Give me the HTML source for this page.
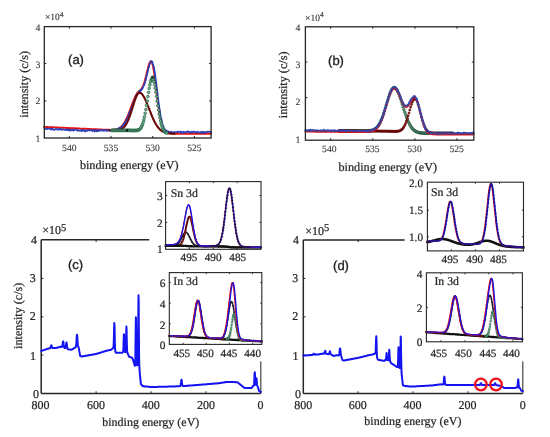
<!DOCTYPE html>
<html><head><meta charset="utf-8"><title>XPS spectra</title>
<style>
html,body{margin:0;padding:0;background:#fff;}
body{width:550px;height:437px;overflow:hidden;}
svg{display:block;filter:blur(0.3px);}
text{text-rendering:geometricPrecision;}
</style></head>
<body>
<svg width="550" height="437" viewBox="0 0 550 437">
<rect width="550" height="437" fill="#fff"/>
<polyline points="43.9,126.9 44.5,126.9 45.0,126.9 45.6,126.9 46.1,127.0 46.7,127.0 47.2,127.0 47.8,127.0 48.4,127.1 48.9,127.1 49.5,127.1 50.0,127.1 50.6,127.2 51.2,127.2 51.7,127.2 52.3,127.3 52.8,127.3 53.4,127.3 53.9,127.3 54.5,127.4 55.1,127.4 55.6,127.4 56.2,127.4 56.7,127.5 57.3,127.5 57.8,127.5 58.4,127.5 59.0,127.6 59.5,127.6 60.1,127.6 60.6,127.6 61.2,127.7 61.8,127.7 62.3,127.7 62.9,127.7 63.4,127.8 64.0,127.8 64.5,127.8 65.1,127.9 65.7,127.9 66.2,127.9 66.8,127.9 67.3,128.0 67.9,128.0 68.4,128.0 69.0,128.0 69.6,128.1 70.1,128.1 70.7,128.1 71.2,128.1 71.8,128.2 72.4,128.2 72.9,128.2 73.5,128.2 74.0,128.3 74.6,128.3 75.1,128.3 75.7,128.3 76.3,128.4 76.8,128.4 77.4,128.4 77.9,128.5 78.5,128.5 79.0,128.5 79.6,128.5 80.2,128.6 80.7,128.6 81.3,128.6 81.8,128.6 82.4,128.7 83.0,128.7 83.5,128.7 84.1,128.7 84.6,128.8 85.2,128.8 85.7,128.8 86.3,128.8 86.9,128.9 87.4,128.9 88.0,128.9 88.5,128.9 89.1,129.0 89.6,129.0 90.2,129.0 90.8,129.1 91.3,129.1 91.9,129.1 92.4,129.1 93.0,129.2 93.5,129.2 94.1,129.2 94.7,129.2 95.2,129.3 95.8,129.3 96.3,129.3 96.9,129.3 97.5,129.4 98.0,129.4 98.6,129.4 99.1,129.4 99.7,129.5 100.2,129.5 100.8,129.5 101.4,129.5 101.9,129.6 102.5,129.6 103.0,129.6 103.6,129.6 104.1,129.7 104.7,129.7 105.3,129.7 105.8,129.7 106.4,129.8 106.9,129.8 107.5,129.8 108.1,129.8 108.6,129.8 109.2,129.8 109.7,129.9 110.3,129.9 110.8,129.9 111.4,129.8 112.0,129.8 112.5,129.8 113.1,129.8 113.6,129.7 114.2,129.7 114.7,129.6 115.3,129.5 115.9,129.4 116.4,129.3 117.0,129.1 117.5,128.9 118.1,128.7 118.7,128.4 119.2,128.1 119.8,127.8 120.3,127.4 120.9,126.9 121.4,126.4 122.0,125.9 122.6,125.2 123.1,124.5 123.7,123.7 124.2,122.9 124.8,121.9 125.3,120.9 125.9,119.8 126.5,118.7 127.0,117.4 127.6,116.1 128.1,114.8 128.7,113.4 129.3,111.9 129.8,110.4 130.4,108.9 130.9,107.3 131.5,105.8 132.0,104.3 132.6,102.8 133.2,101.3 133.7,99.9 134.3,98.6 134.8,97.4 135.4,96.2 135.9,95.2 136.5,94.2 137.1,93.4 137.6,92.6 138.2,92.0 138.7,91.4 139.3,90.9 139.9,90.4 140.4,89.9 141.0,89.3 141.5,88.6 142.1,87.8 142.6,86.8 143.2,85.6 143.8,84.2 144.3,82.5 144.9,80.6 145.4,78.6 146.0,76.3 146.5,74.0 147.1,71.6 147.7,69.2 148.2,67.0 148.8,65.0 149.3,63.3 149.9,62.1 150.5,61.4 151.0,61.3 151.6,61.9 152.1,63.1 152.7,65.0 153.2,67.6 153.8,70.7 154.4,74.3 154.9,78.4 155.5,82.8 156.0,87.3 156.6,91.9 157.1,96.5 157.7,101.0 158.3,105.2 158.8,109.2 159.4,112.8 159.9,116.1 160.5,119.1 161.1,121.6 161.6,123.8 162.2,125.7 162.7,127.3 163.3,128.6 163.8,129.7 164.4,130.5 165.0,131.2 165.5,131.8 166.1,132.2 166.6,132.5 167.2,132.8 167.7,133.0 168.3,133.1 168.9,133.3 169.4,133.4 170.0,133.4 170.5,133.5 171.1,133.5 171.6,133.6 172.2,133.6 172.8,133.6 173.3,133.6 173.9,133.7 174.4,133.7 175.0,133.7 175.6,133.7 176.1,133.7 176.7,133.7 177.2,133.7 177.8,133.7 178.3,133.7 178.9,133.7 179.5,133.7 180.0,133.7 180.6,133.7 181.1,133.7 181.7,133.7 182.2,133.7 182.8,133.7 183.4,133.7 183.9,133.7 184.5,133.7 185.0,133.7 185.6,133.7 186.2,133.7 186.7,133.7 187.3,133.7 187.8,133.7 188.4,133.7 188.9,133.7 189.5,133.7 190.1,133.7 190.6,133.7 191.2,133.7 191.7,133.7 192.3,133.7 192.8,133.7 193.4,133.7 194.0,133.7 194.5,133.7 195.1,133.7 195.6,133.7 196.2,133.7 196.8,133.7 197.3,133.7 197.9,133.7 198.4,133.7 199.0,133.7 199.5,133.7 200.1,133.7 200.7,133.7 201.2,133.7 201.8,133.7 202.3,133.7 202.9,133.7 203.4,133.7 204.0,133.7 204.6,133.7 205.1,133.7 205.7,133.7 206.2,133.7 206.8,133.7 207.4,133.7 207.9,133.7 208.5,133.7 209.0,133.7 209.6,133.7 210.1,133.7 210.7,133.7" fill="none" stroke="#e81010" stroke-width="1.90" stroke-linejoin="round" stroke-linecap="round" />
<polyline points="44.6,128.8 45.2,128.5 45.7,128.9 46.3,128.9 46.8,129.2 47.4,128.9 47.9,128.4 48.5,128.7 49.1,128.5 49.6,128.9 50.2,128.8 50.7,128.9 51.3,129.7 51.9,128.7 52.4,128.9 53.0,128.9 53.5,129.8 54.1,129.9 54.6,129.6 55.2,129.4 55.8,129.1 56.3,129.3 56.9,129.1 57.4,129.6 58.0,129.2 58.5,129.2 59.1,129.7 59.7,128.7 60.2,129.2 60.8,129.0 61.3,129.8 61.9,129.8 62.5,129.7 63.0,129.6 63.6,129.3 64.1,129.5 64.7,129.8 65.2,130.1 65.8,129.9 66.4,129.2 66.9,130.1 67.5,129.7 68.0,129.6 68.6,130.4 69.1,129.8 69.7,129.3 70.3,130.7 70.8,130.1 71.4,130.0 71.9,130.3 72.5,129.8 73.1,130.1 73.6,130.7 74.2,129.7 74.7,129.8 75.3,129.7 75.8,129.6 76.4,130.0 77.0,130.1 77.5,130.8 78.1,130.0 78.6,130.5 79.2,130.5 79.7,130.8 80.3,130.7 80.9,130.6 81.4,129.8 82.0,131.2 82.5,131.0 83.1,130.3 83.7,129.9 84.2,130.2 84.8,131.3 85.3,131.5 85.9,130.4 86.4,130.8 87.0,131.0 87.6,130.2 88.1,130.1 88.7,130.5 89.2,130.5 89.8,130.4 90.3,130.0 90.9,130.4 91.5,130.4 92.0,130.4 92.6,131.3 93.1,130.1 93.7,130.3 94.2,130.4 94.8,131.5 95.4,130.9 95.9,130.3 96.5,131.4 97.0,130.7 97.6,130.2 98.2,131.2 98.7,130.0 99.3,130.4 99.8,130.7 100.4,130.4 100.9,130.3 101.5,130.5 102.1,130.1 102.6,130.8 103.2,130.7 103.7,130.1 104.3,130.5 104.8,130.8 105.4,130.1 106.0,129.8 106.5,130.6 107.1,131.0 107.6,130.5 108.2,130.4 108.8,130.5 109.3,129.8 109.9,130.8 110.4,129.8 111.0,130.8 111.5,130.6 112.1,130.0 112.7,129.7 113.2,129.8 113.8,130.0 114.3,130.0 114.9,129.9 115.4,129.6 116.0,129.8 116.6,129.5 117.1,129.2 117.7,129.3 118.2,128.8 118.8,128.6 119.4,127.8 119.9,128.1 120.5,128.1 121.0,127.7 121.6,127.1 122.1,126.2 122.7,126.1 123.3,125.1 123.8,123.8 124.4,124.8 124.9,123.4 125.5,121.9 126.0,120.8 126.6,119.8 127.2,118.9 127.7,117.2 128.3,116.1 128.8,115.0 129.4,112.4 130.0,111.8 130.5,110.6 131.1,108.9 131.6,107.4 132.2,105.8 132.7,105.4 133.3,103.0 133.9,100.9 134.4,100.4 135.0,98.6 135.5,97.0 136.1,95.9 136.6,94.6 137.2,94.9 137.8,93.5 138.3,92.8 138.9,91.7 139.4,91.0 140.0,92.0 140.6,90.0 141.1,90.5 141.7,89.0 142.2,89.2 142.8,87.7 143.3,86.3 143.9,85.6 144.5,84.1 145.0,82.2 145.6,80.6 146.1,78.6 146.7,75.7 147.2,73.5 147.8,71.7 148.4,68.1 148.9,67.4 149.5,64.6 150.0,63.4 150.6,62.0 151.2,61.1 151.7,61.2 152.3,61.6 152.8,63.7 153.4,65.6 153.9,67.2 154.5,71.0 155.1,74.7 155.6,78.9 156.2,82.1 156.7,86.9 157.3,91.2 157.8,96.7 158.4,100.8 159.0,105.5 159.5,108.7 160.1,111.9 160.6,116.2 161.2,118.1 161.8,120.9 162.3,123.5 162.9,126.1 163.4,126.2 164.0,128.1 164.5,129.3 165.1,129.7 165.7,130.4 166.2,130.4 166.8,131.8 167.3,131.2 167.9,131.3 168.4,131.4 169.0,132.2 169.6,132.5 170.1,131.8 170.7,132.2 171.2,132.2 171.8,131.7 172.3,132.4 172.9,133.2 173.5,132.4 174.0,133.0 174.6,131.9 175.1,132.1 175.7,132.5 176.3,132.2 176.8,131.8 177.4,132.1 177.9,131.6 178.5,132.2 179.0,131.7 179.6,131.5 180.2,131.5 180.7,132.4 181.3,131.7 181.8,132.9 182.4,132.5 182.9,132.9 183.5,131.6 184.1,132.6 184.6,132.1 185.2,132.1 185.7,132.1 186.3,132.3 186.9,132.0 187.4,131.3 188.0,132.0 188.5,131.8 189.1,131.6 189.6,132.1 190.2,132.6 190.8,132.3 191.3,131.6 191.9,132.7 192.4,132.3 193.0,131.6 193.5,131.7 194.1,132.0 194.7,131.7 195.2,132.0 195.8,132.5 196.3,132.7 196.9,132.3 197.5,131.7 198.0,132.3 198.6,132.4 199.1,132.4 199.7,132.7 200.2,132.1 200.8,132.5 201.4,131.9 201.9,133.0 202.5,131.9 203.0,132.3 203.6,132.8 204.1,131.8 204.7,132.2 205.3,133.0 205.8,132.4 206.4,131.9 206.9,132.2 207.5,131.7 208.1,131.7 208.6,131.8 209.2,131.9 209.7,131.5 210.3,131.8 210.8,131.9 211.4,132.9" fill="none" stroke="#2a3fb8" stroke-width="1.70" stroke-linejoin="round" stroke-linecap="round" />
<polyline points="109.4,130.4 109.9,130.4 110.4,130.4 111.0,130.4 111.5,130.4 112.1,130.4 112.6,130.3 113.2,130.3 113.7,130.3 114.3,130.3 114.8,130.3 115.4,130.3 115.9,130.2 116.5,130.2 117.0,130.1 117.6,130.1 118.1,130.0 118.6,129.9 119.2,129.8 119.7,129.7 120.3,129.5 120.8,129.3 121.4,129.0 121.9,128.7 122.5,128.4 123.0,128.0 123.6,127.5 124.1,127.0 124.7,126.4 125.2,125.7 125.8,124.9 126.3,124.0 126.8,123.0 127.4,121.9 127.9,120.8 128.5,119.5 129.0,118.1 129.6,116.6 130.1,115.1 130.7,113.5 131.2,111.8 131.8,110.0 132.3,108.3 132.9,106.5 133.4,104.7 134.0,103.0 134.5,101.4 135.0,99.8 135.6,98.3 136.1,97.0 136.7,95.8 137.2,94.7 137.8,93.9 138.3,93.3 138.9,92.9 139.4,92.7 140.0,92.8 140.5,93.0 141.1,93.3 141.6,93.7 142.2,94.3 142.7,95.0 143.2,95.8 143.8,96.7 144.3,97.6 144.9,98.7 145.4,99.9 146.0,101.1 146.5,102.4 147.1,103.7 147.6,105.0 148.2,106.4 148.7,107.8 149.3,109.2 149.8,110.7 150.4,112.1 150.9,113.4 151.4,114.8 152.0,116.1 152.5,117.4 153.1,118.6 153.6,119.8 154.2,121.0 154.7,122.0 155.3,123.1 155.8,124.0 156.4,124.9 156.9,125.8 157.5,126.6 158.0,127.3 158.6,128.0 159.1,128.6 159.6,129.2 160.2,129.7 160.7,130.2 161.3,130.6 161.8,131.0 162.4,131.3 162.9,131.6 163.5,131.9 164.0,132.1 164.6,132.4 165.1,132.6 165.7,132.7 166.2,132.9 166.8,133.0 167.3,133.1 167.8,133.2 168.4,133.3 168.9,133.3 169.5,133.4 170.0,133.5 170.6,133.5 171.1,133.5 171.7,133.6 172.2,133.6 172.8,133.6 173.3,133.6 173.9,133.7 174.4,133.7" fill="none" stroke="#6a0606" stroke-width="2.10" stroke-linejoin="round" stroke-linecap="round" />
<circle cx="111.9" cy="130.4" r="1.35" fill="#78bc98" stroke="#1d5a3a" stroke-width="0.70"/>
<circle cx="112.5" cy="130.4" r="1.35" fill="#78bc98" stroke="#1d5a3a" stroke-width="0.70"/>
<circle cx="113.2" cy="130.4" r="1.35" fill="#78bc98" stroke="#1d5a3a" stroke-width="0.70"/>
<circle cx="113.9" cy="130.4" r="1.35" fill="#78bc98" stroke="#1d5a3a" stroke-width="0.70"/>
<circle cx="114.5" cy="130.4" r="1.35" fill="#78bc98" stroke="#1d5a3a" stroke-width="0.70"/>
<circle cx="115.2" cy="130.4" r="1.35" fill="#78bc98" stroke="#1d5a3a" stroke-width="0.70"/>
<circle cx="115.9" cy="130.4" r="1.35" fill="#78bc98" stroke="#1d5a3a" stroke-width="0.70"/>
<circle cx="116.5" cy="130.4" r="1.35" fill="#78bc98" stroke="#1d5a3a" stroke-width="0.70"/>
<circle cx="117.2" cy="130.4" r="1.35" fill="#78bc98" stroke="#1d5a3a" stroke-width="0.70"/>
<circle cx="117.9" cy="130.4" r="1.35" fill="#78bc98" stroke="#1d5a3a" stroke-width="0.70"/>
<circle cx="118.5" cy="130.4" r="1.35" fill="#78bc98" stroke="#1d5a3a" stroke-width="0.70"/>
<circle cx="119.2" cy="130.4" r="1.35" fill="#78bc98" stroke="#1d5a3a" stroke-width="0.70"/>
<circle cx="119.9" cy="130.4" r="1.35" fill="#78bc98" stroke="#1d5a3a" stroke-width="0.70"/>
<circle cx="120.5" cy="130.4" r="1.35" fill="#78bc98" stroke="#1d5a3a" stroke-width="0.70"/>
<circle cx="121.2" cy="130.4" r="1.35" fill="#78bc98" stroke="#1d5a3a" stroke-width="0.70"/>
<circle cx="121.9" cy="130.4" r="1.35" fill="#78bc98" stroke="#1d5a3a" stroke-width="0.70"/>
<circle cx="122.5" cy="130.4" r="1.35" fill="#78bc98" stroke="#1d5a3a" stroke-width="0.70"/>
<circle cx="123.2" cy="130.4" r="1.35" fill="#78bc98" stroke="#1d5a3a" stroke-width="0.70"/>
<circle cx="123.9" cy="130.4" r="1.35" fill="#78bc98" stroke="#1d5a3a" stroke-width="0.70"/>
<circle cx="124.5" cy="130.4" r="1.35" fill="#78bc98" stroke="#1d5a3a" stroke-width="0.70"/>
<circle cx="125.2" cy="130.4" r="1.35" fill="#78bc98" stroke="#1d5a3a" stroke-width="0.70"/>
<circle cx="125.9" cy="130.4" r="1.35" fill="#78bc98" stroke="#1d5a3a" stroke-width="0.70"/>
<circle cx="126.5" cy="130.4" r="1.35" fill="#78bc98" stroke="#1d5a3a" stroke-width="0.70"/>
<circle cx="127.2" cy="130.4" r="1.35" fill="#78bc98" stroke="#1d5a3a" stroke-width="0.70"/>
<circle cx="127.9" cy="130.4" r="1.35" fill="#78bc98" stroke="#1d5a3a" stroke-width="0.70"/>
<circle cx="128.5" cy="130.4" r="1.35" fill="#78bc98" stroke="#1d5a3a" stroke-width="0.70"/>
<circle cx="129.2" cy="130.4" r="1.35" fill="#78bc98" stroke="#1d5a3a" stroke-width="0.70"/>
<circle cx="129.9" cy="130.4" r="1.35" fill="#78bc98" stroke="#1d5a3a" stroke-width="0.70"/>
<circle cx="130.5" cy="130.4" r="1.35" fill="#78bc98" stroke="#1d5a3a" stroke-width="0.70"/>
<circle cx="131.2" cy="130.5" r="1.35" fill="#78bc98" stroke="#1d5a3a" stroke-width="0.70"/>
<circle cx="131.9" cy="130.5" r="1.35" fill="#78bc98" stroke="#1d5a3a" stroke-width="0.70"/>
<circle cx="132.5" cy="130.5" r="1.35" fill="#78bc98" stroke="#1d5a3a" stroke-width="0.70"/>
<circle cx="133.2" cy="130.5" r="1.35" fill="#78bc98" stroke="#1d5a3a" stroke-width="0.70"/>
<circle cx="133.9" cy="130.5" r="1.35" fill="#78bc98" stroke="#1d5a3a" stroke-width="0.70"/>
<circle cx="134.5" cy="130.5" r="1.35" fill="#78bc98" stroke="#1d5a3a" stroke-width="0.70"/>
<circle cx="135.2" cy="130.5" r="1.35" fill="#78bc98" stroke="#1d5a3a" stroke-width="0.70"/>
<circle cx="135.9" cy="130.5" r="1.35" fill="#78bc98" stroke="#1d5a3a" stroke-width="0.70"/>
<circle cx="136.5" cy="130.5" r="1.35" fill="#78bc98" stroke="#1d5a3a" stroke-width="0.70"/>
<circle cx="137.2" cy="130.4" r="1.35" fill="#78bc98" stroke="#1d5a3a" stroke-width="0.70"/>
<circle cx="137.9" cy="130.2" r="1.35" fill="#78bc98" stroke="#1d5a3a" stroke-width="0.70"/>
<circle cx="138.5" cy="130.0" r="1.35" fill="#78bc98" stroke="#1d5a3a" stroke-width="0.70"/>
<circle cx="139.2" cy="129.6" r="1.35" fill="#78bc98" stroke="#1d5a3a" stroke-width="0.70"/>
<circle cx="139.9" cy="129.1" r="1.35" fill="#78bc98" stroke="#1d5a3a" stroke-width="0.70"/>
<circle cx="140.5" cy="128.3" r="1.35" fill="#78bc98" stroke="#1d5a3a" stroke-width="0.70"/>
<circle cx="141.2" cy="127.3" r="1.35" fill="#78bc98" stroke="#1d5a3a" stroke-width="0.70"/>
<circle cx="141.9" cy="126.0" r="1.35" fill="#78bc98" stroke="#1d5a3a" stroke-width="0.70"/>
<circle cx="142.5" cy="124.4" r="1.35" fill="#78bc98" stroke="#1d5a3a" stroke-width="0.70"/>
<circle cx="143.2" cy="122.3" r="1.35" fill="#78bc98" stroke="#1d5a3a" stroke-width="0.70"/>
<circle cx="143.9" cy="119.8" r="1.35" fill="#78bc98" stroke="#1d5a3a" stroke-width="0.70"/>
<circle cx="144.5" cy="116.8" r="1.35" fill="#78bc98" stroke="#1d5a3a" stroke-width="0.70"/>
<circle cx="145.2" cy="113.3" r="1.35" fill="#78bc98" stroke="#1d5a3a" stroke-width="0.70"/>
<circle cx="145.9" cy="109.5" r="1.35" fill="#78bc98" stroke="#1d5a3a" stroke-width="0.70"/>
<circle cx="146.5" cy="105.4" r="1.35" fill="#78bc98" stroke="#1d5a3a" stroke-width="0.70"/>
<circle cx="147.2" cy="101.0" r="1.35" fill="#78bc98" stroke="#1d5a3a" stroke-width="0.70"/>
<circle cx="147.9" cy="96.6" r="1.35" fill="#78bc98" stroke="#1d5a3a" stroke-width="0.70"/>
<circle cx="148.6" cy="92.3" r="1.35" fill="#78bc98" stroke="#1d5a3a" stroke-width="0.70"/>
<circle cx="149.2" cy="88.3" r="1.35" fill="#78bc98" stroke="#1d5a3a" stroke-width="0.70"/>
<circle cx="149.9" cy="84.8" r="1.35" fill="#78bc98" stroke="#1d5a3a" stroke-width="0.70"/>
<circle cx="150.6" cy="81.9" r="1.35" fill="#78bc98" stroke="#1d5a3a" stroke-width="0.70"/>
<circle cx="151.2" cy="79.9" r="1.35" fill="#78bc98" stroke="#1d5a3a" stroke-width="0.70"/>
<circle cx="151.9" cy="78.9" r="1.35" fill="#78bc98" stroke="#1d5a3a" stroke-width="0.70"/>
<circle cx="152.6" cy="78.8" r="1.35" fill="#78bc98" stroke="#1d5a3a" stroke-width="0.70"/>
<circle cx="153.2" cy="79.8" r="1.35" fill="#78bc98" stroke="#1d5a3a" stroke-width="0.70"/>
<circle cx="153.9" cy="81.7" r="1.35" fill="#78bc98" stroke="#1d5a3a" stroke-width="0.70"/>
<circle cx="154.6" cy="84.5" r="1.35" fill="#78bc98" stroke="#1d5a3a" stroke-width="0.70"/>
<circle cx="155.2" cy="88.1" r="1.35" fill="#78bc98" stroke="#1d5a3a" stroke-width="0.70"/>
<circle cx="155.9" cy="92.1" r="1.35" fill="#78bc98" stroke="#1d5a3a" stroke-width="0.70"/>
<circle cx="156.6" cy="96.5" r="1.35" fill="#78bc98" stroke="#1d5a3a" stroke-width="0.70"/>
<circle cx="157.2" cy="101.1" r="1.35" fill="#78bc98" stroke="#1d5a3a" stroke-width="0.70"/>
<circle cx="157.9" cy="105.6" r="1.35" fill="#78bc98" stroke="#1d5a3a" stroke-width="0.70"/>
<circle cx="158.6" cy="110.0" r="1.35" fill="#78bc98" stroke="#1d5a3a" stroke-width="0.70"/>
<circle cx="159.2" cy="114.1" r="1.35" fill="#78bc98" stroke="#1d5a3a" stroke-width="0.70"/>
<circle cx="159.9" cy="117.7" r="1.35" fill="#78bc98" stroke="#1d5a3a" stroke-width="0.70"/>
<circle cx="160.6" cy="121.0" r="1.35" fill="#78bc98" stroke="#1d5a3a" stroke-width="0.70"/>
<circle cx="161.2" cy="123.7" r="1.35" fill="#78bc98" stroke="#1d5a3a" stroke-width="0.70"/>
<circle cx="161.9" cy="126.1" r="1.35" fill="#78bc98" stroke="#1d5a3a" stroke-width="0.70"/>
<circle cx="162.6" cy="127.9" r="1.35" fill="#78bc98" stroke="#1d5a3a" stroke-width="0.70"/>
<circle cx="163.2" cy="129.4" r="1.35" fill="#78bc98" stroke="#1d5a3a" stroke-width="0.70"/>
<circle cx="163.9" cy="130.6" r="1.35" fill="#78bc98" stroke="#1d5a3a" stroke-width="0.70"/>
<circle cx="164.6" cy="131.5" r="1.35" fill="#78bc98" stroke="#1d5a3a" stroke-width="0.70"/>
<circle cx="165.2" cy="132.2" r="1.35" fill="#78bc98" stroke="#1d5a3a" stroke-width="0.70"/>
<circle cx="165.9" cy="132.7" r="1.35" fill="#78bc98" stroke="#1d5a3a" stroke-width="0.70"/>
<circle cx="166.6" cy="133.0" r="1.35" fill="#78bc98" stroke="#1d5a3a" stroke-width="0.70"/>
<circle cx="127.1" cy="130.4" r="1.1" fill="#000"/>
<circle cx="152.6" cy="77.2" r="1.8" fill="#1d4d33"/>
<rect x="44.3" y="26.6" width="166.8" height="111.4" fill="none" stroke="#262626" stroke-width="1.30"/>
<line x1="69.3" y1="138.0" x2="69.3" y2="136.0" stroke="#262626" stroke-width="1.00"/>
<line x1="69.3" y1="26.6" x2="69.3" y2="28.6" stroke="#262626" stroke-width="1.00"/>
<line x1="111.0" y1="138.0" x2="111.0" y2="136.0" stroke="#262626" stroke-width="1.00"/>
<line x1="111.0" y1="26.6" x2="111.0" y2="28.6" stroke="#262626" stroke-width="1.00"/>
<line x1="152.7" y1="138.0" x2="152.7" y2="136.0" stroke="#262626" stroke-width="1.00"/>
<line x1="152.7" y1="26.6" x2="152.7" y2="28.6" stroke="#262626" stroke-width="1.00"/>
<line x1="194.4" y1="138.0" x2="194.4" y2="136.0" stroke="#262626" stroke-width="1.00"/>
<line x1="194.4" y1="26.6" x2="194.4" y2="28.6" stroke="#262626" stroke-width="1.00"/>
<line x1="44.3" y1="100.9" x2="46.3" y2="100.9" stroke="#262626" stroke-width="1.00"/>
<line x1="211.1" y1="100.9" x2="209.1" y2="100.9" stroke="#262626" stroke-width="1.00"/>
<line x1="44.3" y1="63.5" x2="46.3" y2="63.5" stroke="#262626" stroke-width="1.00"/>
<line x1="211.1" y1="63.5" x2="209.1" y2="63.5" stroke="#262626" stroke-width="1.00"/>
<text x="69.3" y="151.0" font-family='"Liberation Serif", serif' font-size="9.60" text-anchor="middle" fill="#383838" stroke="#383838" stroke-width="0.10" >540</text>
<text x="111.0" y="151.0" font-family='"Liberation Serif", serif' font-size="9.60" text-anchor="middle" fill="#383838" stroke="#383838" stroke-width="0.10" >535</text>
<text x="152.7" y="151.0" font-family='"Liberation Serif", serif' font-size="9.60" text-anchor="middle" fill="#383838" stroke="#383838" stroke-width="0.10" >530</text>
<text x="194.4" y="151.0" font-family='"Liberation Serif", serif' font-size="9.60" text-anchor="middle" fill="#383838" stroke="#383838" stroke-width="0.10" >525</text>
<text x="38.0" y="30.6" font-family='"Liberation Serif", serif' font-size="9.80" text-anchor="middle" fill="#383838" stroke="#383838" stroke-width="0.10" >4</text>
<text x="38.0" y="67.5" font-family='"Liberation Serif", serif' font-size="9.80" text-anchor="middle" fill="#383838" stroke="#383838" stroke-width="0.10" >3</text>
<text x="38.0" y="104.3" font-family='"Liberation Serif", serif' font-size="9.80" text-anchor="middle" fill="#383838" stroke="#383838" stroke-width="0.10" >2</text>
<text x="38.0" y="142.0" font-family='"Liberation Serif", serif' font-size="9.80" text-anchor="middle" fill="#383838" stroke="#383838" stroke-width="0.10" >1</text>
<text x="45.0" y="20.3" font-family='"Liberation Serif", serif' font-size="9.50" text-anchor="start" fill="#3a3a3a" stroke="#3a3a3a" stroke-width="0.15" >&#215;10<tspan dy="-3.2" font-size="7.6">4</tspan></text>
<text x="76.0" y="64.2" font-family='"Liberation Sans", sans-serif' font-size="13.00" text-anchor="middle" fill="#1e1e1e" stroke="#1e1e1e" stroke-width="0.32" >(a)</text>
<text x="28.2" y="84.4" font-family='"Liberation Serif", serif' font-size="12.20" text-anchor="middle" fill="#262626" stroke="#262626" stroke-width="0.22" transform="rotate(-90 28.2 84.4)">intensity (c/s)</text>
<text x="129.2" y="168.9" font-family='"Liberation Serif", serif' font-size="12.20" text-anchor="middle" fill="#262626" stroke="#262626" stroke-width="0.22" >binding energy (eV)</text>
<circle cx="339.1" cy="130.8" r="1.30" fill="#5aa47e" stroke="#1c4030" stroke-width="0.60"/>
<circle cx="339.9" cy="130.8" r="1.30" fill="#5aa47e" stroke="#1c4030" stroke-width="0.60"/>
<circle cx="340.8" cy="130.8" r="1.30" fill="#5aa47e" stroke="#1c4030" stroke-width="0.60"/>
<circle cx="341.6" cy="130.8" r="1.30" fill="#5aa47e" stroke="#1c4030" stroke-width="0.60"/>
<circle cx="342.4" cy="130.8" r="1.30" fill="#5aa47e" stroke="#1c4030" stroke-width="0.60"/>
<circle cx="343.3" cy="130.8" r="1.30" fill="#5aa47e" stroke="#1c4030" stroke-width="0.60"/>
<circle cx="344.1" cy="130.8" r="1.30" fill="#5aa47e" stroke="#1c4030" stroke-width="0.60"/>
<circle cx="345.0" cy="130.9" r="1.30" fill="#5aa47e" stroke="#1c4030" stroke-width="0.60"/>
<circle cx="345.8" cy="130.9" r="1.30" fill="#5aa47e" stroke="#1c4030" stroke-width="0.60"/>
<circle cx="346.7" cy="130.9" r="1.30" fill="#5aa47e" stroke="#1c4030" stroke-width="0.60"/>
<circle cx="347.5" cy="130.9" r="1.30" fill="#5aa47e" stroke="#1c4030" stroke-width="0.60"/>
<circle cx="348.3" cy="130.9" r="1.30" fill="#5aa47e" stroke="#1c4030" stroke-width="0.60"/>
<circle cx="349.2" cy="130.9" r="1.30" fill="#5aa47e" stroke="#1c4030" stroke-width="0.60"/>
<circle cx="350.0" cy="130.9" r="1.30" fill="#5aa47e" stroke="#1c4030" stroke-width="0.60"/>
<circle cx="350.9" cy="130.9" r="1.30" fill="#5aa47e" stroke="#1c4030" stroke-width="0.60"/>
<circle cx="351.7" cy="130.9" r="1.30" fill="#5aa47e" stroke="#1c4030" stroke-width="0.60"/>
<circle cx="352.6" cy="130.9" r="1.30" fill="#5aa47e" stroke="#1c4030" stroke-width="0.60"/>
<circle cx="353.4" cy="130.9" r="1.30" fill="#5aa47e" stroke="#1c4030" stroke-width="0.60"/>
<circle cx="354.2" cy="130.9" r="1.30" fill="#5aa47e" stroke="#1c4030" stroke-width="0.60"/>
<circle cx="355.1" cy="130.9" r="1.30" fill="#5aa47e" stroke="#1c4030" stroke-width="0.60"/>
<circle cx="355.9" cy="130.9" r="1.30" fill="#5aa47e" stroke="#1c4030" stroke-width="0.60"/>
<circle cx="356.8" cy="130.9" r="1.30" fill="#5aa47e" stroke="#1c4030" stroke-width="0.60"/>
<circle cx="357.6" cy="131.0" r="1.30" fill="#5aa47e" stroke="#1c4030" stroke-width="0.60"/>
<circle cx="358.4" cy="131.0" r="1.30" fill="#5aa47e" stroke="#1c4030" stroke-width="0.60"/>
<circle cx="359.3" cy="131.0" r="1.30" fill="#5aa47e" stroke="#1c4030" stroke-width="0.60"/>
<circle cx="360.1" cy="131.0" r="1.30" fill="#5aa47e" stroke="#1c4030" stroke-width="0.60"/>
<circle cx="361.0" cy="131.0" r="1.30" fill="#5aa47e" stroke="#1c4030" stroke-width="0.60"/>
<circle cx="361.8" cy="131.0" r="1.30" fill="#5aa47e" stroke="#1c4030" stroke-width="0.60"/>
<circle cx="362.7" cy="131.0" r="1.30" fill="#5aa47e" stroke="#1c4030" stroke-width="0.60"/>
<circle cx="363.5" cy="131.0" r="1.30" fill="#5aa47e" stroke="#1c4030" stroke-width="0.60"/>
<circle cx="364.3" cy="131.0" r="1.30" fill="#5aa47e" stroke="#1c4030" stroke-width="0.60"/>
<circle cx="365.2" cy="131.0" r="1.30" fill="#5aa47e" stroke="#1c4030" stroke-width="0.60"/>
<circle cx="366.0" cy="131.0" r="1.30" fill="#5aa47e" stroke="#1c4030" stroke-width="0.60"/>
<circle cx="366.9" cy="130.9" r="1.30" fill="#5aa47e" stroke="#1c4030" stroke-width="0.60"/>
<circle cx="367.7" cy="130.9" r="1.30" fill="#5aa47e" stroke="#1c4030" stroke-width="0.60"/>
<circle cx="368.6" cy="130.8" r="1.30" fill="#5aa47e" stroke="#1c4030" stroke-width="0.60"/>
<circle cx="369.4" cy="130.8" r="1.30" fill="#5aa47e" stroke="#1c4030" stroke-width="0.60"/>
<circle cx="370.2" cy="130.7" r="1.30" fill="#5aa47e" stroke="#1c4030" stroke-width="0.60"/>
<circle cx="371.1" cy="130.5" r="1.30" fill="#5aa47e" stroke="#1c4030" stroke-width="0.60"/>
<circle cx="371.9" cy="130.3" r="1.30" fill="#5aa47e" stroke="#1c4030" stroke-width="0.60"/>
<circle cx="372.8" cy="130.1" r="1.30" fill="#5aa47e" stroke="#1c4030" stroke-width="0.60"/>
<circle cx="373.6" cy="129.7" r="1.30" fill="#5aa47e" stroke="#1c4030" stroke-width="0.60"/>
<circle cx="374.4" cy="129.3" r="1.30" fill="#5aa47e" stroke="#1c4030" stroke-width="0.60"/>
<circle cx="375.3" cy="128.8" r="1.30" fill="#5aa47e" stroke="#1c4030" stroke-width="0.60"/>
<circle cx="376.1" cy="128.1" r="1.30" fill="#5aa47e" stroke="#1c4030" stroke-width="0.60"/>
<circle cx="377.0" cy="127.3" r="1.30" fill="#5aa47e" stroke="#1c4030" stroke-width="0.60"/>
<circle cx="377.8" cy="126.3" r="1.30" fill="#5aa47e" stroke="#1c4030" stroke-width="0.60"/>
<circle cx="378.7" cy="125.1" r="1.30" fill="#5aa47e" stroke="#1c4030" stroke-width="0.60"/>
<circle cx="379.5" cy="123.7" r="1.30" fill="#5aa47e" stroke="#1c4030" stroke-width="0.60"/>
<circle cx="380.3" cy="122.1" r="1.30" fill="#5aa47e" stroke="#1c4030" stroke-width="0.60"/>
<circle cx="381.2" cy="120.2" r="1.30" fill="#5aa47e" stroke="#1c4030" stroke-width="0.60"/>
<circle cx="382.0" cy="118.2" r="1.30" fill="#5aa47e" stroke="#1c4030" stroke-width="0.60"/>
<circle cx="382.9" cy="115.9" r="1.30" fill="#5aa47e" stroke="#1c4030" stroke-width="0.60"/>
<circle cx="383.7" cy="113.4" r="1.30" fill="#5aa47e" stroke="#1c4030" stroke-width="0.60"/>
<circle cx="384.5" cy="110.8" r="1.30" fill="#5aa47e" stroke="#1c4030" stroke-width="0.60"/>
<circle cx="385.4" cy="108.0" r="1.30" fill="#5aa47e" stroke="#1c4030" stroke-width="0.60"/>
<circle cx="386.2" cy="105.2" r="1.30" fill="#5aa47e" stroke="#1c4030" stroke-width="0.60"/>
<circle cx="387.1" cy="102.3" r="1.30" fill="#5aa47e" stroke="#1c4030" stroke-width="0.60"/>
<circle cx="387.9" cy="99.5" r="1.30" fill="#5aa47e" stroke="#1c4030" stroke-width="0.60"/>
<circle cx="388.8" cy="96.9" r="1.30" fill="#5aa47e" stroke="#1c4030" stroke-width="0.60"/>
<circle cx="389.6" cy="94.4" r="1.30" fill="#5aa47e" stroke="#1c4030" stroke-width="0.60"/>
<circle cx="390.4" cy="92.3" r="1.30" fill="#5aa47e" stroke="#1c4030" stroke-width="0.60"/>
<circle cx="391.3" cy="90.4" r="1.30" fill="#5aa47e" stroke="#1c4030" stroke-width="0.60"/>
<circle cx="392.1" cy="89.0" r="1.30" fill="#5aa47e" stroke="#1c4030" stroke-width="0.60"/>
<circle cx="393.0" cy="88.1" r="1.30" fill="#5aa47e" stroke="#1c4030" stroke-width="0.60"/>
<circle cx="393.8" cy="87.6" r="1.30" fill="#5aa47e" stroke="#1c4030" stroke-width="0.60"/>
<circle cx="394.7" cy="87.6" r="1.30" fill="#5aa47e" stroke="#1c4030" stroke-width="0.60"/>
<circle cx="395.5" cy="88.1" r="1.30" fill="#5aa47e" stroke="#1c4030" stroke-width="0.60"/>
<circle cx="396.3" cy="89.0" r="1.30" fill="#5aa47e" stroke="#1c4030" stroke-width="0.60"/>
<circle cx="397.2" cy="90.3" r="1.30" fill="#5aa47e" stroke="#1c4030" stroke-width="0.60"/>
<circle cx="398.0" cy="92.0" r="1.30" fill="#5aa47e" stroke="#1c4030" stroke-width="0.60"/>
<circle cx="398.9" cy="94.0" r="1.30" fill="#5aa47e" stroke="#1c4030" stroke-width="0.60"/>
<circle cx="399.7" cy="96.2" r="1.30" fill="#5aa47e" stroke="#1c4030" stroke-width="0.60"/>
<circle cx="400.5" cy="98.7" r="1.30" fill="#5aa47e" stroke="#1c4030" stroke-width="0.60"/>
<circle cx="401.4" cy="101.3" r="1.30" fill="#5aa47e" stroke="#1c4030" stroke-width="0.60"/>
<circle cx="402.2" cy="104.0" r="1.30" fill="#5aa47e" stroke="#1c4030" stroke-width="0.60"/>
<circle cx="403.1" cy="106.7" r="1.30" fill="#5aa47e" stroke="#1c4030" stroke-width="0.60"/>
<circle cx="403.9" cy="109.5" r="1.30" fill="#5aa47e" stroke="#1c4030" stroke-width="0.60"/>
<circle cx="404.8" cy="112.1" r="1.30" fill="#5aa47e" stroke="#1c4030" stroke-width="0.60"/>
<circle cx="405.6" cy="114.6" r="1.30" fill="#5aa47e" stroke="#1c4030" stroke-width="0.60"/>
<circle cx="406.4" cy="117.0" r="1.30" fill="#5aa47e" stroke="#1c4030" stroke-width="0.60"/>
<circle cx="407.3" cy="119.2" r="1.30" fill="#5aa47e" stroke="#1c4030" stroke-width="0.60"/>
<circle cx="408.1" cy="121.2" r="1.30" fill="#5aa47e" stroke="#1c4030" stroke-width="0.60"/>
<circle cx="409.0" cy="123.1" r="1.30" fill="#5aa47e" stroke="#1c4030" stroke-width="0.60"/>
<circle cx="409.8" cy="124.7" r="1.30" fill="#5aa47e" stroke="#1c4030" stroke-width="0.60"/>
<circle cx="410.6" cy="126.1" r="1.30" fill="#5aa47e" stroke="#1c4030" stroke-width="0.60"/>
<circle cx="411.5" cy="127.4" r="1.30" fill="#5aa47e" stroke="#1c4030" stroke-width="0.60"/>
<circle cx="412.3" cy="128.5" r="1.30" fill="#5aa47e" stroke="#1c4030" stroke-width="0.60"/>
<circle cx="413.2" cy="129.4" r="1.30" fill="#5aa47e" stroke="#1c4030" stroke-width="0.60"/>
<circle cx="414.0" cy="130.2" r="1.30" fill="#5aa47e" stroke="#1c4030" stroke-width="0.60"/>
<circle cx="414.9" cy="130.8" r="1.30" fill="#5aa47e" stroke="#1c4030" stroke-width="0.60"/>
<circle cx="415.7" cy="131.3" r="1.30" fill="#5aa47e" stroke="#1c4030" stroke-width="0.60"/>
<circle cx="416.5" cy="131.8" r="1.30" fill="#5aa47e" stroke="#1c4030" stroke-width="0.60"/>
<circle cx="417.4" cy="132.1" r="1.30" fill="#5aa47e" stroke="#1c4030" stroke-width="0.60"/>
<circle cx="418.2" cy="132.4" r="1.30" fill="#5aa47e" stroke="#1c4030" stroke-width="0.60"/>
<circle cx="419.1" cy="132.6" r="1.30" fill="#5aa47e" stroke="#1c4030" stroke-width="0.60"/>
<circle cx="419.9" cy="132.8" r="1.30" fill="#5aa47e" stroke="#1c4030" stroke-width="0.60"/>
<circle cx="420.8" cy="132.9" r="1.30" fill="#5aa47e" stroke="#1c4030" stroke-width="0.60"/>
<circle cx="421.6" cy="133.0" r="1.30" fill="#5aa47e" stroke="#1c4030" stroke-width="0.60"/>
<circle cx="422.4" cy="133.1" r="1.30" fill="#5aa47e" stroke="#1c4030" stroke-width="0.60"/>
<circle cx="423.3" cy="133.1" r="1.30" fill="#5aa47e" stroke="#1c4030" stroke-width="0.60"/>
<circle cx="424.1" cy="133.2" r="1.30" fill="#5aa47e" stroke="#1c4030" stroke-width="0.60"/>
<circle cx="425.0" cy="133.2" r="1.30" fill="#5aa47e" stroke="#1c4030" stroke-width="0.60"/>
<circle cx="425.8" cy="133.2" r="1.30" fill="#5aa47e" stroke="#1c4030" stroke-width="0.60"/>
<circle cx="426.6" cy="133.3" r="1.30" fill="#5aa47e" stroke="#1c4030" stroke-width="0.60"/>
<circle cx="427.5" cy="133.3" r="1.30" fill="#5aa47e" stroke="#1c4030" stroke-width="0.60"/>
<circle cx="428.3" cy="133.3" r="1.30" fill="#5aa47e" stroke="#1c4030" stroke-width="0.60"/>
<circle cx="429.2" cy="133.3" r="1.30" fill="#5aa47e" stroke="#1c4030" stroke-width="0.60"/>
<circle cx="430.0" cy="133.3" r="1.30" fill="#5aa47e" stroke="#1c4030" stroke-width="0.60"/>
<circle cx="430.9" cy="133.3" r="1.30" fill="#5aa47e" stroke="#1c4030" stroke-width="0.60"/>
<circle cx="431.7" cy="133.3" r="1.30" fill="#5aa47e" stroke="#1c4030" stroke-width="0.60"/>
<circle cx="432.5" cy="133.3" r="1.30" fill="#5aa47e" stroke="#1c4030" stroke-width="0.60"/>
<circle cx="433.4" cy="133.3" r="1.30" fill="#5aa47e" stroke="#1c4030" stroke-width="0.60"/>
<circle cx="434.2" cy="133.3" r="1.30" fill="#5aa47e" stroke="#1c4030" stroke-width="0.60"/>
<circle cx="435.1" cy="133.3" r="1.30" fill="#5aa47e" stroke="#1c4030" stroke-width="0.60"/>
<circle cx="435.9" cy="133.3" r="1.30" fill="#5aa47e" stroke="#1c4030" stroke-width="0.60"/>
<circle cx="436.8" cy="133.3" r="1.30" fill="#5aa47e" stroke="#1c4030" stroke-width="0.60"/>
<circle cx="437.6" cy="133.3" r="1.30" fill="#5aa47e" stroke="#1c4030" stroke-width="0.60"/>
<circle cx="438.4" cy="133.3" r="1.30" fill="#5aa47e" stroke="#1c4030" stroke-width="0.60"/>
<circle cx="439.3" cy="133.3" r="1.30" fill="#5aa47e" stroke="#1c4030" stroke-width="0.60"/>
<circle cx="440.1" cy="133.3" r="1.30" fill="#5aa47e" stroke="#1c4030" stroke-width="0.60"/>
<circle cx="441.0" cy="133.3" r="1.30" fill="#5aa47e" stroke="#1c4030" stroke-width="0.60"/>
<circle cx="441.8" cy="133.3" r="1.30" fill="#5aa47e" stroke="#1c4030" stroke-width="0.60"/>
<circle cx="442.6" cy="133.3" r="1.30" fill="#5aa47e" stroke="#1c4030" stroke-width="0.60"/>
<circle cx="443.5" cy="133.3" r="1.30" fill="#5aa47e" stroke="#1c4030" stroke-width="0.60"/>
<circle cx="444.3" cy="133.3" r="1.30" fill="#5aa47e" stroke="#1c4030" stroke-width="0.60"/>
<circle cx="445.2" cy="133.3" r="1.30" fill="#5aa47e" stroke="#1c4030" stroke-width="0.60"/>
<circle cx="446.0" cy="133.3" r="1.30" fill="#5aa47e" stroke="#1c4030" stroke-width="0.60"/>
<circle cx="446.9" cy="133.3" r="1.30" fill="#5aa47e" stroke="#1c4030" stroke-width="0.60"/>
<circle cx="447.7" cy="133.3" r="1.30" fill="#5aa47e" stroke="#1c4030" stroke-width="0.60"/>
<circle cx="448.5" cy="133.3" r="1.30" fill="#5aa47e" stroke="#1c4030" stroke-width="0.60"/>
<circle cx="449.4" cy="133.3" r="1.30" fill="#5aa47e" stroke="#1c4030" stroke-width="0.60"/>
<circle cx="450.2" cy="133.3" r="1.30" fill="#5aa47e" stroke="#1c4030" stroke-width="0.60"/>
<circle cx="451.1" cy="133.3" r="1.30" fill="#5aa47e" stroke="#1c4030" stroke-width="0.60"/>
<circle cx="451.9" cy="133.3" r="1.30" fill="#5aa47e" stroke="#1c4030" stroke-width="0.60"/>
<circle cx="452.8" cy="133.3" r="1.30" fill="#5aa47e" stroke="#1c4030" stroke-width="0.60"/>
<circle cx="339.1" cy="130.8" r="1.10" fill="#b01414" stroke="#3a0000" stroke-width="0.55"/>
<circle cx="339.9" cy="130.8" r="1.10" fill="#b01414" stroke="#3a0000" stroke-width="0.55"/>
<circle cx="340.8" cy="130.8" r="1.10" fill="#b01414" stroke="#3a0000" stroke-width="0.55"/>
<circle cx="341.6" cy="130.8" r="1.10" fill="#b01414" stroke="#3a0000" stroke-width="0.55"/>
<circle cx="342.4" cy="130.8" r="1.10" fill="#b01414" stroke="#3a0000" stroke-width="0.55"/>
<circle cx="343.3" cy="130.8" r="1.10" fill="#b01414" stroke="#3a0000" stroke-width="0.55"/>
<circle cx="344.1" cy="130.8" r="1.10" fill="#b01414" stroke="#3a0000" stroke-width="0.55"/>
<circle cx="345.0" cy="130.9" r="1.10" fill="#b01414" stroke="#3a0000" stroke-width="0.55"/>
<circle cx="345.8" cy="130.9" r="1.10" fill="#b01414" stroke="#3a0000" stroke-width="0.55"/>
<circle cx="346.7" cy="130.9" r="1.10" fill="#b01414" stroke="#3a0000" stroke-width="0.55"/>
<circle cx="347.5" cy="130.9" r="1.10" fill="#b01414" stroke="#3a0000" stroke-width="0.55"/>
<circle cx="348.3" cy="130.9" r="1.10" fill="#b01414" stroke="#3a0000" stroke-width="0.55"/>
<circle cx="349.2" cy="130.9" r="1.10" fill="#b01414" stroke="#3a0000" stroke-width="0.55"/>
<circle cx="350.0" cy="130.9" r="1.10" fill="#b01414" stroke="#3a0000" stroke-width="0.55"/>
<circle cx="350.9" cy="130.9" r="1.10" fill="#b01414" stroke="#3a0000" stroke-width="0.55"/>
<circle cx="351.7" cy="130.9" r="1.10" fill="#b01414" stroke="#3a0000" stroke-width="0.55"/>
<circle cx="352.6" cy="130.9" r="1.10" fill="#b01414" stroke="#3a0000" stroke-width="0.55"/>
<circle cx="353.4" cy="130.9" r="1.10" fill="#b01414" stroke="#3a0000" stroke-width="0.55"/>
<circle cx="354.2" cy="130.9" r="1.10" fill="#b01414" stroke="#3a0000" stroke-width="0.55"/>
<circle cx="355.1" cy="130.9" r="1.10" fill="#b01414" stroke="#3a0000" stroke-width="0.55"/>
<circle cx="355.9" cy="130.9" r="1.10" fill="#b01414" stroke="#3a0000" stroke-width="0.55"/>
<circle cx="356.8" cy="131.0" r="1.10" fill="#b01414" stroke="#3a0000" stroke-width="0.55"/>
<circle cx="357.6" cy="131.0" r="1.10" fill="#b01414" stroke="#3a0000" stroke-width="0.55"/>
<circle cx="358.4" cy="131.0" r="1.10" fill="#b01414" stroke="#3a0000" stroke-width="0.55"/>
<circle cx="359.3" cy="131.0" r="1.10" fill="#b01414" stroke="#3a0000" stroke-width="0.55"/>
<circle cx="360.1" cy="131.0" r="1.10" fill="#b01414" stroke="#3a0000" stroke-width="0.55"/>
<circle cx="361.0" cy="131.0" r="1.10" fill="#b01414" stroke="#3a0000" stroke-width="0.55"/>
<circle cx="361.8" cy="131.0" r="1.10" fill="#b01414" stroke="#3a0000" stroke-width="0.55"/>
<circle cx="362.7" cy="131.0" r="1.10" fill="#b01414" stroke="#3a0000" stroke-width="0.55"/>
<circle cx="363.5" cy="131.0" r="1.10" fill="#b01414" stroke="#3a0000" stroke-width="0.55"/>
<circle cx="364.3" cy="131.0" r="1.10" fill="#b01414" stroke="#3a0000" stroke-width="0.55"/>
<circle cx="365.2" cy="131.0" r="1.10" fill="#b01414" stroke="#3a0000" stroke-width="0.55"/>
<circle cx="366.0" cy="131.0" r="1.10" fill="#b01414" stroke="#3a0000" stroke-width="0.55"/>
<circle cx="366.9" cy="131.0" r="1.10" fill="#b01414" stroke="#3a0000" stroke-width="0.55"/>
<circle cx="367.7" cy="131.0" r="1.10" fill="#b01414" stroke="#3a0000" stroke-width="0.55"/>
<circle cx="368.6" cy="131.0" r="1.10" fill="#b01414" stroke="#3a0000" stroke-width="0.55"/>
<circle cx="369.4" cy="131.1" r="1.10" fill="#b01414" stroke="#3a0000" stroke-width="0.55"/>
<circle cx="370.2" cy="131.1" r="1.10" fill="#b01414" stroke="#3a0000" stroke-width="0.55"/>
<circle cx="371.1" cy="131.1" r="1.10" fill="#b01414" stroke="#3a0000" stroke-width="0.55"/>
<circle cx="371.9" cy="131.1" r="1.10" fill="#b01414" stroke="#3a0000" stroke-width="0.55"/>
<circle cx="372.8" cy="131.1" r="1.10" fill="#b01414" stroke="#3a0000" stroke-width="0.55"/>
<circle cx="373.6" cy="131.1" r="1.10" fill="#b01414" stroke="#3a0000" stroke-width="0.55"/>
<circle cx="374.4" cy="131.1" r="1.10" fill="#b01414" stroke="#3a0000" stroke-width="0.55"/>
<circle cx="375.3" cy="131.1" r="1.10" fill="#b01414" stroke="#3a0000" stroke-width="0.55"/>
<circle cx="376.1" cy="131.1" r="1.10" fill="#b01414" stroke="#3a0000" stroke-width="0.55"/>
<circle cx="377.0" cy="131.1" r="1.10" fill="#b01414" stroke="#3a0000" stroke-width="0.55"/>
<circle cx="377.8" cy="131.1" r="1.10" fill="#b01414" stroke="#3a0000" stroke-width="0.55"/>
<circle cx="378.7" cy="131.1" r="1.10" fill="#b01414" stroke="#3a0000" stroke-width="0.55"/>
<circle cx="379.5" cy="131.1" r="1.10" fill="#b01414" stroke="#3a0000" stroke-width="0.55"/>
<circle cx="380.3" cy="131.2" r="1.10" fill="#b01414" stroke="#3a0000" stroke-width="0.55"/>
<circle cx="381.2" cy="131.2" r="1.10" fill="#b01414" stroke="#3a0000" stroke-width="0.55"/>
<circle cx="382.0" cy="131.2" r="1.10" fill="#b01414" stroke="#3a0000" stroke-width="0.55"/>
<circle cx="382.9" cy="131.2" r="1.10" fill="#b01414" stroke="#3a0000" stroke-width="0.55"/>
<circle cx="383.7" cy="131.2" r="1.10" fill="#b01414" stroke="#3a0000" stroke-width="0.55"/>
<circle cx="384.5" cy="131.2" r="1.10" fill="#b01414" stroke="#3a0000" stroke-width="0.55"/>
<circle cx="385.4" cy="131.2" r="1.10" fill="#b01414" stroke="#3a0000" stroke-width="0.55"/>
<circle cx="386.2" cy="131.2" r="1.10" fill="#b01414" stroke="#3a0000" stroke-width="0.55"/>
<circle cx="387.1" cy="131.2" r="1.10" fill="#b01414" stroke="#3a0000" stroke-width="0.55"/>
<circle cx="387.9" cy="131.3" r="1.10" fill="#b01414" stroke="#3a0000" stroke-width="0.55"/>
<circle cx="388.8" cy="131.3" r="1.10" fill="#b01414" stroke="#3a0000" stroke-width="0.55"/>
<circle cx="389.6" cy="131.3" r="1.10" fill="#b01414" stroke="#3a0000" stroke-width="0.55"/>
<circle cx="390.4" cy="131.3" r="1.10" fill="#b01414" stroke="#3a0000" stroke-width="0.55"/>
<circle cx="391.3" cy="131.3" r="1.10" fill="#b01414" stroke="#3a0000" stroke-width="0.55"/>
<circle cx="392.1" cy="131.3" r="1.10" fill="#b01414" stroke="#3a0000" stroke-width="0.55"/>
<circle cx="393.0" cy="131.4" r="1.10" fill="#b01414" stroke="#3a0000" stroke-width="0.55"/>
<circle cx="393.8" cy="131.4" r="1.10" fill="#b01414" stroke="#3a0000" stroke-width="0.55"/>
<circle cx="394.7" cy="131.4" r="1.10" fill="#b01414" stroke="#3a0000" stroke-width="0.55"/>
<circle cx="395.5" cy="131.4" r="1.10" fill="#b01414" stroke="#3a0000" stroke-width="0.55"/>
<circle cx="396.3" cy="131.4" r="1.10" fill="#b01414" stroke="#3a0000" stroke-width="0.55"/>
<circle cx="397.2" cy="131.3" r="1.10" fill="#b01414" stroke="#3a0000" stroke-width="0.55"/>
<circle cx="398.0" cy="131.2" r="1.10" fill="#b01414" stroke="#3a0000" stroke-width="0.55"/>
<circle cx="398.9" cy="131.1" r="1.10" fill="#b01414" stroke="#3a0000" stroke-width="0.55"/>
<circle cx="399.7" cy="130.8" r="1.10" fill="#b01414" stroke="#3a0000" stroke-width="0.55"/>
<circle cx="400.5" cy="130.4" r="1.10" fill="#b01414" stroke="#3a0000" stroke-width="0.55"/>
<circle cx="401.4" cy="129.9" r="1.10" fill="#b01414" stroke="#3a0000" stroke-width="0.55"/>
<circle cx="402.2" cy="129.1" r="1.10" fill="#b01414" stroke="#3a0000" stroke-width="0.55"/>
<circle cx="403.1" cy="128.2" r="1.10" fill="#b01414" stroke="#3a0000" stroke-width="0.55"/>
<circle cx="403.9" cy="126.9" r="1.10" fill="#b01414" stroke="#3a0000" stroke-width="0.55"/>
<circle cx="404.8" cy="125.3" r="1.10" fill="#b01414" stroke="#3a0000" stroke-width="0.55"/>
<circle cx="405.6" cy="123.4" r="1.10" fill="#b01414" stroke="#3a0000" stroke-width="0.55"/>
<circle cx="406.4" cy="121.2" r="1.10" fill="#b01414" stroke="#3a0000" stroke-width="0.55"/>
<circle cx="407.3" cy="118.7" r="1.10" fill="#b01414" stroke="#3a0000" stroke-width="0.55"/>
<circle cx="408.1" cy="115.9" r="1.10" fill="#b01414" stroke="#3a0000" stroke-width="0.55"/>
<circle cx="409.0" cy="113.0" r="1.10" fill="#b01414" stroke="#3a0000" stroke-width="0.55"/>
<circle cx="409.8" cy="110.0" r="1.10" fill="#b01414" stroke="#3a0000" stroke-width="0.55"/>
<circle cx="410.6" cy="107.1" r="1.10" fill="#b01414" stroke="#3a0000" stroke-width="0.55"/>
<circle cx="411.5" cy="104.4" r="1.10" fill="#b01414" stroke="#3a0000" stroke-width="0.55"/>
<circle cx="412.3" cy="102.1" r="1.10" fill="#b01414" stroke="#3a0000" stroke-width="0.55"/>
<circle cx="413.2" cy="100.3" r="1.10" fill="#b01414" stroke="#3a0000" stroke-width="0.55"/>
<circle cx="414.0" cy="99.1" r="1.10" fill="#b01414" stroke="#3a0000" stroke-width="0.55"/>
<circle cx="414.9" cy="98.7" r="1.10" fill="#b01414" stroke="#3a0000" stroke-width="0.55"/>
<circle cx="415.7" cy="99.0" r="1.10" fill="#b01414" stroke="#3a0000" stroke-width="0.55"/>
<circle cx="416.5" cy="100.1" r="1.10" fill="#b01414" stroke="#3a0000" stroke-width="0.55"/>
<circle cx="417.4" cy="102.0" r="1.10" fill="#b01414" stroke="#3a0000" stroke-width="0.55"/>
<circle cx="418.2" cy="104.5" r="1.10" fill="#b01414" stroke="#3a0000" stroke-width="0.55"/>
<circle cx="419.1" cy="107.5" r="1.10" fill="#b01414" stroke="#3a0000" stroke-width="0.55"/>
<circle cx="419.9" cy="110.7" r="1.10" fill="#b01414" stroke="#3a0000" stroke-width="0.55"/>
<circle cx="420.8" cy="114.0" r="1.10" fill="#b01414" stroke="#3a0000" stroke-width="0.55"/>
<circle cx="421.6" cy="117.3" r="1.10" fill="#b01414" stroke="#3a0000" stroke-width="0.55"/>
<circle cx="422.4" cy="120.3" r="1.10" fill="#b01414" stroke="#3a0000" stroke-width="0.55"/>
<circle cx="423.3" cy="123.0" r="1.10" fill="#b01414" stroke="#3a0000" stroke-width="0.55"/>
<circle cx="424.1" cy="125.4" r="1.10" fill="#b01414" stroke="#3a0000" stroke-width="0.55"/>
<circle cx="425.0" cy="127.3" r="1.10" fill="#b01414" stroke="#3a0000" stroke-width="0.55"/>
<circle cx="425.8" cy="128.9" r="1.10" fill="#b01414" stroke="#3a0000" stroke-width="0.55"/>
<circle cx="426.6" cy="130.2" r="1.10" fill="#b01414" stroke="#3a0000" stroke-width="0.55"/>
<circle cx="427.5" cy="131.1" r="1.10" fill="#b01414" stroke="#3a0000" stroke-width="0.55"/>
<circle cx="428.3" cy="131.8" r="1.10" fill="#b01414" stroke="#3a0000" stroke-width="0.55"/>
<circle cx="429.2" cy="132.3" r="1.10" fill="#b01414" stroke="#3a0000" stroke-width="0.55"/>
<circle cx="430.0" cy="132.7" r="1.10" fill="#b01414" stroke="#3a0000" stroke-width="0.55"/>
<circle cx="430.9" cy="132.9" r="1.10" fill="#b01414" stroke="#3a0000" stroke-width="0.55"/>
<circle cx="431.7" cy="133.1" r="1.10" fill="#b01414" stroke="#3a0000" stroke-width="0.55"/>
<circle cx="432.5" cy="133.2" r="1.10" fill="#b01414" stroke="#3a0000" stroke-width="0.55"/>
<circle cx="433.4" cy="133.2" r="1.10" fill="#b01414" stroke="#3a0000" stroke-width="0.55"/>
<circle cx="434.2" cy="133.3" r="1.10" fill="#b01414" stroke="#3a0000" stroke-width="0.55"/>
<circle cx="435.1" cy="133.3" r="1.10" fill="#b01414" stroke="#3a0000" stroke-width="0.55"/>
<circle cx="435.9" cy="133.3" r="1.10" fill="#b01414" stroke="#3a0000" stroke-width="0.55"/>
<circle cx="436.8" cy="133.3" r="1.10" fill="#b01414" stroke="#3a0000" stroke-width="0.55"/>
<circle cx="437.6" cy="133.3" r="1.10" fill="#b01414" stroke="#3a0000" stroke-width="0.55"/>
<circle cx="438.4" cy="133.3" r="1.10" fill="#b01414" stroke="#3a0000" stroke-width="0.55"/>
<circle cx="439.3" cy="133.3" r="1.10" fill="#b01414" stroke="#3a0000" stroke-width="0.55"/>
<circle cx="440.1" cy="133.3" r="1.10" fill="#b01414" stroke="#3a0000" stroke-width="0.55"/>
<circle cx="441.0" cy="133.3" r="1.10" fill="#b01414" stroke="#3a0000" stroke-width="0.55"/>
<circle cx="441.8" cy="133.3" r="1.10" fill="#b01414" stroke="#3a0000" stroke-width="0.55"/>
<circle cx="442.6" cy="133.3" r="1.10" fill="#b01414" stroke="#3a0000" stroke-width="0.55"/>
<circle cx="443.5" cy="133.3" r="1.10" fill="#b01414" stroke="#3a0000" stroke-width="0.55"/>
<circle cx="444.3" cy="133.3" r="1.10" fill="#b01414" stroke="#3a0000" stroke-width="0.55"/>
<circle cx="445.2" cy="133.3" r="1.10" fill="#b01414" stroke="#3a0000" stroke-width="0.55"/>
<circle cx="446.0" cy="133.3" r="1.10" fill="#b01414" stroke="#3a0000" stroke-width="0.55"/>
<circle cx="446.9" cy="133.3" r="1.10" fill="#b01414" stroke="#3a0000" stroke-width="0.55"/>
<circle cx="447.7" cy="133.3" r="1.10" fill="#b01414" stroke="#3a0000" stroke-width="0.55"/>
<circle cx="448.5" cy="133.3" r="1.10" fill="#b01414" stroke="#3a0000" stroke-width="0.55"/>
<circle cx="449.4" cy="133.3" r="1.10" fill="#b01414" stroke="#3a0000" stroke-width="0.55"/>
<circle cx="450.2" cy="133.3" r="1.10" fill="#b01414" stroke="#3a0000" stroke-width="0.55"/>
<circle cx="451.1" cy="133.3" r="1.10" fill="#b01414" stroke="#3a0000" stroke-width="0.55"/>
<circle cx="451.9" cy="133.3" r="1.10" fill="#b01414" stroke="#3a0000" stroke-width="0.55"/>
<circle cx="452.8" cy="133.3" r="1.10" fill="#b01414" stroke="#3a0000" stroke-width="0.55"/>
<polyline points="305.4,131.8 306.1,131.8 306.8,131.8 307.5,131.8 308.2,131.8 308.9,131.8 309.6,131.8 310.3,131.8 311.0,131.8 311.7,131.8 312.4,131.8 313.2,131.8 313.9,131.8 314.6,131.8 315.3,131.9 316.0,131.9 316.7,131.9 317.4,131.9 318.1,131.9 318.8,131.9 319.5,131.9 320.2,131.9 320.9,131.9 321.6,131.9 322.3,131.9 323.0,131.9 323.7,131.9 324.4,131.9 325.1,131.9 325.8,131.9 326.5,132.0 327.2,132.0 327.9,132.0 328.7,132.0 329.4,132.0 330.1,132.0 330.8,132.0 331.5,132.0 332.2,132.0 332.9,132.0 333.6,132.0 334.3,132.0 335.0,132.0 335.7,132.0 336.4,132.0 337.1,132.0 337.8,132.0 338.5,132.1 339.2,132.1 339.9,132.1 340.6,132.1 341.3,132.1 342.0,132.1 342.7,132.1 343.4,132.1 344.2,132.1 344.9,132.1 345.6,132.1 346.3,132.1 347.0,132.1 347.7,132.1 348.4,132.1 349.1,132.1 349.8,132.1 350.5,132.2 351.2,132.2 351.9,132.2 352.6,132.2 353.3,132.2 354.0,132.2 354.7,132.2 355.4,132.2 356.1,132.2 356.8,132.2 357.5,132.2 358.2,132.2 358.9,132.2 359.7,132.2 360.4,132.2 361.1,132.2 361.8,132.2 362.5,132.2 363.2,132.2 363.9,132.2 364.6,132.2 365.3,132.2 366.0,132.2 366.7,132.2 367.4,132.2 368.1,132.1 368.8,132.1 369.5,132.0 370.2,131.9 370.9,131.8 371.6,131.6 372.3,131.5 373.0,131.2 373.7,130.9 374.5,130.5 375.2,130.1 375.9,129.6 376.6,128.9 377.3,128.2 378.0,127.3 378.7,126.3 379.4,125.1 380.1,123.8 380.8,122.3 381.5,120.7 382.2,118.9 382.9,117.0 383.6,114.9 384.3,112.8 385.0,110.5 385.7,108.1 386.4,105.8 387.1,103.4 387.8,101.0 388.5,98.8 389.2,96.7 390.0,94.7 390.7,93.0 391.4,91.5 392.1,90.4 392.8,89.5 393.5,88.9 394.2,88.8 394.9,88.9 395.6,89.3 396.3,90.0 397.0,91.0 397.7,92.2 398.4,93.6 399.1,95.1 399.8,96.8 400.5,98.5 401.2,100.2 401.9,101.8 402.6,103.3 403.3,104.6 404.0,105.7 404.7,106.5 405.5,107.0 406.2,107.1 406.9,107.0 407.6,106.5 408.3,105.7 409.0,104.7 409.7,103.5 410.4,102.2 411.1,101.0 411.8,99.8 412.5,98.8 413.2,98.0 413.9,97.6 414.6,97.6 415.3,98.1 416.0,99.0 416.7,100.5 417.4,102.4 418.1,104.7 418.8,107.3 419.5,110.1 420.3,112.9 421.0,115.8 421.7,118.5 422.4,121.1 423.1,123.5 423.8,125.6 424.5,127.4 425.2,129.0 425.9,130.3 426.6,131.3 427.3,132.2 428.0,132.8 428.7,133.3 429.4,133.7 430.1,134.0 430.8,134.2 431.5,134.3 432.2,134.4 432.9,134.4 433.6,134.5 434.3,134.5 435.0,134.5 435.8,134.6 436.5,134.6 437.2,134.6 437.9,134.6 438.6,134.6 439.3,134.6 440.0,134.6 440.7,134.6 441.4,134.6 442.1,134.6 442.8,134.6 443.5,134.6 444.2,134.6 444.9,134.6 445.6,134.6 446.3,134.6 447.0,134.6 447.7,134.6 448.4,134.6 449.1,134.6 449.8,134.6 450.5,134.6 451.3,134.6 452.0,134.6 452.7,134.6 453.4,134.6 454.1,134.6 454.8,134.6 455.5,134.6 456.2,134.6 456.9,134.6 457.6,134.6 458.3,134.6 459.0,134.6 459.7,134.6 460.4,134.6 461.1,134.6 461.8,134.6 462.5,134.6 463.2,134.6 463.9,134.6 464.6,134.6 465.3,134.6 466.0,134.6 466.8,134.6 467.5,134.6 468.2,134.6 468.9,134.6 469.6,134.6 470.3,134.6 471.0,134.6 471.7,134.6 472.4,134.6 473.1,134.6 473.8,134.6" fill="none" stroke="#e81010" stroke-width="1.60" stroke-linejoin="round" stroke-linecap="round" />
<polyline points="305.4,130.3 306.1,130.2 306.8,130.6 307.5,130.7 308.2,130.0 308.9,131.0 309.6,130.4 310.3,129.9 311.0,130.8 311.7,130.4 312.4,130.0 313.2,130.6 313.9,130.4 314.6,130.3 315.3,130.9 316.0,130.6 316.7,130.5 317.4,130.4 318.1,130.6 318.8,130.7 319.5,130.9 320.2,130.7 320.9,130.4 321.6,130.6 322.3,130.9 323.0,130.9 323.7,129.9 324.4,130.4 325.1,130.5 325.8,131.4 326.5,130.5 327.2,130.6 327.9,130.2 328.7,130.6 329.4,130.7 330.1,130.6 330.8,131.3 331.5,130.4 332.2,130.7 332.9,130.9 333.6,130.4 334.3,130.2 335.0,131.2 335.7,131.0 336.4,130.7 337.1,130.7 337.8,130.9 338.5,131.1 339.2,130.2 339.9,130.5 340.6,131.2 341.3,131.2 342.0,130.3 342.7,130.6 343.4,130.3 344.2,130.6 344.9,131.1 345.6,130.8 346.3,131.5 347.0,131.1 347.7,130.9 348.4,130.7 349.1,131.1 349.8,130.9 350.5,130.8 351.2,130.8 351.9,130.7 352.6,130.9 353.3,131.0 354.0,130.7 354.7,130.9 355.4,131.2 356.1,131.1 356.8,131.0 357.5,131.0 358.2,130.9 358.9,131.0 359.7,130.9 360.4,131.0 361.1,131.3 361.8,130.9 362.5,130.7 363.2,130.9 363.9,131.0 364.6,130.9 365.3,131.2 366.0,131.5 366.7,130.9 367.4,131.2 368.1,130.7 368.8,131.1 369.5,131.5 370.2,131.0 370.9,130.1 371.6,130.5 372.3,130.6 373.0,130.2 373.7,129.5 374.5,129.2 375.2,128.8 375.9,127.9 376.6,127.5 377.3,126.9 378.0,125.9 378.7,124.6 379.4,123.6 380.1,122.3 380.8,121.4 381.5,119.5 382.2,117.5 382.9,115.8 383.6,113.4 384.3,111.3 385.0,109.0 385.7,106.9 386.4,103.8 387.1,101.8 387.8,99.9 388.5,97.5 389.2,94.7 390.0,93.6 390.7,91.5 391.4,90.0 392.1,89.1 392.8,88.6 393.5,87.6 394.2,87.4 394.9,87.3 395.6,87.8 396.3,88.8 397.0,89.5 397.7,90.8 398.4,92.3 399.1,93.9 399.8,95.6 400.5,97.0 401.2,99.2 401.9,100.7 402.6,102.0 403.3,103.8 404.0,104.5 404.7,105.8 405.5,105.9 406.2,105.7 406.9,105.6 407.6,105.2 408.3,104.5 409.0,103.8 409.7,101.7 410.4,100.8 411.1,99.4 411.8,98.8 412.5,97.6 413.2,97.3 413.9,96.2 414.6,96.1 415.3,97.3 416.0,97.8 416.7,99.0 417.4,101.6 418.1,103.9 418.8,106.3 419.5,109.0 420.3,112.1 421.0,114.5 421.7,117.2 422.4,119.7 423.1,122.0 423.8,123.9 424.5,125.8 425.2,128.1 425.9,129.2 426.6,130.4 427.3,131.2 428.0,131.6 428.7,132.1 429.4,132.3 430.1,133.1 430.8,133.2 431.5,133.0 432.2,133.2 432.9,133.3 433.6,133.3 434.3,133.5 435.0,133.1 435.8,133.2 436.5,133.3 437.2,133.5 437.9,133.4 438.6,134.1 439.3,133.6 440.0,133.3 440.7,133.7 441.4,133.3 442.1,133.3 442.8,133.7 443.5,133.4 444.2,133.4 444.9,133.2 445.6,133.1 446.3,133.3 447.0,133.6 447.7,133.4 448.4,133.3 449.1,133.1 449.8,133.2 450.5,133.5 451.3,133.7 452.0,133.4 452.7,133.5 453.4,133.6 454.1,133.3 454.8,133.5 455.5,133.3 456.2,133.2 456.9,133.4 457.6,132.7 458.3,133.4 459.0,133.0 459.7,133.3 460.4,133.0 461.1,134.0 461.8,133.5 462.5,133.2 463.2,133.1 463.9,132.7 464.6,133.2 465.3,133.0 466.0,133.1 466.8,133.0 467.5,133.2 468.2,133.4 468.9,133.2 469.6,133.6 470.3,133.0 471.0,133.6 471.7,133.2 472.4,132.7 473.1,133.4 473.8,133.3" fill="none" stroke="#2c48b0" stroke-width="2.10" stroke-linejoin="round" stroke-linecap="round" />
<circle cx="305.4" cy="130.9" r="0.55" fill="#d01818" stroke="#d01818" stroke-width="0.10"/>
<circle cx="308.9" cy="130.9" r="0.55" fill="#d01818" stroke="#d01818" stroke-width="0.10"/>
<circle cx="312.4" cy="130.9" r="0.55" fill="#d01818" stroke="#d01818" stroke-width="0.10"/>
<circle cx="316.0" cy="131.0" r="0.55" fill="#d01818" stroke="#d01818" stroke-width="0.10"/>
<circle cx="319.5" cy="131.0" r="0.55" fill="#d01818" stroke="#d01818" stroke-width="0.10"/>
<circle cx="323.0" cy="131.0" r="0.55" fill="#d01818" stroke="#d01818" stroke-width="0.10"/>
<circle cx="326.5" cy="131.1" r="0.55" fill="#d01818" stroke="#d01818" stroke-width="0.10"/>
<circle cx="330.1" cy="131.1" r="0.55" fill="#d01818" stroke="#d01818" stroke-width="0.10"/>
<circle cx="333.6" cy="131.1" r="0.55" fill="#d01818" stroke="#d01818" stroke-width="0.10"/>
<circle cx="337.1" cy="131.1" r="0.55" fill="#d01818" stroke="#d01818" stroke-width="0.10"/>
<circle cx="340.6" cy="131.2" r="0.55" fill="#d01818" stroke="#d01818" stroke-width="0.10"/>
<circle cx="344.2" cy="131.2" r="0.55" fill="#d01818" stroke="#d01818" stroke-width="0.10"/>
<circle cx="347.7" cy="131.2" r="0.55" fill="#d01818" stroke="#d01818" stroke-width="0.10"/>
<circle cx="351.2" cy="131.3" r="0.55" fill="#d01818" stroke="#d01818" stroke-width="0.10"/>
<circle cx="354.7" cy="131.3" r="0.55" fill="#d01818" stroke="#d01818" stroke-width="0.10"/>
<circle cx="358.2" cy="131.3" r="0.55" fill="#d01818" stroke="#d01818" stroke-width="0.10"/>
<circle cx="361.8" cy="131.3" r="0.55" fill="#d01818" stroke="#d01818" stroke-width="0.10"/>
<circle cx="365.3" cy="131.3" r="0.55" fill="#d01818" stroke="#d01818" stroke-width="0.10"/>
<circle cx="368.8" cy="131.2" r="0.55" fill="#d01818" stroke="#d01818" stroke-width="0.10"/>
<circle cx="372.3" cy="130.6" r="0.55" fill="#d01818" stroke="#d01818" stroke-width="0.10"/>
<circle cx="375.9" cy="128.7" r="0.55" fill="#d01818" stroke="#d01818" stroke-width="0.10"/>
<circle cx="378.7" cy="125.4" r="0.55" fill="#d01818" stroke="#d01818" stroke-width="0.10"/>
<circle cx="380.8" cy="121.4" r="0.55" fill="#d01818" stroke="#d01818" stroke-width="0.10"/>
<circle cx="382.2" cy="118.0" r="0.55" fill="#d01818" stroke="#d01818" stroke-width="0.10"/>
<circle cx="383.6" cy="114.0" r="0.55" fill="#d01818" stroke="#d01818" stroke-width="0.10"/>
<circle cx="385.0" cy="109.6" r="0.55" fill="#d01818" stroke="#d01818" stroke-width="0.10"/>
<circle cx="386.4" cy="104.9" r="0.55" fill="#d01818" stroke="#d01818" stroke-width="0.10"/>
<circle cx="387.8" cy="100.1" r="0.55" fill="#d01818" stroke="#d01818" stroke-width="0.10"/>
<circle cx="389.2" cy="95.8" r="0.55" fill="#d01818" stroke="#d01818" stroke-width="0.10"/>
<circle cx="390.7" cy="92.1" r="0.55" fill="#d01818" stroke="#d01818" stroke-width="0.10"/>
<circle cx="392.8" cy="88.6" r="0.55" fill="#d01818" stroke="#d01818" stroke-width="0.10"/>
<circle cx="396.3" cy="89.1" r="0.55" fill="#d01818" stroke="#d01818" stroke-width="0.10"/>
<circle cx="398.4" cy="92.7" r="0.55" fill="#d01818" stroke="#d01818" stroke-width="0.10"/>
<circle cx="399.8" cy="95.9" r="0.55" fill="#d01818" stroke="#d01818" stroke-width="0.10"/>
<circle cx="401.2" cy="99.3" r="0.55" fill="#d01818" stroke="#d01818" stroke-width="0.10"/>
<circle cx="402.6" cy="102.4" r="0.55" fill="#d01818" stroke="#d01818" stroke-width="0.10"/>
<circle cx="404.7" cy="105.6" r="0.55" fill="#d01818" stroke="#d01818" stroke-width="0.10"/>
<circle cx="408.3" cy="104.8" r="0.55" fill="#d01818" stroke="#d01818" stroke-width="0.10"/>
<circle cx="410.4" cy="101.3" r="0.55" fill="#d01818" stroke="#d01818" stroke-width="0.10"/>
<circle cx="412.5" cy="97.9" r="0.55" fill="#d01818" stroke="#d01818" stroke-width="0.10"/>
<circle cx="415.3" cy="97.2" r="0.55" fill="#d01818" stroke="#d01818" stroke-width="0.10"/>
<circle cx="417.4" cy="101.5" r="0.55" fill="#d01818" stroke="#d01818" stroke-width="0.10"/>
<circle cx="418.8" cy="106.4" r="0.55" fill="#d01818" stroke="#d01818" stroke-width="0.10"/>
<circle cx="420.3" cy="112.0" r="0.55" fill="#d01818" stroke="#d01818" stroke-width="0.10"/>
<circle cx="421.7" cy="117.6" r="0.55" fill="#d01818" stroke="#d01818" stroke-width="0.10"/>
<circle cx="423.1" cy="122.6" r="0.55" fill="#d01818" stroke="#d01818" stroke-width="0.10"/>
<circle cx="424.5" cy="126.5" r="0.55" fill="#d01818" stroke="#d01818" stroke-width="0.10"/>
<circle cx="426.6" cy="130.4" r="0.55" fill="#d01818" stroke="#d01818" stroke-width="0.10"/>
<circle cx="429.4" cy="132.8" r="0.55" fill="#d01818" stroke="#d01818" stroke-width="0.10"/>
<circle cx="432.9" cy="133.5" r="0.55" fill="#d01818" stroke="#d01818" stroke-width="0.10"/>
<circle cx="436.5" cy="133.7" r="0.55" fill="#d01818" stroke="#d01818" stroke-width="0.10"/>
<circle cx="440.0" cy="133.7" r="0.55" fill="#d01818" stroke="#d01818" stroke-width="0.10"/>
<circle cx="443.5" cy="133.7" r="0.55" fill="#d01818" stroke="#d01818" stroke-width="0.10"/>
<circle cx="447.0" cy="133.7" r="0.55" fill="#d01818" stroke="#d01818" stroke-width="0.10"/>
<circle cx="450.5" cy="133.7" r="0.55" fill="#d01818" stroke="#d01818" stroke-width="0.10"/>
<circle cx="454.1" cy="133.7" r="0.55" fill="#d01818" stroke="#d01818" stroke-width="0.10"/>
<circle cx="457.6" cy="133.7" r="0.55" fill="#d01818" stroke="#d01818" stroke-width="0.10"/>
<circle cx="461.1" cy="133.7" r="0.55" fill="#d01818" stroke="#d01818" stroke-width="0.10"/>
<circle cx="464.6" cy="133.7" r="0.55" fill="#d01818" stroke="#d01818" stroke-width="0.10"/>
<circle cx="468.2" cy="133.7" r="0.55" fill="#d01818" stroke="#d01818" stroke-width="0.10"/>
<circle cx="471.7" cy="133.7" r="0.55" fill="#d01818" stroke="#d01818" stroke-width="0.10"/>
<rect x="305.4" y="26.8" width="168.4" height="113.4" fill="none" stroke="#262626" stroke-width="1.30"/>
<line x1="330.7" y1="140.2" x2="330.7" y2="138.2" stroke="#262626" stroke-width="1.00"/>
<line x1="330.7" y1="26.8" x2="330.7" y2="28.8" stroke="#262626" stroke-width="1.00"/>
<line x1="372.8" y1="140.2" x2="372.8" y2="138.2" stroke="#262626" stroke-width="1.00"/>
<line x1="372.8" y1="26.8" x2="372.8" y2="28.8" stroke="#262626" stroke-width="1.00"/>
<line x1="414.9" y1="140.2" x2="414.9" y2="138.2" stroke="#262626" stroke-width="1.00"/>
<line x1="414.9" y1="26.8" x2="414.9" y2="28.8" stroke="#262626" stroke-width="1.00"/>
<line x1="457.0" y1="140.2" x2="457.0" y2="138.2" stroke="#262626" stroke-width="1.00"/>
<line x1="457.0" y1="26.8" x2="457.0" y2="28.8" stroke="#262626" stroke-width="1.00"/>
<line x1="305.4" y1="97.6" x2="307.4" y2="97.6" stroke="#262626" stroke-width="1.00"/>
<line x1="473.8" y1="97.6" x2="471.8" y2="97.6" stroke="#262626" stroke-width="1.00"/>
<line x1="305.4" y1="62.0" x2="307.4" y2="62.0" stroke="#262626" stroke-width="1.00"/>
<line x1="473.8" y1="62.0" x2="471.8" y2="62.0" stroke="#262626" stroke-width="1.00"/>
<text x="329.3" y="152.0" font-family='"Liberation Serif", serif' font-size="9.60" text-anchor="middle" fill="#383838" stroke="#383838" stroke-width="0.10" >540</text>
<text x="372.4" y="152.0" font-family='"Liberation Serif", serif' font-size="9.60" text-anchor="middle" fill="#383838" stroke="#383838" stroke-width="0.10" >535</text>
<text x="414.5" y="152.0" font-family='"Liberation Serif", serif' font-size="9.60" text-anchor="middle" fill="#383838" stroke="#383838" stroke-width="0.10" >530</text>
<text x="456.7" y="152.0" font-family='"Liberation Serif", serif' font-size="9.60" text-anchor="middle" fill="#383838" stroke="#383838" stroke-width="0.10" >525</text>
<text x="298.0" y="31.0" font-family='"Liberation Serif", serif' font-size="9.80" text-anchor="middle" fill="#383838" stroke="#383838" stroke-width="0.10" >4</text>
<text x="298.0" y="67.6" font-family='"Liberation Serif", serif' font-size="9.80" text-anchor="middle" fill="#383838" stroke="#383838" stroke-width="0.10" >3</text>
<text x="298.0" y="105.3" font-family='"Liberation Serif", serif' font-size="9.80" text-anchor="middle" fill="#383838" stroke="#383838" stroke-width="0.10" >2</text>
<text x="298.0" y="143.4" font-family='"Liberation Serif", serif' font-size="9.80" text-anchor="middle" fill="#383838" stroke="#383838" stroke-width="0.10" >1</text>
<text x="305.1" y="20.6" font-family='"Liberation Serif", serif' font-size="9.50" text-anchor="start" fill="#3a3a3a" stroke="#3a3a3a" stroke-width="0.15" >&#215;10<tspan dy="-3.2" font-size="7.6">4</tspan></text>
<text x="336.0" y="64.5" font-family='"Liberation Sans", sans-serif' font-size="13.00" text-anchor="middle" fill="#1e1e1e" stroke="#1e1e1e" stroke-width="0.32" >(b)</text>
<text x="286.6" y="84.8" font-family='"Liberation Serif", serif' font-size="12.20" text-anchor="middle" fill="#262626" stroke="#262626" stroke-width="0.22" transform="rotate(-90 286.6 84.8)">intensity (c/s)</text>
<text x="387.8" y="170.5" font-family='"Liberation Serif", serif' font-size="12.20" text-anchor="middle" fill="#262626" stroke="#262626" stroke-width="0.22" >binding energy (eV)</text>
<line x1="41.2" y1="239.8" x2="41.2" y2="393.5" stroke="#262626" stroke-width="1.5"/>
<line x1="41.2" y1="393.5" x2="260.8" y2="393.5" stroke="#262626" stroke-width="1.5"/>
<line x1="41.2" y1="239.8" x2="149.4" y2="239.8" stroke="#262626" stroke-width="1.5"/>
<line x1="260.8" y1="361.2" x2="260.8" y2="393.5" stroke="#444" stroke-width="1.2"/>
<line x1="96.1" y1="393.5" x2="96.1" y2="391.3" stroke="#262626" stroke-width="1.0"/>
<line x1="151.0" y1="393.5" x2="151.0" y2="391.3" stroke="#262626" stroke-width="1.0"/>
<line x1="205.9" y1="393.5" x2="205.9" y2="391.3" stroke="#262626" stroke-width="1.0"/>
<line x1="96.1" y1="239.8" x2="96.1" y2="242.0" stroke="#262626" stroke-width="1.0"/>
<line x1="41.2" y1="355.1" x2="43.4" y2="355.1" stroke="#262626" stroke-width="1.0"/>
<line x1="41.2" y1="316.8" x2="43.4" y2="316.8" stroke="#262626" stroke-width="1.0"/>
<line x1="41.2" y1="278.4" x2="43.4" y2="278.4" stroke="#262626" stroke-width="1.0"/>
<polyline points="41.2,350.9 41.4,350.9 41.5,350.8 41.7,350.8 41.8,350.7 42.0,350.7 42.1,350.6 42.3,350.6 42.5,350.5 42.6,350.5 42.8,350.4 42.9,350.4 43.1,350.3 43.2,350.2 43.4,350.2 43.6,350.1 43.7,350.1 43.9,350.0 44.0,350.0 44.2,349.9 44.3,349.9 44.5,349.8 44.7,349.8 44.8,349.7 45.0,349.7 45.1,349.6 45.3,349.6 45.4,349.5 45.6,349.5 45.8,349.4 45.9,349.4 46.1,349.3 46.2,349.2 46.4,349.2 46.5,349.1 46.7,349.1 46.9,349.0 47.0,349.0 47.2,348.9 47.3,348.9 47.5,348.8 47.6,348.8 47.8,348.7 47.9,348.7 48.1,348.6 48.3,348.6 48.4,348.6 48.6,348.6 48.7,348.6 48.9,348.6 49.0,348.5 49.2,348.5 49.4,348.5 49.5,348.5 49.7,348.5 49.8,348.4 50.0,348.3 50.1,348.2 50.3,347.9 50.5,347.6 50.6,347.2 50.8,346.6 50.9,346.1 51.1,345.6 51.2,345.3 51.4,345.3 51.6,345.4 51.7,345.8 51.9,346.3 52.0,346.8 52.2,347.3 52.3,347.6 52.5,347.9 52.7,348.0 52.8,348.1 53.0,348.1 53.1,348.1 53.3,348.1 53.4,348.1 53.6,348.1 53.8,348.1 53.9,348.1 54.1,348.1 54.2,348.1 54.4,348.0 54.5,348.0 54.7,348.0 54.9,348.0 55.0,348.0 55.2,348.0 55.3,348.0 55.5,347.9 55.6,347.9 55.8,347.9 56.0,347.9 56.1,347.9 56.3,347.9 56.4,347.8 56.6,347.8 56.7,347.8 56.9,347.7 57.1,347.7 57.2,347.6 57.4,347.6 57.5,347.6 57.7,347.5 57.8,347.5 58.0,347.4 58.2,347.4 58.3,347.4 58.5,347.3 58.6,347.3 58.8,347.3 58.9,347.2 59.1,347.2 59.3,347.1 59.4,347.1 59.6,347.1 59.7,347.0 59.9,347.0 60.0,346.9 60.2,346.9 60.4,346.9 60.5,346.8 60.7,346.8 60.8,346.7 61.0,346.7 61.1,346.8 61.3,346.8 61.4,346.9 61.6,346.9 61.8,347.0 61.9,346.9 62.1,346.8 62.2,346.5 62.4,345.9 62.5,344.9 62.7,343.7 62.9,342.5 63.0,341.6 63.2,341.4 63.3,341.9 63.5,343.0 63.6,344.3 63.8,345.6 64.0,346.6 64.1,347.2 64.3,347.6 64.4,347.8 64.6,347.9 64.7,348.0 64.9,348.1 65.1,348.1 65.2,348.1 65.4,348.0 65.5,347.6 65.7,347.0 65.8,346.1 66.0,344.9 66.2,343.6 66.3,342.7 66.5,342.5 66.6,343.0 66.8,344.1 66.9,345.5 67.1,346.8 67.3,347.8 67.4,348.4 67.6,348.8 67.7,349.0 67.9,349.1 68.0,349.2 68.2,349.2 68.4,349.3 68.5,349.3 68.7,349.4 68.8,349.4 69.0,349.4 69.1,349.5 69.3,349.5 69.5,349.5 69.6,349.5 69.8,349.6 69.9,349.6 70.1,349.6 70.2,349.6 70.4,349.6 70.6,349.7 70.7,349.7 70.9,349.7 71.0,349.7 71.2,349.8 71.3,349.8 71.5,349.7 71.7,349.6 71.8,349.5 72.0,349.4 72.1,349.3 72.3,349.3 72.4,349.2 72.6,349.1 72.8,349.0 72.9,348.9 73.1,348.8 73.2,348.7 73.4,348.6 73.5,348.5 73.7,348.4 73.8,348.3 74.0,348.2 74.2,348.1 74.3,348.0 74.5,347.9 74.6,347.8 74.8,347.7 74.9,347.7 75.1,347.6 75.3,347.5 75.4,347.4 75.6,347.3 75.7,347.2 75.9,346.9 76.0,346.2 76.2,345.1 76.4,343.3 76.5,340.8 76.7,338.2 76.8,335.9 77.0,334.8 77.1,335.2 77.3,337.0 77.5,339.5 77.6,342.0 77.8,344.1 77.9,345.4 78.1,346.2 78.2,346.5 78.4,346.7 78.6,346.8 78.7,347.7 78.9,348.6 79.0,349.5 79.2,350.4 79.3,351.2 79.5,352.1 79.7,353.0 79.8,353.9 80.0,354.8 80.1,355.6 80.3,356.0 80.4,356.0 80.6,356.1 80.8,356.1 80.9,356.2 81.1,356.2 81.2,356.3 81.4,356.3 81.5,356.4 81.7,356.4 81.9,356.5 82.0,356.5 82.2,356.4 82.3,356.4 82.5,356.4 82.6,356.4 82.8,356.3 83.0,356.3 83.1,356.3 83.3,356.2 83.4,356.2 83.6,356.2 83.7,356.2 83.9,356.1 84.1,356.1 84.2,356.1 84.4,356.0 84.5,356.0 84.7,356.0 84.8,356.0 85.0,355.9 85.2,355.9 85.3,355.9 85.5,355.9 85.6,355.8 85.8,355.8 85.9,355.8 86.1,355.7 86.3,355.7 86.4,355.7 86.6,355.7 86.7,355.6 86.9,355.6 87.0,355.6 87.2,355.6 87.3,355.5 87.5,355.5 87.7,355.5 87.8,355.4 88.0,355.4 88.1,355.4 88.3,355.4 88.4,355.3 88.6,355.3 88.8,355.3 88.9,355.3 89.1,355.2 89.2,355.2 89.4,355.2 89.5,355.1 89.7,355.1 89.9,355.1 90.0,355.1 90.2,355.0 90.3,355.0 90.5,355.0 90.6,355.0 90.8,354.9 91.0,354.9 91.1,354.9 91.3,354.8 91.4,354.8 91.6,354.8 91.7,354.8 91.9,354.7 92.1,354.7 92.2,354.7 92.4,354.7 92.5,354.6 92.7,354.6 92.8,354.6 93.0,354.5 93.2,354.5 93.3,354.5 93.5,354.5 93.6,354.4 93.8,354.4 93.9,354.4 94.1,354.3 94.3,354.3 94.4,354.3 94.6,354.3 94.7,354.2 94.9,354.2 95.0,354.2 95.2,354.2 95.4,354.1 95.5,354.1 95.7,354.1 95.8,354.0 96.0,354.0 96.1,354.0 96.3,353.9 96.5,353.9 96.6,353.8 96.8,353.8 96.9,353.7 97.1,353.7 97.2,353.6 97.4,353.6 97.6,353.5 97.7,353.5 97.9,353.4 98.0,353.4 98.2,353.3 98.3,353.3 98.5,353.2 98.7,353.2 98.8,353.1 99.0,353.1 99.1,353.0 99.3,353.0 99.4,353.0 99.6,352.9 99.7,352.9 99.9,352.8 100.1,352.8 100.2,352.7 100.4,352.7 100.5,352.6 100.7,352.6 100.8,352.5 101.0,352.5 101.2,352.4 101.3,352.4 101.5,352.3 101.6,352.3 101.8,352.2 101.9,352.2 102.1,352.1 102.3,352.1 102.4,352.0 102.6,352.0 102.7,351.9 102.9,351.9 103.0,351.8 103.2,351.8 103.4,351.7 103.5,351.7 103.7,351.6 103.8,351.6 104.0,351.5 104.1,351.5 104.3,351.4 104.5,351.4 104.6,351.3 104.8,351.3 104.9,351.2 105.1,351.2 105.2,351.1 105.4,351.1 105.6,351.0 105.7,351.0 105.9,350.9 106.0,350.9 106.2,350.8 106.3,350.8 106.5,350.7 106.7,350.7 106.8,350.6 107.0,350.6 107.1,350.5 107.3,350.5 107.4,350.5 107.6,350.5 107.8,350.4 107.9,350.4 108.1,350.4 108.2,350.3 108.4,350.3 108.5,350.3 108.7,350.2 108.9,350.2 109.0,350.2 109.2,350.2 109.3,350.1 109.5,350.1 109.6,350.1 109.8,350.0 110.0,350.0 110.1,350.0 110.3,350.0 110.4,349.9 110.6,349.9 110.7,349.9 110.9,349.8 111.1,349.8 111.2,349.8 111.4,349.6 111.5,349.5 111.7,349.3 111.8,349.2 112.0,349.0 112.2,348.9 112.3,348.7 112.5,348.6 112.6,348.5 112.8,348.3 112.9,348.2 113.1,348.0 113.2,347.8 113.4,347.3 113.6,346.1 113.7,343.5 113.9,338.9 114.0,332.1 114.2,325.7 114.3,323.1 114.5,326.0 114.7,333.0 114.8,340.6 115.0,346.3 115.1,349.5 115.3,351.0 115.4,351.7 115.6,352.2 115.8,352.6 115.9,352.8 116.1,352.8 116.2,352.8 116.4,352.8 116.5,352.8 116.7,352.8 116.9,352.8 117.0,352.8 117.2,352.8 117.3,352.8 117.5,352.8 117.6,352.8 117.8,352.8 118.0,352.8 118.1,352.8 118.3,352.8 118.4,352.8 118.6,352.8 118.7,352.8 118.9,352.8 119.1,352.8 119.2,352.8 119.4,352.8 119.5,352.8 119.7,352.8 119.8,352.8 120.0,352.8 120.2,352.8 120.3,352.8 120.5,352.8 120.6,352.8 120.8,352.8 120.9,352.8 121.1,352.8 121.3,352.8 121.4,352.8 121.6,352.8 121.7,352.8 121.9,352.8 122.0,352.8 122.2,352.8 122.4,352.7 122.5,352.5 122.7,352.3 122.8,352.1 123.0,351.8 123.1,351.2 123.3,349.8 123.5,346.6 123.6,341.7 123.8,336.6 123.9,334.2 124.1,336.2 124.2,341.2 124.4,346.3 124.6,349.6 124.7,351.2 124.9,351.8 125.0,352.0 125.2,352.1 125.3,352.1 125.5,352.0 125.6,351.4 125.8,349.3 126.0,344.6 126.1,337.2 126.3,329.7 126.4,326.6 126.6,330.0 126.7,337.7 126.9,345.2 127.1,350.0 127.2,352.1 127.4,352.9 127.5,353.1 127.7,353.3 127.8,353.7 128.0,354.1 128.2,354.5 128.3,354.9 128.5,355.3 128.6,355.7 128.8,356.1 128.9,356.4 129.1,356.7 129.3,356.8 129.4,356.8 129.6,356.9 129.7,356.9 129.9,357.0 130.0,357.0 130.2,357.1 130.4,357.1 130.5,357.2 130.7,357.3 130.8,357.3 131.0,357.4 131.1,357.4 131.3,357.5 131.5,357.5 131.6,357.6 131.8,357.6 131.9,357.7 132.1,357.7 132.2,357.8 132.4,358.0 132.6,358.5 132.7,359.0 132.9,359.5 133.0,359.9 133.2,360.4 133.3,360.9 133.5,361.4 133.7,361.8 133.8,362.3 134.0,362.8 134.1,363.4 134.3,363.9 134.4,364.5 134.6,365.1 134.8,365.7 134.9,365.8 135.1,365.3 135.2,363.4 135.4,357.6 135.5,345.3 135.7,328.7 135.9,317.3 136.0,320.0 136.2,334.5 136.3,350.3 136.5,360.0 136.6,364.0 136.8,365.0 137.0,365.2 137.1,365.2 137.3,365.1 137.4,365.2 137.6,364.9 137.7,363.4 137.9,358.3 138.1,346.5 138.2,326.9 138.4,305.9 138.5,295.3 138.7,302.5 138.8,322.7 139.0,343.6 139.1,357.5 139.3,365.0 139.5,368.8 139.6,371.0 139.8,372.7 139.9,374.4 140.1,376.0 140.2,377.7 140.4,379.3 140.6,381.0 140.7,382.6 140.9,384.0 141.0,384.1 141.2,384.3 141.3,384.5 141.5,384.7 141.7,384.9 141.8,385.1 142.0,385.3 142.1,385.5 142.3,385.6 142.4,385.8 142.6,386.0 142.8,386.2 142.9,386.2 143.1,386.2 143.2,386.3 143.4,386.3 143.5,386.3 143.7,386.3 143.9,386.3 144.0,386.3 144.2,386.3 144.3,386.4 144.5,386.4 144.6,386.4 144.8,386.4 145.0,386.4 145.1,386.4 145.3,386.4 145.4,386.5 145.6,386.5 145.7,386.5 145.9,386.5 146.1,386.5 146.2,386.5 146.4,386.5 146.5,386.6 146.7,386.6 146.8,386.6 147.0,386.6 147.2,386.6 147.3,386.6 147.5,386.7 147.6,386.7 147.8,386.7 147.9,386.7 148.1,386.7 148.3,386.7 148.4,386.7 148.6,386.8 148.7,386.8 148.9,386.8 149.0,386.8 149.2,386.8 149.4,386.8 149.5,386.8 149.7,386.9 149.8,386.9 150.0,386.9 150.1,386.9 150.3,386.9 150.5,386.9 150.6,386.9 150.8,387.0 150.9,387.0 151.1,387.0 151.2,387.0 151.4,387.0 151.5,387.0 151.7,387.0 151.9,387.0 152.0,387.0 152.2,387.0 152.3,387.0 152.5,387.0 152.6,386.9 152.8,386.9 153.0,386.9 153.1,386.9 153.3,386.9 153.4,386.9 153.6,386.9 153.7,386.9 153.9,386.9 154.1,386.9 154.2,386.9 154.4,386.9 154.5,386.9 154.7,386.9 154.8,386.9 155.0,386.9 155.2,386.9 155.3,386.9 155.5,386.9 155.6,386.9 155.8,386.9 155.9,386.9 156.1,386.9 156.3,386.9 156.4,386.9 156.6,386.9 156.7,386.9 156.9,386.9 157.0,386.9 157.2,386.9 157.4,386.9 157.5,386.9 157.7,386.8 157.8,386.8 158.0,386.8 158.1,386.8 158.3,386.8 158.5,386.8 158.6,386.8 158.8,386.8 158.9,386.8 159.1,386.8 159.2,386.8 159.4,386.8 159.6,386.8 159.7,386.8 159.9,386.8 160.0,386.8 160.2,386.8 160.3,386.8 160.5,386.8 160.7,386.8 160.8,386.8 161.0,386.8 161.1,386.8 161.3,386.8 161.4,386.8 161.6,386.8 161.8,386.8 161.9,386.8 162.1,386.8 162.2,386.8 162.4,386.8 162.5,386.8 162.7,386.7 162.9,386.7 163.0,386.7 163.2,386.7 163.3,386.7 163.5,386.7 163.6,386.7 163.8,386.7 163.9,386.7 164.1,386.7 164.3,386.7 164.4,386.7 164.6,386.7 164.7,386.7 164.9,386.7 165.0,386.7 165.2,386.7 165.4,386.7 165.5,386.7 165.7,386.7 165.8,386.7 166.0,386.7 166.1,386.7 166.3,386.7 166.5,386.7 166.6,386.7 166.8,386.7 166.9,386.7 167.1,386.7 167.2,386.7 167.4,386.7 167.6,386.6 167.7,386.6 167.9,386.6 168.0,386.6 168.2,386.6 168.3,386.6 168.5,386.6 168.7,386.6 168.8,386.6 169.0,386.6 169.1,386.6 169.3,386.6 169.4,386.6 169.6,386.6 169.8,386.6 169.9,386.6 170.1,386.6 170.2,386.6 170.4,386.6 170.5,386.6 170.7,386.6 170.9,386.6 171.0,386.6 171.2,386.6 171.3,386.5 171.5,386.5 171.6,386.5 171.8,386.5 172.0,386.5 172.1,386.5 172.3,386.5 172.4,386.5 172.6,386.5 172.7,386.5 172.9,386.5 173.1,386.5 173.2,386.5 173.4,386.5 173.5,386.4 173.7,386.4 173.8,386.4 174.0,386.4 174.2,386.4 174.3,386.4 174.5,386.4 174.6,386.4 174.8,386.4 174.9,386.4 175.1,386.4 175.3,386.4 175.4,386.4 175.6,386.3 175.7,386.3 175.9,386.3 176.0,386.3 176.2,386.3 176.4,386.3 176.5,386.3 176.7,386.3 176.8,386.3 177.0,386.3 177.1,386.3 177.3,386.3 177.4,386.3 177.6,386.3 177.8,386.2 177.9,386.2 178.1,386.2 178.2,386.2 178.4,386.2 178.5,386.2 178.7,386.2 178.9,386.2 179.0,386.2 179.2,386.2 179.3,386.2 179.5,386.2 179.6,386.2 179.8,386.1 180.0,386.1 180.1,386.1 180.3,386.0 180.4,385.7 180.6,385.2 180.7,384.4 180.9,383.3 181.1,381.9 181.2,380.6 181.4,379.7 181.5,379.6 181.7,380.3 181.8,381.5 182.0,382.9 182.2,384.1 182.3,385.0 182.5,385.5 182.6,385.8 182.8,385.9 182.9,386.0 183.1,386.0 183.3,386.0 183.4,386.0 183.6,386.0 183.7,386.0 183.9,386.0 184.0,386.0 184.2,385.9 184.4,385.9 184.5,385.9 184.7,385.9 184.8,385.9 185.0,385.9 185.1,385.9 185.3,385.9 185.5,385.9 185.6,385.9 185.8,385.9 185.9,385.9 186.1,385.9 186.2,385.9 186.4,385.8 186.6,385.8 186.7,385.8 186.9,385.8 187.0,385.8 187.2,385.8 187.3,385.8 187.5,385.8 187.7,385.8 187.8,385.7 188.0,385.7 188.1,385.7 188.3,385.7 188.4,385.7 188.6,385.7 188.8,385.7 188.9,385.7 189.1,385.6 189.2,385.6 189.4,385.6 189.5,385.6 189.7,385.6 189.8,385.6 190.0,385.6 190.2,385.6 190.3,385.5 190.5,385.5 190.6,385.5 190.8,385.5 190.9,385.5 191.1,385.5 191.3,385.5 191.4,385.5 191.6,385.4 191.7,385.4 191.9,385.4 192.0,385.4 192.2,385.4 192.4,385.4 192.5,385.4 192.7,385.4 192.8,385.3 193.0,385.3 193.1,385.3 193.3,385.3 193.5,385.3 193.6,385.3 193.8,385.3 193.9,385.3 194.1,385.2 194.2,385.2 194.4,385.2 194.6,385.2 194.7,385.2 194.9,385.2 195.0,385.2 195.2,385.2 195.3,385.1 195.5,385.1 195.7,385.1 195.8,385.1 196.0,385.1 196.1,385.1 196.3,385.1 196.4,385.1 196.6,385.0 196.8,385.0 196.9,385.0 197.1,385.0 197.2,385.0 197.4,385.0 197.5,385.0 197.7,385.0 197.9,384.9 198.0,384.9 198.2,384.9 198.3,384.9 198.5,384.9 198.6,384.9 198.8,384.9 199.0,384.9 199.1,384.8 199.3,384.8 199.4,384.8 199.6,384.8 199.7,384.8 199.9,384.8 200.1,384.8 200.2,384.8 200.4,384.7 200.5,384.7 200.7,384.7 200.8,384.7 201.0,384.7 201.2,384.7 201.3,384.7 201.5,384.7 201.6,384.6 201.8,384.6 201.9,384.6 202.1,384.6 202.3,384.6 202.4,384.6 202.6,384.6 202.7,384.5 202.9,384.5 203.0,384.5 203.2,384.5 203.3,384.5 203.5,384.5 203.7,384.5 203.8,384.5 204.0,384.4 204.1,384.4 204.3,384.4 204.4,384.4 204.6,384.4 204.8,384.4 204.9,384.4 205.1,384.4 205.2,384.3 205.4,384.3 205.5,384.3 205.7,384.3 205.9,384.3 206.0,384.3 206.2,384.3 206.3,384.3 206.5,384.2 206.6,384.2 206.8,384.2 207.0,384.2 207.1,384.2 207.3,384.2 207.4,384.2 207.6,384.2 207.7,384.1 207.9,384.1 208.1,384.1 208.2,384.1 208.4,384.1 208.5,384.1 208.7,384.1 208.8,384.0 209.0,384.0 209.2,384.0 209.3,384.0 209.5,384.0 209.6,384.0 209.8,384.0 209.9,384.0 210.1,383.9 210.3,383.9 210.4,383.9 210.6,383.9 210.7,383.9 210.9,383.9 211.0,383.9 211.2,383.9 211.4,383.8 211.5,383.8 211.7,383.8 211.8,383.8 212.0,383.8 212.1,383.8 212.3,383.8 212.5,383.7 212.6,383.7 212.8,383.7 212.9,383.7 213.1,383.7 213.2,383.7 213.4,383.7 213.6,383.7 213.7,383.6 213.9,383.6 214.0,383.6 214.2,383.6 214.3,383.6 214.5,383.6 214.7,383.6 214.8,383.5 215.0,383.5 215.1,383.5 215.3,383.5 215.4,383.5 215.6,383.5 215.7,383.5 215.9,383.5 216.1,383.4 216.2,383.4 216.4,383.4 216.5,383.4 216.7,383.4 216.8,383.4 217.0,383.4 217.2,383.4 217.3,383.3 217.5,383.3 217.6,383.3 217.8,383.3 217.9,383.3 218.1,383.3 218.3,383.3 218.4,383.2 218.6,383.2 218.7,383.2 218.9,383.2 219.0,383.2 219.2,383.2 219.4,383.2 219.5,383.2 219.7,383.1 219.8,383.1 220.0,383.1 220.1,383.1 220.3,383.0 220.5,383.0 220.6,383.0 220.8,383.0 220.9,382.9 221.1,382.9 221.2,382.9 221.4,382.8 221.6,382.8 221.7,382.8 221.9,382.8 222.0,382.7 222.2,382.7 222.3,382.7 222.5,382.7 222.7,382.6 222.8,382.6 223.0,382.6 223.1,382.6 223.3,382.5 223.4,382.5 223.6,382.5 223.8,382.5 223.9,382.4 224.1,382.4 224.2,382.4 224.4,382.3 224.5,382.3 224.7,382.3 224.9,382.3 225.0,382.2 225.2,382.2 225.3,382.2 225.5,382.2 225.6,382.1 225.8,382.1 226.0,382.1 226.1,382.1 226.3,382.0 226.4,382.0 226.6,382.0 226.7,382.0 226.9,382.0 227.1,382.0 227.2,382.0 227.4,382.0 227.5,382.0 227.7,382.0 227.8,382.0 228.0,382.0 228.2,382.0 228.3,382.0 228.5,382.0 228.6,382.0 228.8,382.0 228.9,382.0 229.1,382.0 229.2,382.0 229.4,382.0 229.6,382.0 229.7,382.0 229.9,382.0 230.0,382.0 230.2,382.0 230.3,382.0 230.5,382.0 230.7,382.0 230.8,382.0 231.0,382.0 231.1,382.0 231.3,382.0 231.4,382.0 231.6,382.0 231.8,382.0 231.9,382.0 232.1,382.0 232.2,382.0 232.4,382.0 232.5,382.0 232.7,382.0 232.9,382.0 233.0,382.0 233.2,382.0 233.3,382.0 233.5,382.0 233.6,382.0 233.8,382.0 234.0,382.0 234.1,382.1 234.3,382.1 234.4,382.1 234.6,382.1 234.7,382.1 234.9,382.1 235.1,382.1 235.2,382.2 235.4,382.2 235.5,382.2 235.7,382.2 235.8,382.2 236.0,382.2 236.2,382.2 236.3,382.3 236.5,382.3 236.6,382.3 236.8,382.3 236.9,382.3 237.1,382.3 237.3,382.3 237.4,382.3 237.6,382.4 237.7,382.4 237.9,382.5 238.0,382.6 238.2,382.8 238.4,382.9 238.5,383.0 238.7,383.2 238.8,383.3 239.0,383.4 239.1,383.6 239.3,383.7 239.5,383.8 239.6,384.0 239.8,384.1 239.9,384.2 240.1,384.4 240.2,384.5 240.4,384.6 240.6,384.8 240.7,384.9 240.9,385.0 241.0,385.2 241.2,385.3 241.3,385.4 241.5,385.6 241.6,385.7 241.8,385.8 242.0,386.0 242.1,386.1 242.3,386.3 242.4,386.4 242.6,386.5 242.7,386.6 242.9,386.8 243.1,386.9 243.2,387.0 243.4,387.1 243.5,387.2 243.7,387.3 243.8,387.4 244.0,387.5 244.2,387.6 244.3,387.7 244.5,387.8 244.6,388.0 244.8,388.1 244.9,388.1 245.1,388.1 245.3,388.1 245.4,388.1 245.6,388.1 245.7,388.1 245.9,388.1 246.0,388.1 246.2,388.1 246.4,388.1 246.5,388.1 246.7,388.1 246.8,388.1 247.0,388.1 247.1,388.1 247.3,388.1 247.5,388.1 247.6,388.1 247.8,388.1 247.9,388.1 248.1,388.1 248.2,388.1 248.4,388.1 248.6,388.1 248.7,388.1 248.9,388.1 249.0,388.1 249.2,388.1 249.3,388.1 249.5,388.1 249.7,388.1 249.8,388.1 250.0,388.1 250.1,388.1 250.3,388.1 250.4,388.1 250.6,388.1 250.8,388.1 250.9,388.1 251.1,388.1 251.2,388.1 251.4,388.1 251.5,388.0 251.7,387.8 251.9,387.6 252.0,387.4 252.2,387.2 252.3,386.9 252.5,386.7 252.6,386.5 252.8,386.3 253.0,386.1 253.1,385.8 253.3,385.8 253.4,385.8 253.6,385.8 253.7,385.6 253.9,385.1 254.1,383.9 254.2,381.7 254.4,378.4 254.5,374.8 254.7,372.4 254.8,372.3 255.0,374.6 255.1,378.2 255.3,381.5 255.5,383.8 255.6,384.8 255.8,384.7 255.9,383.5 256.1,381.4 256.2,379.2 256.4,378.2 256.6,379.1 256.7,381.3 256.9,383.5 257.0,384.9 257.2,385.6 257.3,385.8 257.5,385.8 257.7,386.3 257.8,386.8 258.0,387.4 258.1,387.9 258.3,388.4 258.4,388.9 258.6,389.4 258.8,389.9 258.9,390.4 259.1,390.9 259.2,391.2 259.4,391.3 259.5,391.4 259.7,391.5 259.9,391.5 260.0,391.6 260.2,391.7 260.3,391.7 260.5,391.8 260.6,391.9 260.8,392.0" fill="none" stroke="#1414f0" stroke-width="2.00" stroke-linejoin="round" stroke-linecap="round" />
<text x="40.6" y="409.0" font-family='"Liberation Serif", serif' font-size="12.00" text-anchor="middle" fill="#262626" stroke="#262626" stroke-width="0.22" >800</text>
<text x="96.0" y="409.0" font-family='"Liberation Serif", serif' font-size="12.00" text-anchor="middle" fill="#262626" stroke="#262626" stroke-width="0.22" >600</text>
<text x="150.7" y="409.0" font-family='"Liberation Serif", serif' font-size="12.00" text-anchor="middle" fill="#262626" stroke="#262626" stroke-width="0.22" >400</text>
<text x="206.0" y="409.0" font-family='"Liberation Serif", serif' font-size="12.00" text-anchor="middle" fill="#262626" stroke="#262626" stroke-width="0.22" >200</text>
<text x="260.5" y="409.0" font-family='"Liberation Serif", serif' font-size="12.00" text-anchor="middle" fill="#262626" stroke="#262626" stroke-width="0.22" >0</text>
<text x="34.0" y="244.2" font-family='"Liberation Serif", serif' font-size="12.00" text-anchor="middle" fill="#262626" stroke="#262626" stroke-width="0.22" >4</text>
<text x="32.7" y="282.0" font-family='"Liberation Serif", serif' font-size="12.00" text-anchor="middle" fill="#262626" stroke="#262626" stroke-width="0.22" >3</text>
<text x="32.7" y="320.0" font-family='"Liberation Serif", serif' font-size="12.00" text-anchor="middle" fill="#262626" stroke="#262626" stroke-width="0.22" >2</text>
<text x="32.9" y="360.2" font-family='"Liberation Serif", serif' font-size="12.00" text-anchor="middle" fill="#262626" stroke="#262626" stroke-width="0.22" >1</text>
<text x="36.0" y="397.6" font-family='"Liberation Serif", serif' font-size="12.00" text-anchor="middle" fill="#262626" stroke="#262626" stroke-width="0.22" >0</text>
<text x="42.3" y="234.3" font-family='"Liberation Serif", serif' font-size="12.00" text-anchor="start" fill="#262626" stroke="#262626" stroke-width="0.22" >&#215;10<tspan dy="-3.6" font-size="10.4">5</tspan></text>
<text x="75.5" y="269.3" font-family='"Liberation Sans", sans-serif' font-size="13.00" text-anchor="middle" fill="#1e1e1e" stroke="#1e1e1e" stroke-width="0.32" >(c)</text>
<text x="21.6" y="315.8" font-family='"Liberation Serif", serif' font-size="12.10" text-anchor="middle" fill="#262626" stroke="#262626" stroke-width="0.22" transform="rotate(-90 21.6 315.8)">intensity (c/s)</text>
<text x="150.8" y="425.5" font-family='"Liberation Serif", serif' font-size="12.00" text-anchor="middle" fill="#262626" stroke="#262626" stroke-width="0.22" >binding energy (eV)</text>
<line x1="303.3" y1="239.9" x2="303.3" y2="393.5" stroke="#262626" stroke-width="1.5"/>
<line x1="303.3" y1="393.5" x2="522.8" y2="393.5" stroke="#262626" stroke-width="1.5"/>
<line x1="303.3" y1="239.9" x2="404.8" y2="239.9" stroke="#262626" stroke-width="1.5"/>
<line x1="522.8" y1="361.2" x2="522.8" y2="393.5" stroke="#444" stroke-width="1.2"/>
<line x1="358.2" y1="393.5" x2="358.2" y2="391.3" stroke="#262626" stroke-width="1.0"/>
<line x1="413.0" y1="393.5" x2="413.0" y2="391.3" stroke="#262626" stroke-width="1.0"/>
<line x1="467.9" y1="393.5" x2="467.9" y2="391.3" stroke="#262626" stroke-width="1.0"/>
<line x1="358.2" y1="239.9" x2="358.2" y2="242.1" stroke="#262626" stroke-width="1.0"/>
<line x1="303.3" y1="355.1" x2="305.5" y2="355.1" stroke="#262626" stroke-width="1.0"/>
<line x1="303.3" y1="316.8" x2="305.5" y2="316.8" stroke="#262626" stroke-width="1.0"/>
<line x1="303.3" y1="278.4" x2="305.5" y2="278.4" stroke="#262626" stroke-width="1.0"/>
<polyline points="303.3,355.5 303.5,355.5 303.6,355.5 303.8,355.5 303.9,355.5 304.1,355.5 304.2,355.5 304.4,355.5 304.6,355.5 304.7,355.5 304.9,355.4 305.0,355.4 305.2,355.4 305.3,355.4 305.5,355.4 305.7,355.4 305.8,355.4 306.0,355.4 306.1,355.4 306.3,355.4 306.4,355.4 306.6,355.3 306.8,355.3 306.9,355.3 307.1,355.3 307.2,355.3 307.4,355.3 307.5,355.3 307.7,355.3 307.9,355.3 308.0,355.3 308.2,355.3 308.3,355.3 308.5,355.2 308.6,355.2 308.8,355.2 308.9,355.2 309.1,355.2 309.3,355.2 309.4,355.2 309.6,355.2 309.7,355.2 309.9,355.2 310.0,355.2 310.2,355.1 310.4,355.1 310.5,355.1 310.7,355.1 310.8,355.1 311.0,355.1 311.1,355.1 311.3,355.0 311.5,355.0 311.6,355.0 311.8,355.0 311.9,355.0 312.1,355.0 312.2,354.9 312.4,354.9 312.6,354.8 312.7,354.7 312.9,354.6 313.0,354.4 313.2,354.2 313.3,354.0 313.5,353.8 313.7,353.7 313.8,353.7 314.0,353.8 314.1,353.9 314.3,354.1 314.4,354.3 314.6,354.4 314.8,354.5 314.9,354.6 315.1,354.6 315.2,354.7 315.4,354.7 315.5,354.6 315.7,354.6 315.9,354.6 316.0,354.6 316.2,354.6 316.3,354.6 316.5,354.6 316.6,354.5 316.8,354.5 317.0,354.5 317.1,354.5 317.3,354.5 317.4,354.5 317.6,354.5 317.7,354.4 317.9,354.4 318.0,354.4 318.2,354.4 318.4,354.4 318.5,354.4 318.7,354.3 318.8,354.3 319.0,354.3 319.1,354.3 319.3,354.2 319.5,354.2 319.6,354.2 319.8,354.2 319.9,354.1 320.1,354.1 320.2,354.1 320.4,354.1 320.6,354.0 320.7,354.0 320.9,354.0 321.0,353.9 321.2,353.9 321.3,353.9 321.5,353.9 321.7,353.8 321.8,353.8 322.0,353.8 322.1,353.8 322.3,353.7 322.4,353.7 322.6,353.7 322.8,353.7 322.9,353.6 323.1,353.6 323.2,353.6 323.4,353.6 323.5,353.7 323.7,353.7 323.9,353.7 324.0,353.7 324.2,353.6 324.3,353.5 324.5,353.2 324.6,352.8 324.8,352.1 325.0,351.4 325.1,350.9 325.3,350.8 325.4,351.0 325.6,351.6 325.7,352.4 325.9,353.0 326.1,353.5 326.2,353.7 326.4,353.9 326.5,353.9 326.7,354.0 326.8,354.0 327.0,354.0 327.1,354.0 327.3,354.0 327.5,354.1 327.6,354.1 327.8,354.1 327.9,354.1 328.1,354.1 328.2,354.1 328.4,354.1 328.6,354.2 328.7,354.1 328.9,354.1 329.0,353.9 329.2,353.6 329.3,353.1 329.5,352.4 329.7,351.7 329.8,351.3 330.0,351.3 330.1,351.6 330.3,352.3 330.4,353.0 330.6,353.6 330.8,354.0 330.9,354.3 331.1,354.5 331.2,354.6 331.4,354.7 331.5,354.8 331.7,354.9 331.9,355.0 332.0,355.1 332.2,355.2 332.3,355.3 332.5,355.4 332.6,355.4 332.8,355.5 333.0,355.6 333.1,355.7 333.3,355.8 333.4,355.9 333.6,355.9 333.7,355.9 333.9,355.8 334.1,355.8 334.2,355.8 334.4,355.7 334.5,355.7 334.7,355.7 334.8,355.6 335.0,355.6 335.2,355.6 335.3,355.6 335.5,355.5 335.6,355.5 335.8,355.5 335.9,355.4 336.1,355.4 336.2,355.4 336.4,355.3 336.6,355.3 336.7,355.3 336.9,355.2 337.0,355.2 337.2,355.2 337.3,355.2 337.5,355.2 337.7,355.2 337.8,355.2 338.0,355.3 338.1,355.3 338.3,355.3 338.4,355.4 338.6,355.4 338.8,355.4 338.9,355.2 339.1,354.9 339.2,354.3 339.4,353.4 339.5,352.0 339.7,350.5 339.9,349.2 340.0,348.5 340.2,348.6 340.3,349.6 340.5,351.2 340.6,352.7 340.8,354.0 341.0,354.9 341.1,355.5 341.3,356.1 341.4,356.7 341.6,357.2 341.7,357.7 341.9,358.2 342.1,358.7 342.2,359.1 342.4,359.6 342.5,360.1 342.7,360.2 342.8,360.2 343.0,360.3 343.2,360.3 343.3,360.4 343.5,360.4 343.6,360.4 343.8,360.5 343.9,360.5 344.1,360.5 344.3,360.5 344.4,360.4 344.6,360.4 344.7,360.4 344.9,360.3 345.0,360.3 345.2,360.3 345.3,360.2 345.5,360.2 345.7,360.2 345.8,360.2 346.0,360.1 346.1,360.1 346.3,360.1 346.4,360.0 346.6,360.0 346.8,360.0 346.9,360.0 347.1,359.9 347.2,359.9 347.4,359.9 347.5,359.8 347.7,359.8 347.9,359.8 348.0,359.7 348.2,359.7 348.3,359.7 348.5,359.7 348.6,359.6 348.8,359.6 349.0,359.6 349.1,359.5 349.3,359.5 349.4,359.5 349.6,359.5 349.7,359.4 349.9,359.4 350.1,359.4 350.2,359.3 350.4,359.3 350.5,359.3 350.7,359.2 350.8,359.2 351.0,359.2 351.2,359.2 351.3,359.1 351.5,359.1 351.6,359.1 351.8,359.0 351.9,359.0 352.1,359.0 352.3,358.9 352.4,358.9 352.6,358.9 352.7,358.9 352.9,358.8 353.0,358.8 353.2,358.8 353.4,358.7 353.5,358.7 353.7,358.7 353.8,358.7 354.0,358.6 354.1,358.6 354.3,358.6 354.4,358.5 354.6,358.5 354.8,358.5 354.9,358.4 355.1,358.4 355.2,358.4 355.4,358.4 355.5,358.3 355.7,358.3 355.9,358.3 356.0,358.2 356.2,358.2 356.3,358.2 356.5,358.2 356.6,358.1 356.8,358.1 357.0,358.1 357.1,358.0 357.3,358.0 357.4,358.0 357.6,357.9 357.7,357.9 357.9,357.9 358.1,357.9 358.2,357.8 358.4,357.8 358.5,357.7 358.7,357.7 358.8,357.7 359.0,357.6 359.2,357.6 359.3,357.6 359.5,357.5 359.6,357.5 359.8,357.4 359.9,357.4 360.1,357.4 360.3,357.3 360.4,357.3 360.6,357.2 360.7,357.2 360.9,357.2 361.0,357.1 361.2,357.1 361.4,357.1 361.5,357.0 361.7,357.0 361.8,356.9 362.0,356.9 362.1,356.9 362.3,356.8 362.5,356.8 362.6,356.8 362.8,356.7 362.9,356.7 363.1,356.6 363.2,356.6 363.4,356.6 363.5,356.5 363.7,356.5 363.9,356.4 364.0,356.4 364.2,356.4 364.3,356.3 364.5,356.3 364.6,356.3 364.8,356.2 365.0,356.2 365.1,356.1 365.3,356.1 365.4,356.1 365.6,356.0 365.7,356.0 365.9,355.9 366.1,355.9 366.2,355.9 366.4,355.8 366.5,355.8 366.7,355.8 366.8,355.7 367.0,355.7 367.2,355.6 367.3,355.6 367.5,355.6 367.6,355.5 367.8,355.5 367.9,355.4 368.1,355.4 368.3,355.4 368.4,355.3 368.6,355.3 368.7,355.3 368.9,355.2 369.0,355.2 369.2,355.1 369.4,355.1 369.5,355.1 369.7,355.1 369.8,355.0 370.0,355.0 370.1,355.0 370.3,354.9 370.5,354.9 370.6,354.9 370.8,354.8 370.9,354.8 371.1,354.8 371.2,354.8 371.4,354.7 371.6,354.7 371.7,354.7 371.9,354.6 372.0,354.6 372.2,354.6 372.3,354.6 372.5,354.5 372.6,354.5 372.8,354.5 373.0,354.4 373.1,354.4 373.3,354.4 373.4,354.3 373.6,354.2 373.7,354.1 373.9,354.0 374.1,353.9 374.2,353.8 374.4,353.7 374.5,353.6 374.7,353.5 374.8,353.4 375.0,353.3 375.2,353.2 375.3,353.4 375.5,353.4 375.6,352.4 375.8,349.6 375.9,344.7 376.1,339.1 376.3,336.3 376.4,338.3 376.6,344.1 376.7,350.3 376.9,354.6 377.0,356.8 377.2,357.8 377.4,358.4 377.5,358.8 377.7,359.1 377.8,359.5 378.0,359.8 378.1,359.8 378.3,359.8 378.5,359.8 378.6,359.9 378.8,359.9 378.9,359.9 379.1,360.0 379.2,360.0 379.4,360.0 379.6,360.0 379.7,360.1 379.9,360.1 380.0,360.1 380.2,360.2 380.3,360.2 380.5,360.2 380.7,360.2 380.8,360.3 381.0,360.3 381.1,360.3 381.3,360.4 381.4,360.4 381.6,360.4 381.7,360.4 381.9,360.5 382.1,360.5 382.2,360.5 382.4,360.6 382.5,360.6 382.7,360.6 382.8,360.6 383.0,360.7 383.2,360.7 383.3,360.7 383.5,360.8 383.6,360.8 383.8,360.8 383.9,360.8 384.1,360.9 384.3,360.9 384.4,360.8 384.6,360.6 384.7,360.5 384.9,360.4 385.0,360.2 385.2,360.1 385.4,360.0 385.5,359.8 385.7,359.7 385.8,359.7 386.0,359.3 386.1,358.1 386.3,356.1 386.5,353.9 386.6,353.0 386.8,354.3 386.9,356.6 387.1,358.6 387.2,359.6 387.4,360.0 387.6,360.1 387.7,360.1 387.9,360.2 388.0,360.2 388.2,360.2 388.3,360.2 388.5,360.1 388.7,359.6 388.8,358.0 389.0,355.0 389.1,351.5 389.3,349.7 389.4,351.2 389.6,354.7 389.8,358.0 389.9,360.0 390.1,361.0 390.2,361.5 390.4,361.8 390.5,362.1 390.7,362.4 390.8,362.7 391.0,363.0 391.2,363.2 391.3,363.3 391.5,363.4 391.6,363.5 391.8,363.6 391.9,363.7 392.1,363.8 392.3,363.9 392.4,364.0 392.6,364.1 392.7,364.2 392.9,364.2 393.0,364.3 393.2,364.4 393.4,364.5 393.5,364.6 393.7,364.7 393.8,364.8 394.0,364.9 394.1,365.0 394.3,365.1 394.5,365.2 394.6,365.3 394.8,365.4 394.9,365.5 395.1,365.7 395.2,365.8 395.4,365.9 395.6,366.1 395.7,366.2 395.9,366.3 396.0,366.4 396.2,366.6 396.3,366.7 396.5,366.7 396.7,366.8 396.8,366.9 397.0,366.9 397.1,367.0 397.3,367.0 397.4,367.1 397.6,367.1 397.8,366.8 397.9,365.4 398.1,361.8 398.2,355.6 398.4,349.3 398.5,347.3 398.7,351.4 398.9,358.3 399.0,363.9 399.2,366.6 399.3,367.6 399.5,367.9 399.6,368.0 399.8,368.0 399.9,367.8 400.1,366.6 400.3,363.0 400.4,355.0 400.6,344.1 400.7,336.6 400.9,338.7 401.0,348.9 401.2,360.0 401.4,367.8 401.5,371.9 401.7,374.1 401.8,375.6 402.0,377.0 402.1,378.4 402.3,379.8 402.5,381.2 402.6,382.6 402.8,384.0 402.9,385.1 403.1,385.2 403.2,385.3 403.4,385.3 403.6,385.4 403.7,385.5 403.9,385.6 404.0,385.7 404.2,385.8 404.3,385.8 404.5,385.9 404.7,385.9 404.8,385.9 405.0,385.9 405.1,385.9 405.3,385.9 405.4,386.0 405.6,386.0 405.8,386.0 405.9,386.0 406.1,386.0 406.2,386.0 406.4,386.1 406.5,386.1 406.7,386.1 406.9,386.1 407.0,386.1 407.2,386.1 407.3,386.2 407.5,386.2 407.6,386.2 407.8,386.2 408.0,386.2 408.1,386.2 408.3,386.3 408.4,386.3 408.6,386.3 408.7,386.3 408.9,386.3 409.0,386.3 409.2,386.4 409.4,386.4 409.5,386.4 409.7,386.4 409.8,386.4 410.0,386.4 410.1,386.5 410.3,386.5 410.5,386.5 410.6,386.5 410.8,386.5 410.9,386.5 411.1,386.6 411.2,386.6 411.4,386.6 411.6,386.6 411.7,386.6 411.9,386.6 412.0,386.6 412.2,386.6 412.3,386.5 412.5,386.5 412.7,386.5 412.8,386.5 413.0,386.5 413.1,386.5 413.3,386.5 413.4,386.5 413.6,386.5 413.8,386.5 413.9,386.5 414.1,386.4 414.2,386.4 414.4,386.4 414.5,386.4 414.7,386.4 414.9,386.4 415.0,386.4 415.2,386.4 415.3,386.4 415.5,386.4 415.6,386.4 415.8,386.4 416.0,386.3 416.1,386.3 416.3,386.3 416.4,386.3 416.6,386.3 416.7,386.3 416.9,386.3 417.1,386.3 417.2,386.3 417.4,386.3 417.5,386.3 417.7,386.3 417.8,386.2 418.0,386.2 418.1,386.2 418.3,386.2 418.5,386.2 418.6,386.2 418.8,386.2 418.9,386.2 419.1,386.2 419.2,386.2 419.4,386.2 419.6,386.1 419.7,386.1 419.9,386.1 420.0,386.1 420.2,386.1 420.3,386.1 420.5,386.1 420.7,386.1 420.8,386.1 421.0,386.1 421.1,386.1 421.3,386.1 421.4,386.0 421.6,386.0 421.8,386.0 421.9,386.0 422.1,386.0 422.2,386.0 422.4,386.0 422.5,386.0 422.7,386.0 422.9,386.0 423.0,386.0 423.2,385.9 423.3,385.9 423.5,385.9 423.6,385.9 423.8,385.9 424.0,385.9 424.1,385.9 424.3,385.9 424.4,385.9 424.6,385.9 424.7,385.9 424.9,385.9 425.1,385.8 425.2,385.8 425.4,385.8 425.5,385.8 425.7,385.8 425.8,385.8 426.0,385.8 426.2,385.8 426.3,385.8 426.5,385.8 426.6,385.8 426.8,385.7 426.9,385.7 427.1,385.7 427.2,385.7 427.4,385.7 427.6,385.7 427.7,385.7 427.9,385.7 428.0,385.7 428.2,385.7 428.3,385.7 428.5,385.7 428.7,385.6 428.8,385.6 429.0,385.6 429.1,385.6 429.3,385.6 429.4,385.6 429.6,385.6 429.8,385.6 429.9,385.6 430.1,385.6 430.2,385.6 430.4,385.5 430.5,385.5 430.7,385.5 430.9,385.5 431.0,385.5 431.2,385.5 431.3,385.5 431.5,385.5 431.6,385.5 431.8,385.5 432.0,385.5 432.1,385.5 432.3,385.4 432.4,385.4 432.6,385.4 432.7,385.4 432.9,385.4 433.1,385.3 433.2,385.3 433.4,385.3 433.5,385.3 433.7,385.3 433.8,385.2 434.0,385.2 434.2,385.2 434.3,385.2 434.5,385.2 434.6,385.1 434.8,385.1 434.9,385.1 435.1,385.1 435.3,385.1 435.4,385.0 435.6,385.0 435.7,385.0 435.9,385.0 436.0,385.0 436.2,384.9 436.3,384.9 436.5,384.9 436.7,384.9 436.8,384.8 437.0,384.8 437.1,384.8 437.3,384.8 437.4,384.8 437.6,384.7 437.8,384.7 437.9,384.7 438.1,384.7 438.2,384.7 438.4,384.6 438.5,384.6 438.7,384.6 438.9,384.6 439.0,384.6 439.2,384.5 439.3,384.5 439.5,384.5 439.6,384.5 439.8,384.5 440.0,384.4 440.1,384.4 440.3,384.4 440.4,384.4 440.6,384.4 440.7,384.3 440.9,384.3 441.1,384.3 441.2,384.3 441.4,384.3 441.5,384.3 441.7,384.4 441.8,384.4 442.0,384.4 442.2,384.4 442.3,384.4 442.5,384.4 442.6,384.5 442.8,384.5 442.9,384.5 443.1,384.5 443.3,384.4 443.4,384.1 443.6,383.4 443.7,382.2 443.9,380.5 444.0,378.6 444.2,377.0 444.4,376.6 444.5,377.4 444.7,379.2 444.8,381.1 445.0,382.8 445.1,383.8 445.3,384.4 445.4,384.6 445.6,384.7 445.8,384.8 445.9,384.8 446.1,384.8 446.2,384.8 446.4,384.8 446.5,384.8 446.7,384.9 446.9,384.9 447.0,384.9 447.2,384.9 447.3,384.9 447.5,384.9 447.6,385.0 447.8,385.0 448.0,385.0 448.1,385.0 448.3,385.0 448.4,385.0 448.6,385.0 448.7,385.1 448.9,385.1 449.1,385.1 449.2,385.1 449.4,385.1 449.5,385.1 449.7,385.1 449.8,385.1 450.0,385.1 450.2,385.1 450.3,385.1 450.5,385.1 450.6,385.1 450.8,385.1 450.9,385.1 451.1,385.1 451.3,385.1 451.4,385.1 451.6,385.1 451.7,385.1 451.9,385.1 452.0,385.1 452.2,385.1 452.4,385.1 452.5,385.1 452.7,385.1 452.8,385.1 453.0,385.1 453.1,385.1 453.3,385.1 453.5,385.1 453.6,385.1 453.8,385.1 453.9,385.1 454.1,385.1 454.2,385.1 454.4,385.1 454.5,385.1 454.7,385.1 454.9,385.1 455.0,385.1 455.2,385.1 455.3,385.1 455.5,385.1 455.6,385.1 455.8,385.1 456.0,385.1 456.1,385.1 456.3,385.1 456.4,385.1 456.6,385.1 456.7,385.1 456.9,385.1 457.1,385.1 457.2,385.1 457.4,385.1 457.5,385.1 457.7,385.1 457.8,385.1 458.0,385.1 458.2,385.1 458.3,385.1 458.5,385.1 458.6,385.1 458.8,385.1 458.9,385.1 459.1,385.1 459.3,385.1 459.4,385.1 459.6,385.1 459.7,385.1 459.9,385.1 460.0,385.1 460.2,385.1 460.4,385.1 460.5,385.1 460.7,385.1 460.8,385.1 461.0,385.1 461.1,385.1 461.3,385.1 461.5,385.1 461.6,385.1 461.8,385.1 461.9,385.1 462.1,385.1 462.2,385.1 462.4,385.1 462.6,385.1 462.7,385.1 462.9,385.1 463.0,385.1 463.2,385.1 463.3,385.1 463.5,385.1 463.6,385.1 463.8,385.1 464.0,385.1 464.1,385.1 464.3,385.1 464.4,385.1 464.6,385.1 464.7,385.1 464.9,385.1 465.1,385.1 465.2,385.1 465.4,385.1 465.5,385.1 465.7,385.1 465.8,385.1 466.0,385.1 466.2,385.1 466.3,385.1 466.5,385.1 466.6,385.1 466.8,385.1 466.9,385.1 467.1,385.1 467.3,385.1 467.4,385.1 467.6,385.1 467.7,385.1 467.9,385.1 468.0,385.1 468.2,385.1 468.4,385.1 468.5,385.1 468.7,385.1 468.8,385.1 469.0,385.1 469.1,385.1 469.3,385.1 469.5,385.1 469.6,385.1 469.8,385.1 469.9,385.1 470.1,385.1 470.2,385.1 470.4,385.1 470.6,385.1 470.7,385.1 470.9,385.1 471.0,385.1 471.2,385.1 471.3,385.1 471.5,385.1 471.7,385.1 471.8,385.1 472.0,385.1 472.1,385.1 472.3,385.1 472.4,385.1 472.6,385.1 472.7,385.1 472.9,385.1 473.1,385.1 473.2,385.1 473.4,385.1 473.5,385.1 473.7,385.1 473.8,385.1 474.0,385.1 474.2,385.1 474.3,385.1 474.5,385.1 474.6,385.1 474.8,385.1 474.9,385.1 475.1,385.1 475.3,385.1 475.4,385.1 475.6,385.1 475.7,385.1 475.9,385.1 476.0,385.1 476.2,385.1 476.4,385.1 476.5,385.1 476.7,385.1 476.8,385.1 477.0,385.1 477.1,385.1 477.3,385.1 477.5,385.1 477.6,385.1 477.8,385.1 477.9,385.1 478.1,385.1 478.2,385.1 478.4,385.1 478.6,385.1 478.7,385.1 478.9,385.1 479.0,385.1 479.2,385.1 479.3,385.1 479.5,385.1 479.7,385.0 479.8,385.0 480.0,384.9 480.1,384.7 480.3,384.4 480.4,384.0 480.6,383.5 480.8,383.2 480.9,383.2 481.1,383.3 481.2,383.7 481.4,384.2 481.5,384.5 481.7,384.8 481.8,384.9 482.0,385.0 482.2,385.0 482.3,385.1 482.5,385.1 482.6,385.1 482.8,385.1 482.9,385.1 483.1,385.1 483.3,385.1 483.4,385.1 483.6,385.1 483.7,385.1 483.9,385.1 484.0,385.1 484.2,385.1 484.4,385.1 484.5,385.1 484.7,385.1 484.8,385.1 485.0,385.1 485.1,385.1 485.3,385.1 485.5,385.1 485.6,385.1 485.8,385.1 485.9,385.1 486.1,385.1 486.2,385.1 486.4,385.1 486.6,385.1 486.7,385.1 486.9,385.1 487.0,385.1 487.2,385.1 487.3,385.1 487.5,385.1 487.7,385.1 487.8,385.1 488.0,385.1 488.1,385.1 488.3,385.1 488.4,385.1 488.6,385.1 488.8,385.1 488.9,385.1 489.1,385.1 489.2,385.1 489.4,385.1 489.5,385.1 489.7,385.1 489.9,385.1 490.0,385.1 490.2,385.1 490.3,385.1 490.5,385.1 490.6,385.1 490.8,385.1 490.9,385.1 491.1,385.1 491.3,385.1 491.4,385.1 491.6,385.1 491.7,385.1 491.9,385.1 492.0,385.1 492.2,385.1 492.4,385.1 492.5,385.1 492.7,385.1 492.8,385.1 493.0,385.1 493.1,385.1 493.3,385.1 493.5,385.1 493.6,385.1 493.8,385.1 493.9,385.0 494.1,385.0 494.2,384.8 494.4,384.6 494.6,384.2 494.7,383.8 494.9,383.4 495.0,383.2 495.2,383.2 495.3,383.5 495.5,383.9 495.7,384.4 495.8,384.7 496.0,385.0 496.1,385.1 496.3,385.2 496.4,385.2 496.6,385.2 496.8,385.3 496.9,385.3 497.1,385.3 497.2,385.3 497.4,385.3 497.5,385.4 497.7,385.4 497.9,385.4 498.0,385.4 498.2,385.5 498.3,385.5 498.5,385.5 498.6,385.5 498.8,385.5 499.0,385.6 499.1,385.6 499.3,385.6 499.4,385.6 499.6,385.7 499.7,385.7 499.9,385.7 500.0,385.7 500.2,385.7 500.4,385.8 500.5,385.8 500.7,385.8 500.8,385.8 501.0,385.9 501.1,386.0 501.3,386.1 501.5,386.2 501.6,386.3 501.8,386.4 501.9,386.5 502.1,386.6 502.2,386.7 502.4,386.8 502.6,386.9 502.7,387.0 502.9,387.1 503.0,387.2 503.2,387.3 503.3,387.4 503.5,387.5 503.7,387.6 503.8,387.7 504.0,387.8 504.1,387.9 504.3,388.0 504.4,388.1 504.6,388.1 504.8,388.1 504.9,388.1 505.1,388.1 505.2,388.1 505.4,388.1 505.5,388.1 505.7,388.1 505.9,388.1 506.0,388.1 506.2,388.1 506.3,388.1 506.5,388.1 506.6,388.1 506.8,388.1 507.0,388.1 507.1,388.1 507.3,388.1 507.4,388.1 507.6,388.1 507.7,388.1 507.9,388.1 508.1,388.1 508.2,388.1 508.4,388.1 508.5,388.1 508.7,388.1 508.8,388.1 509.0,388.1 509.1,388.1 509.3,388.1 509.5,388.1 509.6,388.1 509.8,388.1 509.9,388.1 510.1,388.1 510.2,388.1 510.4,388.1 510.6,388.1 510.7,388.1 510.9,388.1 511.0,388.1 511.2,388.1 511.3,388.1 511.5,388.1 511.7,388.1 511.8,388.1 512.0,388.1 512.1,388.1 512.3,388.1 512.4,388.1 512.6,388.1 512.8,388.1 512.9,388.1 513.1,388.1 513.2,388.1 513.4,388.1 513.5,388.1 513.7,388.1 513.9,388.1 514.0,388.1 514.2,388.1 514.3,388.1 514.5,388.1 514.6,388.1 514.8,388.1 515.0,388.0 515.1,387.9 515.3,387.9 515.4,387.8 515.6,387.8 515.7,387.7 515.9,387.7 516.1,387.6 516.2,387.6 516.4,387.5 516.5,387.4 516.7,387.4 516.8,387.4 517.0,387.4 517.2,387.4 517.3,387.3 517.5,386.8 517.6,385.7 517.8,383.7 517.9,381.4 518.1,379.6 518.2,379.4 518.4,380.9 518.6,383.3 518.7,385.5 518.9,386.9 519.0,387.6 519.2,387.8 519.3,387.9 519.5,388.0 519.7,388.0 519.8,388.1 520.0,388.1 520.1,388.3 520.3,388.6 520.4,388.9 520.6,389.3 520.8,389.6 520.9,389.9 521.1,390.3 521.2,390.5 521.4,390.5 521.5,390.6 521.7,390.7 521.9,390.8 522.0,390.8 522.2,390.9 522.3,391.0 522.5,391.1 522.6,391.1 522.8,391.2" fill="none" stroke="#1414f0" stroke-width="2.00" stroke-linejoin="round" stroke-linecap="round" />
<circle cx="480.9" cy="384.5" r="5.8" fill="none" stroke="#f01018" stroke-width="2.2"/>
<circle cx="496.0" cy="384.5" r="5.8" fill="none" stroke="#f01018" stroke-width="2.2"/>
<text x="303.3" y="409.0" font-family='"Liberation Serif", serif' font-size="12.00" text-anchor="middle" fill="#262626" stroke="#262626" stroke-width="0.22" >800</text>
<text x="357.8" y="409.0" font-family='"Liberation Serif", serif' font-size="12.00" text-anchor="middle" fill="#262626" stroke="#262626" stroke-width="0.22" >600</text>
<text x="412.5" y="409.0" font-family='"Liberation Serif", serif' font-size="12.00" text-anchor="middle" fill="#262626" stroke="#262626" stroke-width="0.22" >400</text>
<text x="467.6" y="409.0" font-family='"Liberation Serif", serif' font-size="12.00" text-anchor="middle" fill="#262626" stroke="#262626" stroke-width="0.22" >200</text>
<text x="522.8" y="409.0" font-family='"Liberation Serif", serif' font-size="12.00" text-anchor="middle" fill="#262626" stroke="#262626" stroke-width="0.22" >0</text>
<text x="296.0" y="244.2" font-family='"Liberation Serif", serif' font-size="12.00" text-anchor="middle" fill="#262626" stroke="#262626" stroke-width="0.22" >4</text>
<text x="295.2" y="282.0" font-family='"Liberation Serif", serif' font-size="12.00" text-anchor="middle" fill="#262626" stroke="#262626" stroke-width="0.22" >3</text>
<text x="295.2" y="320.0" font-family='"Liberation Serif", serif' font-size="12.00" text-anchor="middle" fill="#262626" stroke="#262626" stroke-width="0.22" >2</text>
<text x="295.4" y="360.2" font-family='"Liberation Serif", serif' font-size="12.00" text-anchor="middle" fill="#262626" stroke="#262626" stroke-width="0.22" >1</text>
<text x="298.0" y="397.6" font-family='"Liberation Serif", serif' font-size="12.00" text-anchor="middle" fill="#262626" stroke="#262626" stroke-width="0.22" >0</text>
<text x="305.3" y="235.0" font-family='"Liberation Serif", serif' font-size="12.00" text-anchor="start" fill="#262626" stroke="#262626" stroke-width="0.22" >&#215;10<tspan dy="-3.6" font-size="10.4">5</tspan></text>
<text x="341.0" y="269.8" font-family='"Liberation Sans", sans-serif' font-size="13.00" text-anchor="middle" fill="#1e1e1e" stroke="#1e1e1e" stroke-width="0.32" >(d)</text>
<text x="412.9" y="425.3" font-family='"Liberation Serif", serif' font-size="12.00" text-anchor="middle" fill="#262626" stroke="#262626" stroke-width="0.22" >binding energy (eV)</text>
<rect x="149.6" y="174.0" width="118.4" height="90.0" fill="#fff"/>
<polyline points="168.0,245.7 168.2,245.7 168.4,245.7 168.6,245.7 168.8,245.7 169.0,245.7 169.2,245.7 169.4,245.7 169.6,245.7 169.8,245.7 170.0,245.7 170.2,245.7 170.4,245.7 170.6,245.7 170.8,245.7 171.0,245.7 171.2,245.7 171.4,245.6 171.7,245.6 171.9,245.6 172.1,245.6 172.3,245.6 172.5,245.6 172.7,245.6 172.9,245.6 173.1,245.6 173.3,245.5 173.5,245.5 173.7,245.5 173.9,245.5 174.1,245.4 174.3,245.4 174.5,245.4 174.7,245.3 174.9,245.3 175.1,245.2 175.3,245.2 175.5,245.1 175.7,245.0 175.9,244.9 176.1,244.8 176.3,244.8 176.5,244.6 176.7,244.5 176.9,244.4 177.2,244.3 177.4,244.1 177.6,244.0 177.8,243.8 178.0,243.6 178.2,243.4 178.4,243.2 178.6,242.9 178.8,242.7 179.0,242.4 179.2,242.2 179.4,241.9 179.6,241.6 179.8,241.3 180.0,240.9 180.2,240.6 180.4,240.2 180.6,239.9 180.8,239.5 181.0,239.1 181.2,238.7 181.4,238.3 181.6,237.9 181.8,237.5 182.0,237.1 182.2,236.7 182.5,236.3 182.7,235.9 182.9,235.5 183.1,235.1 183.3,234.7 183.5,234.4 183.7,234.1 183.9,233.8 184.1,233.5 184.3,233.2 184.5,233.0 184.7,232.8 184.9,232.6 185.1,232.4 185.3,232.3 185.5,232.3 185.7,232.2 185.9,232.2 186.1,232.3 186.3,232.3 186.5,232.4 186.7,232.6 186.9,232.8 187.1,233.0 187.3,233.2 187.5,233.5 187.7,233.8 188.0,234.1 188.2,234.4 188.4,234.8 188.6,235.2 188.8,235.6 189.0,236.0 189.2,236.4 189.4,236.8 189.6,237.2 189.8,237.7 190.0,238.1 190.2,238.5 190.4,238.9 190.6,239.3 190.8,239.7 191.0,240.1 191.2,240.5 191.4,240.9 191.6,241.3 191.8,241.6 192.0,241.9 192.2,242.3 192.4,242.6 192.6,242.9 192.8,243.1 193.0,243.4 193.2,243.6 193.5,243.9 193.7,244.1 193.9,244.3 194.1,244.5 194.3,244.6 194.5,244.8 194.7,244.9 194.9,245.1 195.1,245.2 195.3,245.3 195.5,245.4 195.7,245.5 195.9,245.6 196.1,245.7 196.3,245.8 196.5,245.8 196.7,245.9 196.9,245.9 197.1,246.0 197.3,246.0 197.5,246.1 197.7,246.1 197.9,246.1 198.1,246.1 198.3,246.2 198.5,246.2 198.8,246.2 199.0,246.2 199.2,246.2 199.4,246.2 199.6,246.3 199.8,246.3 200.0,246.3 200.2,246.3 200.4,246.3 200.6,246.3 200.8,246.3 201.0,246.3 201.2,246.3 201.4,246.3 201.6,246.3 201.8,246.3 202.0,246.3 202.2,246.3 202.4,246.3 202.6,246.3 202.8,246.3 203.0,246.3 203.2,246.4 203.4,246.4 203.6,246.4 203.8,246.4 204.0,246.4 204.3,246.4 204.5,246.4 204.7,246.4 204.9,246.4 205.1,246.4 205.3,246.4 205.5,246.4 205.7,246.4 205.9,246.4 206.1,246.4 206.3,246.4 206.5,246.4 206.7,246.4 206.9,246.4 207.1,246.4 207.3,246.4 207.5,246.4 207.7,246.4 207.9,246.4 208.1,246.4 208.3,246.4 208.5,246.4" fill="none" stroke="#2a2a36" stroke-width="1.60" stroke-linejoin="round" stroke-linecap="round" />
<circle cx="168.0" cy="245.7" r="0.75" fill="#1a1a22" stroke="#1a1a22" stroke-width="0.20"/>
<circle cx="170.6" cy="245.7" r="0.75" fill="#1a1a22" stroke="#1a1a22" stroke-width="0.20"/>
<circle cx="173.3" cy="245.5" r="0.75" fill="#1a1a22" stroke="#1a1a22" stroke-width="0.20"/>
<circle cx="175.9" cy="244.9" r="0.75" fill="#1a1a22" stroke="#1a1a22" stroke-width="0.20"/>
<circle cx="178.2" cy="243.4" r="0.75" fill="#1a1a22" stroke="#1a1a22" stroke-width="0.20"/>
<circle cx="179.8" cy="241.3" r="0.75" fill="#1a1a22" stroke="#1a1a22" stroke-width="0.20"/>
<circle cx="181.2" cy="238.7" r="0.75" fill="#1a1a22" stroke="#1a1a22" stroke-width="0.20"/>
<circle cx="182.5" cy="236.3" r="0.75" fill="#1a1a22" stroke="#1a1a22" stroke-width="0.20"/>
<circle cx="183.9" cy="233.8" r="0.75" fill="#1a1a22" stroke="#1a1a22" stroke-width="0.20"/>
<circle cx="185.9" cy="232.2" r="0.75" fill="#1a1a22" stroke="#1a1a22" stroke-width="0.20"/>
<circle cx="188.0" cy="234.1" r="0.75" fill="#1a1a22" stroke="#1a1a22" stroke-width="0.20"/>
<circle cx="189.4" cy="236.8" r="0.75" fill="#1a1a22" stroke="#1a1a22" stroke-width="0.20"/>
<circle cx="190.6" cy="239.3" r="0.75" fill="#1a1a22" stroke="#1a1a22" stroke-width="0.20"/>
<circle cx="192.0" cy="241.9" r="0.75" fill="#1a1a22" stroke="#1a1a22" stroke-width="0.20"/>
<circle cx="193.7" cy="244.1" r="0.75" fill="#1a1a22" stroke="#1a1a22" stroke-width="0.20"/>
<circle cx="195.9" cy="245.6" r="0.75" fill="#1a1a22" stroke="#1a1a22" stroke-width="0.20"/>
<circle cx="198.5" cy="246.2" r="0.75" fill="#1a1a22" stroke="#1a1a22" stroke-width="0.20"/>
<circle cx="201.2" cy="246.3" r="0.75" fill="#1a1a22" stroke="#1a1a22" stroke-width="0.20"/>
<circle cx="203.8" cy="246.4" r="0.75" fill="#1a1a22" stroke="#1a1a22" stroke-width="0.20"/>
<circle cx="206.5" cy="246.4" r="0.75" fill="#1a1a22" stroke="#1a1a22" stroke-width="0.20"/>
<polyline points="176.1,245.5 176.4,245.5 176.7,245.5 176.9,245.5 177.2,245.4 177.5,245.4 177.8,245.4 178.1,245.3 178.4,245.2 178.6,245.2 178.9,245.1 179.2,245.0 179.5,244.9 179.8,244.7 180.1,244.5 180.4,244.3 180.6,244.1 180.9,243.8 181.2,243.5 181.5,243.1 181.8,242.6 182.1,242.1 182.3,241.6 182.6,240.9 182.9,240.2 183.2,239.4 183.5,238.5 183.8,237.6 184.0,236.5 184.3,235.4 184.6,234.2 184.9,233.0 185.2,231.7 185.5,230.3 185.7,228.9 186.0,227.5 186.3,226.1 186.6,224.7 186.9,223.4 187.2,222.1 187.5,221.0 187.7,219.9 188.0,218.9 188.3,218.1 188.6,217.4 188.9,217.0 189.2,216.7 189.4,216.6 189.7,216.7 190.0,217.0 190.3,217.5 190.6,218.2 190.9,219.1 191.1,220.0 191.4,221.2 191.7,222.4 192.0,223.7 192.3,225.0 192.6,226.4 192.8,227.9 193.1,229.3 193.4,230.7 193.7,232.1 194.0,233.4 194.3,234.7 194.6,235.9 194.8,237.0 195.1,238.1 195.4,239.0 195.7,239.9 196.0,240.8 196.3,241.5 196.5,242.1 196.8,242.7 197.1,243.2 197.4,243.7 197.7,244.1 198.0,244.4 198.2,244.7 198.5,245.0 198.8,245.2 199.1,245.3 199.4,245.5 199.7,245.6 199.9,245.7 200.2,245.8 200.5,245.9 200.8,245.9 201.1,246.0 201.4,246.0 201.7,246.1 201.9,246.1 202.2,246.1 202.5,246.1 202.8,246.2 203.1,246.2 203.4,246.2 203.6,246.2 203.9,246.2 204.2,246.2 204.5,246.2 204.8,246.2 205.1,246.3 205.3,246.3 205.6,246.3 205.9,246.3 206.2,246.3 206.5,246.3 206.8,246.3 207.0,246.3 207.3,246.3 207.6,246.3 207.9,246.3 208.2,246.3 208.5,246.3 208.8,246.3 209.0,246.3 209.3,246.3 209.6,246.3 209.9,246.3 210.2,246.3 210.5,246.3 210.7,246.3 211.0,246.3 211.3,246.3 211.6,246.3 211.9,246.4 212.2,246.4 212.4,246.4 212.7,246.4 213.0,246.4 213.3,246.4 213.6,246.4 213.9,246.4 214.1,246.4 214.4,246.4 214.7,246.4 215.0,246.4 215.3,246.4 215.6,246.4 215.8,246.4 216.1,246.4 216.4,246.4 216.7,246.4 217.0,246.4 217.3,246.4 217.6,246.4 217.8,246.4 218.1,246.4 218.4,246.4 218.7,246.4 219.0,246.4 219.3,246.4 219.5,246.4 219.8,246.4 220.1,246.4 220.4,246.4 220.7,246.4 221.0,246.4 221.2,246.4 221.5,246.4 221.8,246.4 222.1,246.4 222.4,246.4 222.7,246.4 222.9,246.5 223.2,246.5 223.5,246.5 223.8,246.5 224.1,246.5 224.4,246.5 224.7,246.5 224.9,246.5 225.2,246.6 225.5,246.6 225.8,246.6 226.1,246.6 226.4,246.7 226.6,246.7 226.9,246.7 227.2,246.7 227.5,246.8 227.8,246.8 228.1,246.8 228.3,246.9 228.6,246.9 228.9,246.9 229.2,247.0 229.5,247.0 229.8,247.0 230.0,247.1 230.3,247.1 230.6,247.1 230.9,247.2 231.2,247.2 231.5,247.2 231.8,247.2 232.0,247.2 232.3,247.3 232.6,247.3 232.9,247.3 233.2,247.3 233.5,247.3 233.7,247.3 234.0,247.3 234.3,247.3 234.6,247.4 234.9,247.4 235.2,247.4 235.4,247.4 235.7,247.4 236.0,247.4 236.3,247.4 236.6,247.4 236.9,247.4 237.1,247.4 237.4,247.4 237.7,247.4 238.0,247.4 238.3,247.4 238.6,247.4 238.9,247.4 239.1,247.4 239.4,247.4 239.7,247.4 240.0,247.4 240.3,247.4 240.6,247.4 240.8,247.4 241.1,247.4 241.4,247.4 241.7,247.4 242.0,247.4 242.3,247.4 242.5,247.4 242.8,247.4 243.1,247.4 243.4,247.4 243.7,247.4 244.0,247.4 244.2,247.4 244.5,247.4 244.8,247.4 245.1,247.4 245.4,247.4 245.7,247.4 245.9,247.4 246.2,247.4 246.5,247.4 246.8,247.4 247.1,247.4 247.4,247.4 247.7,247.4 247.9,247.4 248.2,247.4 248.5,247.4 248.8,247.4 249.1,247.4 249.4,247.4 249.6,247.4 249.9,247.4 250.2,247.4 250.5,247.4 250.8,247.4 251.1,247.4 251.3,247.4 251.6,247.4 251.9,247.4 252.2,247.4 252.5,247.4 252.8,247.4 253.0,247.4 253.3,247.4 253.6,247.4 253.9,247.4 254.2,247.4 254.5,247.4 254.8,247.4 255.0,247.4 255.3,247.4 255.6,247.4 255.9,247.4 256.2,247.4 256.5,247.4 256.7,247.4 257.0,247.4 257.3,247.4 257.6,247.4 257.9,247.4 258.2,247.4 258.4,247.4 258.7,247.4 259.0,247.4 259.3,247.4 259.6,247.4 259.9,247.4 260.1,247.4 260.4,247.4 260.7,247.4 261.0,247.4" fill="none" stroke="#3a0404" stroke-width="1.90" stroke-linejoin="round" stroke-linecap="round" />
<circle cx="176.1" cy="245.5" r="0.70" fill="#d02020" stroke="#a01010" stroke-width="0.20"/>
<circle cx="178.9" cy="245.1" r="0.70" fill="#d02020" stroke="#a01010" stroke-width="0.20"/>
<circle cx="181.2" cy="243.5" r="0.70" fill="#d02020" stroke="#a01010" stroke-width="0.20"/>
<circle cx="182.6" cy="240.9" r="0.70" fill="#d02020" stroke="#a01010" stroke-width="0.20"/>
<circle cx="183.8" cy="237.6" r="0.70" fill="#d02020" stroke="#a01010" stroke-width="0.20"/>
<circle cx="184.6" cy="234.2" r="0.70" fill="#d02020" stroke="#a01010" stroke-width="0.20"/>
<circle cx="185.2" cy="231.7" r="0.70" fill="#d02020" stroke="#a01010" stroke-width="0.20"/>
<circle cx="185.7" cy="228.9" r="0.70" fill="#d02020" stroke="#a01010" stroke-width="0.20"/>
<circle cx="186.3" cy="226.1" r="0.70" fill="#d02020" stroke="#a01010" stroke-width="0.20"/>
<circle cx="186.9" cy="223.4" r="0.70" fill="#d02020" stroke="#a01010" stroke-width="0.20"/>
<circle cx="187.7" cy="219.9" r="0.70" fill="#d02020" stroke="#a01010" stroke-width="0.20"/>
<circle cx="188.9" cy="217.0" r="0.70" fill="#d02020" stroke="#a01010" stroke-width="0.20"/>
<circle cx="190.6" cy="218.2" r="0.70" fill="#d02020" stroke="#a01010" stroke-width="0.20"/>
<circle cx="191.4" cy="221.2" r="0.70" fill="#d02020" stroke="#a01010" stroke-width="0.20"/>
<circle cx="192.3" cy="225.0" r="0.70" fill="#d02020" stroke="#a01010" stroke-width="0.20"/>
<circle cx="192.8" cy="227.9" r="0.70" fill="#d02020" stroke="#a01010" stroke-width="0.20"/>
<circle cx="193.4" cy="230.7" r="0.70" fill="#d02020" stroke="#a01010" stroke-width="0.20"/>
<circle cx="194.0" cy="233.4" r="0.70" fill="#d02020" stroke="#a01010" stroke-width="0.20"/>
<circle cx="194.8" cy="237.0" r="0.70" fill="#d02020" stroke="#a01010" stroke-width="0.20"/>
<circle cx="195.7" cy="239.9" r="0.70" fill="#d02020" stroke="#a01010" stroke-width="0.20"/>
<circle cx="196.8" cy="242.7" r="0.70" fill="#d02020" stroke="#a01010" stroke-width="0.20"/>
<circle cx="198.5" cy="245.0" r="0.70" fill="#d02020" stroke="#a01010" stroke-width="0.20"/>
<circle cx="201.1" cy="246.0" r="0.70" fill="#d02020" stroke="#a01010" stroke-width="0.20"/>
<circle cx="203.9" cy="246.2" r="0.70" fill="#d02020" stroke="#a01010" stroke-width="0.20"/>
<circle cx="206.8" cy="246.3" r="0.70" fill="#d02020" stroke="#a01010" stroke-width="0.20"/>
<circle cx="209.6" cy="246.3" r="0.70" fill="#d02020" stroke="#a01010" stroke-width="0.20"/>
<circle cx="212.4" cy="246.4" r="0.70" fill="#d02020" stroke="#a01010" stroke-width="0.20"/>
<circle cx="215.3" cy="246.4" r="0.70" fill="#d02020" stroke="#a01010" stroke-width="0.20"/>
<circle cx="218.1" cy="246.4" r="0.70" fill="#d02020" stroke="#a01010" stroke-width="0.20"/>
<circle cx="221.0" cy="246.4" r="0.70" fill="#d02020" stroke="#a01010" stroke-width="0.20"/>
<circle cx="223.8" cy="246.5" r="0.70" fill="#d02020" stroke="#a01010" stroke-width="0.20"/>
<circle cx="226.6" cy="246.7" r="0.70" fill="#d02020" stroke="#a01010" stroke-width="0.20"/>
<circle cx="229.5" cy="247.0" r="0.70" fill="#d02020" stroke="#a01010" stroke-width="0.20"/>
<circle cx="232.3" cy="247.3" r="0.70" fill="#d02020" stroke="#a01010" stroke-width="0.20"/>
<circle cx="235.2" cy="247.4" r="0.70" fill="#d02020" stroke="#a01010" stroke-width="0.20"/>
<circle cx="238.0" cy="247.4" r="0.70" fill="#d02020" stroke="#a01010" stroke-width="0.20"/>
<circle cx="240.8" cy="247.4" r="0.70" fill="#d02020" stroke="#a01010" stroke-width="0.20"/>
<circle cx="243.7" cy="247.4" r="0.70" fill="#d02020" stroke="#a01010" stroke-width="0.20"/>
<circle cx="246.5" cy="247.4" r="0.70" fill="#d02020" stroke="#a01010" stroke-width="0.20"/>
<circle cx="249.4" cy="247.4" r="0.70" fill="#d02020" stroke="#a01010" stroke-width="0.20"/>
<circle cx="252.2" cy="247.4" r="0.70" fill="#d02020" stroke="#a01010" stroke-width="0.20"/>
<circle cx="255.0" cy="247.4" r="0.70" fill="#d02020" stroke="#a01010" stroke-width="0.20"/>
<circle cx="257.9" cy="247.4" r="0.70" fill="#d02020" stroke="#a01010" stroke-width="0.20"/>
<circle cx="260.7" cy="247.4" r="0.70" fill="#d02020" stroke="#a01010" stroke-width="0.20"/>
<polyline points="165.6,245.8 166.6,245.8 167.5,245.8 168.5,245.8 169.5,245.8 170.4,245.8 171.4,245.8 172.3,245.8 173.3,245.8 174.3,245.8 175.2,245.8 176.2,245.8 177.2,245.8 178.1,245.8 179.1,245.8 180.1,245.8 181.0,245.8 182.0,245.8 182.9,245.8 183.9,245.9 184.9,245.9 185.8,245.9 186.8,246.0 187.8,246.1 188.7,246.1 189.7,246.2 190.7,246.3 191.6,246.3 192.6,246.4 193.5,246.4 194.5,246.4 195.5,246.4 196.4,246.4 197.4,246.4 198.4,246.4 199.3,246.4 200.3,246.4 201.3,246.4 202.2,246.4 203.2,246.4 204.1,246.4 205.1,246.4 206.1,246.4 207.0,246.4 208.0,246.4 209.0,246.4 209.9,246.4 210.9,246.4 211.9,246.4 212.8,246.4 213.8,246.4 214.7,246.4 215.7,246.4 216.7,246.4 217.6,246.4 218.6,246.5 219.6,246.5 220.5,246.5 221.5,246.5 222.5,246.5 223.4,246.5 224.4,246.6 225.3,246.6 226.3,246.7 227.3,246.8 228.2,246.9 229.2,247.0 230.2,247.1 231.1,247.2 232.1,247.3 233.1,247.3 234.0,247.4 235.0,247.4 235.9,247.4 236.9,247.4 237.9,247.4 238.8,247.4 239.8,247.4 240.8,247.4 241.7,247.4 242.7,247.4 243.7,247.4 244.6,247.4 245.6,247.4 246.5,247.4 247.5,247.4 248.5,247.4 249.4,247.4 250.4,247.4 251.4,247.4 252.3,247.4 253.3,247.4 254.3,247.4 255.2,247.4 256.2,247.4 257.1,247.4 258.1,247.4 259.1,247.4 260.0,247.4 261.0,247.4" fill="none" stroke="#111111" stroke-width="2.40" stroke-linejoin="round" stroke-linecap="round" />
<polyline points="165.3,244.8 165.5,244.8 165.7,244.8 165.9,244.8 166.1,244.8 166.3,244.8 166.4,244.8 166.6,244.8 166.8,244.8 167.0,244.8 167.2,244.8 167.4,244.8 167.6,244.8 167.8,244.8 168.0,244.8 168.2,244.8 168.4,244.7 168.6,244.7 168.7,244.7 168.9,244.7 169.1,244.7 169.3,244.7 169.5,244.7 169.7,244.7 169.9,244.7 170.1,244.7 170.3,244.7 170.5,244.7 170.7,244.7 170.8,244.7 171.0,244.7 171.2,244.7 171.4,244.6 171.6,244.6 171.8,244.6 172.0,244.6 172.2,244.6 172.4,244.6 172.6,244.6 172.8,244.5 172.9,244.5 173.1,244.5 173.3,244.5 173.5,244.5 173.7,244.4 173.9,244.4 174.1,244.4 174.3,244.3 174.5,244.3 174.7,244.2 174.9,244.2 175.1,244.1 175.2,244.0 175.4,244.0 175.6,243.9 175.8,243.8 176.0,243.7 176.2,243.6 176.4,243.5 176.6,243.4 176.8,243.3 177.0,243.1 177.2,243.0 177.3,242.8 177.5,242.6 177.7,242.4 177.9,242.2 178.1,242.0 178.3,241.7 178.5,241.4 178.7,241.1 178.9,240.8 179.1,240.5 179.3,240.1 179.4,239.8 179.6,239.4 179.8,238.9 180.0,238.5 180.2,238.0 180.4,237.5 180.6,236.9 180.8,236.3 181.0,235.7 181.2,235.1 181.4,234.4 181.6,233.7 181.7,233.0 181.9,232.2 182.1,231.4 182.3,230.6 182.5,229.7 182.7,228.8 182.9,227.9 183.1,227.0 183.3,226.0 183.5,225.0 183.7,224.0 183.8,222.9 184.0,221.9 184.2,220.8 184.4,219.8 184.6,218.7 184.8,217.6 185.0,216.6 185.2,215.5 185.4,214.5 185.6,213.5 185.8,212.5 185.9,211.6 186.1,210.6 186.3,209.8 186.5,209.0 186.7,208.2 186.9,207.5 187.1,206.9 187.3,206.4 187.5,205.9 187.7,205.5 187.9,205.2 188.1,205.0 188.2,204.9 188.4,204.9 188.6,204.9 188.8,205.1 189.0,205.4 189.2,205.8 189.4,206.3 189.6,206.8 189.8,207.5 190.0,208.3 190.2,209.1 190.3,210.0 190.5,211.0 190.7,212.1 190.9,213.2 191.1,214.3 191.3,215.5 191.5,216.7 191.7,218.0 191.9,219.2 192.1,220.5 192.3,221.8 192.4,223.0 192.6,224.3 192.8,225.5 193.0,226.7 193.2,227.9 193.4,229.1 193.6,230.2 193.8,231.3 194.0,232.4 194.2,233.4 194.4,234.3 194.6,235.3 194.7,236.1 194.9,236.9 195.1,237.7 195.3,238.4 195.5,239.1 195.7,239.7 195.9,240.3 196.1,240.9 196.3,241.4 196.5,241.8 196.7,242.2 196.8,242.6 197.0,243.0 197.2,243.3 197.4,243.6 197.6,243.9 197.8,244.1 198.0,244.3 198.2,244.5 198.4,244.7 198.6,244.8 198.8,244.9 198.9,245.1 199.1,245.2 199.3,245.3 199.5,245.4 199.7,245.4 199.9,245.5 200.1,245.5 200.3,245.6 200.5,245.6 200.7,245.7 200.9,245.7 201.1,245.7 201.2,245.8 201.4,245.8 201.6,245.8 201.8,245.8 202.0,245.9 202.2,245.9 202.4,245.9 202.6,245.9 202.8,245.9 203.0,245.9 203.2,245.9 203.3,245.9 203.5,245.9 203.7,245.9 203.9,245.9 204.1,245.9 204.3,246.0 204.5,246.0 204.7,246.0 204.9,246.0 205.1,246.0 205.3,246.0 205.4,246.0 205.6,246.0 205.8,246.0 206.0,246.0 206.2,246.0 206.4,246.0 206.6,246.0 206.8,246.0 207.0,246.0 207.2,246.0 207.4,246.0 207.6,246.0 207.7,246.0 207.9,246.0 208.1,246.0 208.3,246.0 208.5,246.0 208.7,246.0 208.9,246.0 209.1,246.0 209.3,246.0 209.5,246.0 209.7,246.0 209.8,246.0 210.0,245.9 210.2,245.9 210.4,245.9 210.6,245.9 210.8,245.9 211.0,245.9 211.2,245.9 211.4,245.9 211.6,245.9 211.8,245.9 211.9,245.9 212.1,245.9 212.3,245.9 212.5,245.9 212.7,245.9 212.9,245.9 213.1,245.8 213.3,245.8 213.5,245.8 213.7,245.8 213.9,245.8 214.1,245.8 214.2,245.8 214.4,245.7 214.6,245.7 214.8,245.7 215.0,245.7 215.2,245.6 215.4,245.6 215.6,245.6 215.8,245.5 216.0,245.5 216.2,245.4 216.3,245.3 216.5,245.3 216.7,245.2 216.9,245.1 217.1,245.0 217.3,244.9 217.5,244.8 217.7,244.7 217.9,244.5 218.1,244.4 218.3,244.2 218.4,244.0 218.6,243.8 218.8,243.5 219.0,243.2 219.2,243.0 219.4,242.6 219.6,242.3 219.8,241.9 220.0,241.4 220.2,241.0 220.4,240.5 220.6,239.9 220.7,239.3 220.9,238.7 221.1,238.0 221.3,237.3 221.5,236.5 221.7,235.6 221.9,234.7 222.1,233.8 222.3,232.8 222.5,231.7 222.7,230.6 222.8,229.4 223.0,228.1 223.2,226.8 223.4,225.5 223.6,224.1 223.8,222.7 224.0,221.2 224.2,219.7 224.4,218.1 224.6,216.5 224.8,214.9 224.9,213.3 225.1,211.6 225.3,209.9 225.5,208.3 225.7,206.6 225.9,205.0 226.1,203.4 226.3,201.8 226.5,200.3 226.7,198.8 226.9,197.4 227.1,196.1 227.2,194.8 227.4,193.6 227.6,192.5 227.8,191.5 228.0,190.7 228.2,189.9 228.4,189.3 228.6,188.8 228.8,188.4 229.0,188.2 229.2,188.1 229.3,188.1 229.5,188.3 229.7,188.6 229.9,189.1 230.1,189.7 230.3,190.4 230.5,191.2 230.7,192.2 230.9,193.2 231.1,194.4 231.3,195.7 231.4,197.0 231.6,198.4 231.8,199.9 232.0,201.4 232.2,203.0 232.4,204.6 232.6,206.2 232.8,207.9 233.0,209.6 233.2,211.2 233.4,212.9 233.6,214.6 233.7,216.2 233.9,217.9 234.1,219.5 234.3,221.0 234.5,222.6 234.7,224.0 234.9,225.5 235.1,226.9 235.3,228.2 235.5,229.5 235.7,230.7 235.8,231.9 236.0,233.0 236.2,234.1 236.4,235.1 236.6,236.0 236.8,236.9 237.0,237.7 237.2,238.5 237.4,239.2 237.6,239.9 237.8,240.5 237.9,241.1 238.1,241.7 238.3,242.1 238.5,242.6 238.7,243.0 238.9,243.4 239.1,243.8 239.3,244.1 239.5,244.4 239.7,244.6 239.9,244.9 240.1,245.1 240.2,245.3 240.4,245.4 240.6,245.6 240.8,245.7 241.0,245.9 241.2,246.0 241.4,246.1 241.6,246.2 241.8,246.3 242.0,246.3 242.2,246.4 242.3,246.5 242.5,246.5 242.7,246.6 242.9,246.6 243.1,246.7 243.3,246.7 243.5,246.7 243.7,246.7 243.9,246.8 244.1,246.8 244.3,246.8 244.4,246.8 244.6,246.9 244.8,246.9 245.0,246.9 245.2,246.9 245.4,246.9 245.6,246.9 245.8,246.9 246.0,247.0 246.2,247.0 246.4,247.0 246.6,247.0 246.7,247.0 246.9,247.0 247.1,247.0 247.3,247.0 247.5,247.0 247.7,247.0 247.9,247.0 248.1,247.0 248.3,247.1 248.5,247.1 248.7,247.1 248.8,247.1 249.0,247.1 249.2,247.1 249.4,247.1 249.6,247.1 249.8,247.1 250.0,247.1 250.2,247.1 250.4,247.1 250.6,247.1 250.8,247.1 250.9,247.1 251.1,247.1 251.3,247.1 251.5,247.1 251.7,247.1 251.9,247.2 252.1,247.2 252.3,247.2 252.5,247.2 252.7,247.2 252.9,247.2 253.1,247.2 253.2,247.2 253.4,247.2 253.6,247.2 253.8,247.2 254.0,247.2 254.2,247.2 254.4,247.2 254.6,247.2 254.8,247.2 255.0,247.2 255.2,247.2 255.3,247.2 255.5,247.2 255.7,247.2 255.9,247.2 256.1,247.2 256.3,247.2 256.5,247.2 256.7,247.2 256.9,247.2 257.1,247.2 257.3,247.2 257.4,247.2 257.6,247.2 257.8,247.2 258.0,247.2 258.2,247.2 258.4,247.3 258.6,247.3 258.8,247.3 259.0,247.3 259.2,247.3 259.4,247.3 259.6,247.3 259.7,247.3 259.9,247.3 260.1,247.3 260.3,247.3 260.5,247.3 260.7,247.3" fill="none" stroke="#e81010" stroke-width="1.10" stroke-linejoin="round" stroke-linecap="round" />
<polyline points="165.6,244.8 165.8,244.8 166.0,244.8 166.2,244.8 166.4,244.8 166.6,244.8 166.7,244.8 166.9,244.8 167.1,244.8 167.3,244.8 167.5,244.8 167.7,244.8 167.9,244.8 168.1,244.8 168.3,244.8 168.5,244.8 168.7,244.7 168.9,244.7 169.0,244.7 169.2,244.7 169.4,244.7 169.6,244.7 169.8,244.7 170.0,244.7 170.2,244.7 170.4,244.7 170.6,244.7 170.8,244.7 171.0,244.7 171.1,244.7 171.3,244.7 171.5,244.7 171.7,244.6 171.9,244.6 172.1,244.6 172.3,244.6 172.5,244.6 172.7,244.6 172.9,244.6 173.1,244.5 173.2,244.5 173.4,244.5 173.6,244.5 173.8,244.5 174.0,244.4 174.2,244.4 174.4,244.4 174.6,244.3 174.8,244.3 175.0,244.2 175.2,244.2 175.4,244.1 175.5,244.0 175.7,244.0 175.9,243.9 176.1,243.8 176.3,243.7 176.5,243.6 176.7,243.5 176.9,243.4 177.1,243.3 177.3,243.1 177.5,243.0 177.6,242.8 177.8,242.6 178.0,242.4 178.2,242.2 178.4,242.0 178.6,241.7 178.8,241.4 179.0,241.1 179.2,240.8 179.4,240.5 179.6,240.1 179.7,239.8 179.9,239.4 180.1,238.9 180.3,238.5 180.5,238.0 180.7,237.5 180.9,236.9 181.1,236.3 181.3,235.7 181.5,235.1 181.7,234.4 181.9,233.7 182.0,233.0 182.2,232.2 182.4,231.4 182.6,230.6 182.8,229.7 183.0,228.8 183.2,227.9 183.4,227.0 183.6,226.0 183.8,225.0 184.0,224.0 184.1,222.9 184.3,221.9 184.5,220.8 184.7,219.8 184.9,218.7 185.1,217.6 185.3,216.6 185.5,215.5 185.7,214.5 185.9,213.5 186.1,212.5 186.2,211.6 186.4,210.6 186.6,209.8 186.8,209.0 187.0,208.2 187.2,207.5 187.4,206.9 187.6,206.4 187.8,205.9 188.0,205.5 188.2,205.2 188.4,205.0 188.5,204.9 188.7,204.9 188.9,204.9 189.1,205.1 189.3,205.4 189.5,205.8 189.7,206.3 189.9,206.8 190.1,207.5 190.3,208.3 190.5,209.1 190.6,210.0 190.8,211.0 191.0,212.1 191.2,213.2 191.4,214.3 191.6,215.5 191.8,216.7 192.0,218.0 192.2,219.2 192.4,220.5 192.6,221.8 192.7,223.0 192.9,224.3 193.1,225.5 193.3,226.7 193.5,227.9 193.7,229.1 193.9,230.2 194.1,231.3 194.3,232.4 194.5,233.4 194.7,234.3 194.9,235.3 195.0,236.1 195.2,236.9 195.4,237.7 195.6,238.4 195.8,239.1 196.0,239.7 196.2,240.3 196.4,240.9 196.6,241.4 196.8,241.8 197.0,242.2 197.1,242.6 197.3,243.0 197.5,243.3 197.7,243.6 197.9,243.9 198.1,244.1 198.3,244.3 198.5,244.5 198.7,244.7 198.9,244.8 199.1,244.9 199.2,245.1 199.4,245.2 199.6,245.3 199.8,245.4 200.0,245.4 200.2,245.5 200.4,245.5 200.6,245.6 200.8,245.6 201.0,245.7 201.2,245.7 201.4,245.7 201.5,245.8 201.7,245.8 201.9,245.8 202.1,245.8 202.3,245.9 202.5,245.9 202.7,245.9 202.9,245.9 203.1,245.9 203.3,245.9 203.5,245.9 203.6,245.9 203.8,245.9 204.0,245.9 204.2,245.9 204.4,245.9 204.6,246.0 204.8,246.0 205.0,246.0 205.2,246.0 205.4,246.0 205.6,246.0 205.7,246.0 205.9,246.0 206.1,246.0 206.3,246.0 206.5,246.0 206.7,246.0 206.9,246.0 207.1,246.0 207.3,246.0 207.5,246.0 207.7,246.0 207.9,246.0 208.0,246.0 208.2,246.0 208.4,246.0 208.6,246.0 208.8,246.0 209.0,246.0 209.2,246.0 209.4,246.0 209.6,246.0 209.8,246.0 210.0,246.0 210.1,246.0 210.3,245.9 210.5,245.9 210.7,245.9 210.9,245.9 211.1,245.9 211.3,245.9 211.5,245.9 211.7,245.9 211.9,245.9 212.1,245.9 212.2,245.9 212.4,245.9 212.6,245.9 212.8,245.9 213.0,245.9 213.2,245.9 213.4,245.8 213.6,245.8 213.8,245.8 214.0,245.8 214.2,245.8 214.4,245.8 214.5,245.8 214.7,245.7 214.9,245.7 215.1,245.7 215.3,245.7 215.5,245.6 215.7,245.6 215.9,245.6 216.1,245.5 216.3,245.5 216.5,245.4 216.6,245.3 216.8,245.3 217.0,245.2 217.2,245.1 217.4,245.0 217.6,244.9 217.8,244.8 218.0,244.7 218.2,244.5 218.4,244.4 218.6,244.2 218.7,244.0 218.9,243.8 219.1,243.5 219.3,243.2 219.5,243.0 219.7,242.6 219.9,242.3 220.1,241.9 220.3,241.4 220.5,241.0 220.7,240.5 220.9,239.9 221.0,239.3 221.2,238.7 221.4,238.0 221.6,237.3 221.8,236.5 222.0,235.6 222.2,234.7 222.4,233.8 222.6,232.8 222.8,231.7 223.0,230.6 223.1,229.4 223.3,228.1 223.5,226.8 223.7,225.5 223.9,224.1 224.1,222.7 224.3,221.2 224.5,219.7 224.7,218.1 224.9,216.5 225.1,214.9 225.2,213.3 225.4,211.6 225.6,209.9 225.8,208.3 226.0,206.6 226.2,205.0 226.4,203.4 226.6,201.8 226.8,200.3 227.0,198.8 227.2,197.4 227.4,196.1 227.5,194.8 227.7,193.6 227.9,192.5 228.1,191.5 228.3,190.7 228.5,189.9 228.7,189.3 228.9,188.8 229.1,188.4 229.3,188.2 229.5,188.1 229.6,188.1 229.8,188.3 230.0,188.6 230.2,189.1 230.4,189.7 230.6,190.4 230.8,191.2 231.0,192.2 231.2,193.2 231.4,194.4 231.6,195.7 231.7,197.0 231.9,198.4 232.1,199.9 232.3,201.4 232.5,203.0 232.7,204.6 232.9,206.2 233.1,207.9 233.3,209.6 233.5,211.2 233.7,212.9 233.9,214.6 234.0,216.2 234.2,217.9 234.4,219.5 234.6,221.0 234.8,222.6 235.0,224.0 235.2,225.5 235.4,226.9 235.6,228.2 235.8,229.5 236.0,230.7 236.1,231.9 236.3,233.0 236.5,234.1 236.7,235.1 236.9,236.0 237.1,236.9 237.3,237.7 237.5,238.5 237.7,239.2 237.9,239.9 238.1,240.5 238.2,241.1 238.4,241.7 238.6,242.1 238.8,242.6 239.0,243.0 239.2,243.4 239.4,243.8 239.6,244.1 239.8,244.4 240.0,244.6 240.2,244.9 240.4,245.1 240.5,245.3 240.7,245.4 240.9,245.6 241.1,245.7 241.3,245.9 241.5,246.0 241.7,246.1 241.9,246.2 242.1,246.3 242.3,246.3 242.5,246.4 242.6,246.5 242.8,246.5 243.0,246.6 243.2,246.6 243.4,246.7 243.6,246.7 243.8,246.7 244.0,246.7 244.2,246.8 244.4,246.8 244.6,246.8 244.7,246.8 244.9,246.9 245.1,246.9 245.3,246.9 245.5,246.9 245.7,246.9 245.9,246.9 246.1,246.9 246.3,247.0 246.5,247.0 246.7,247.0 246.9,247.0 247.0,247.0 247.2,247.0 247.4,247.0 247.6,247.0 247.8,247.0 248.0,247.0 248.2,247.0 248.4,247.0 248.6,247.1 248.8,247.1 249.0,247.1 249.1,247.1 249.3,247.1 249.5,247.1 249.7,247.1 249.9,247.1 250.1,247.1 250.3,247.1 250.5,247.1 250.7,247.1 250.9,247.1 251.1,247.1 251.2,247.1 251.4,247.1 251.6,247.1 251.8,247.1 252.0,247.1 252.2,247.2 252.4,247.2 252.6,247.2 252.8,247.2 253.0,247.2 253.2,247.2 253.4,247.2 253.5,247.2 253.7,247.2 253.9,247.2 254.1,247.2 254.3,247.2 254.5,247.2 254.7,247.2 254.9,247.2 255.1,247.2 255.3,247.2 255.5,247.2 255.6,247.2 255.8,247.2 256.0,247.2 256.2,247.2 256.4,247.2 256.6,247.2 256.8,247.2 257.0,247.2 257.2,247.2 257.4,247.2 257.6,247.2 257.7,247.2 257.9,247.2 258.1,247.2 258.3,247.2 258.5,247.2 258.7,247.3 258.9,247.3 259.1,247.3 259.3,247.3 259.5,247.3 259.7,247.3 259.9,247.3 260.0,247.3 260.2,247.3 260.4,247.3 260.6,247.3 260.8,247.3 261.0,247.3" fill="none" stroke="#1414f0" stroke-width="1.30" stroke-linejoin="round" stroke-linecap="round" />
<circle cx="210.9" cy="246.1" r="0.95" fill="#2a1a3c" stroke="#1a0a20" stroke-width="0.30"/>
<circle cx="213.6" cy="246.0" r="0.95" fill="#2a1a3c" stroke="#1a0a20" stroke-width="0.30"/>
<circle cx="216.2" cy="245.6" r="0.95" fill="#2a1a3c" stroke="#1a0a20" stroke-width="0.30"/>
<circle cx="218.5" cy="244.3" r="0.95" fill="#2a1a3c" stroke="#1a0a20" stroke-width="0.30"/>
<circle cx="220.0" cy="242.1" r="0.95" fill="#2a1a3c" stroke="#1a0a20" stroke-width="0.30"/>
<circle cx="220.9" cy="239.7" r="0.95" fill="#2a1a3c" stroke="#1a0a20" stroke-width="0.30"/>
<circle cx="221.8" cy="236.7" r="0.95" fill="#2a1a3c" stroke="#1a0a20" stroke-width="0.30"/>
<circle cx="222.4" cy="233.5" r="0.95" fill="#2a1a3c" stroke="#1a0a20" stroke-width="0.30"/>
<circle cx="223.0" cy="230.5" r="0.95" fill="#2a1a3c" stroke="#1a0a20" stroke-width="0.30"/>
<circle cx="223.4" cy="227.9" r="0.95" fill="#2a1a3c" stroke="#1a0a20" stroke-width="0.30"/>
<circle cx="223.8" cy="225.0" r="0.95" fill="#2a1a3c" stroke="#1a0a20" stroke-width="0.30"/>
<circle cx="224.2" cy="221.9" r="0.95" fill="#2a1a3c" stroke="#1a0a20" stroke-width="0.30"/>
<circle cx="224.6" cy="218.7" r="0.95" fill="#2a1a3c" stroke="#1a0a20" stroke-width="0.30"/>
<circle cx="225.0" cy="215.3" r="0.95" fill="#2a1a3c" stroke="#1a0a20" stroke-width="0.30"/>
<circle cx="225.4" cy="211.8" r="0.95" fill="#2a1a3c" stroke="#1a0a20" stroke-width="0.30"/>
<circle cx="225.8" cy="208.3" r="0.95" fill="#2a1a3c" stroke="#1a0a20" stroke-width="0.30"/>
<circle cx="226.2" cy="204.8" r="0.95" fill="#2a1a3c" stroke="#1a0a20" stroke-width="0.30"/>
<circle cx="226.6" cy="201.4" r="0.95" fill="#2a1a3c" stroke="#1a0a20" stroke-width="0.30"/>
<circle cx="227.1" cy="198.3" r="0.95" fill="#2a1a3c" stroke="#1a0a20" stroke-width="0.30"/>
<circle cx="227.5" cy="195.4" r="0.95" fill="#2a1a3c" stroke="#1a0a20" stroke-width="0.30"/>
<circle cx="228.0" cy="192.2" r="0.95" fill="#2a1a3c" stroke="#1a0a20" stroke-width="0.30"/>
<circle cx="228.7" cy="189.4" r="0.95" fill="#2a1a3c" stroke="#1a0a20" stroke-width="0.30"/>
<circle cx="230.2" cy="189.0" r="0.95" fill="#2a1a3c" stroke="#1a0a20" stroke-width="0.30"/>
<circle cx="230.8" cy="191.5" r="0.95" fill="#2a1a3c" stroke="#1a0a20" stroke-width="0.30"/>
<circle cx="231.4" cy="194.6" r="0.95" fill="#2a1a3c" stroke="#1a0a20" stroke-width="0.30"/>
<circle cx="231.8" cy="197.4" r="0.95" fill="#2a1a3c" stroke="#1a0a20" stroke-width="0.30"/>
<circle cx="232.2" cy="200.5" r="0.95" fill="#2a1a3c" stroke="#1a0a20" stroke-width="0.30"/>
<circle cx="232.6" cy="203.8" r="0.95" fill="#2a1a3c" stroke="#1a0a20" stroke-width="0.30"/>
<circle cx="233.0" cy="207.3" r="0.95" fill="#2a1a3c" stroke="#1a0a20" stroke-width="0.30"/>
<circle cx="233.4" cy="210.9" r="0.95" fill="#2a1a3c" stroke="#1a0a20" stroke-width="0.30"/>
<circle cx="233.8" cy="214.5" r="0.95" fill="#2a1a3c" stroke="#1a0a20" stroke-width="0.30"/>
<circle cx="234.2" cy="217.9" r="0.95" fill="#2a1a3c" stroke="#1a0a20" stroke-width="0.30"/>
<circle cx="234.6" cy="221.3" r="0.95" fill="#2a1a3c" stroke="#1a0a20" stroke-width="0.30"/>
<circle cx="235.1" cy="224.5" r="0.95" fill="#2a1a3c" stroke="#1a0a20" stroke-width="0.30"/>
<circle cx="235.5" cy="227.5" r="0.95" fill="#2a1a3c" stroke="#1a0a20" stroke-width="0.30"/>
<circle cx="235.9" cy="230.2" r="0.95" fill="#2a1a3c" stroke="#1a0a20" stroke-width="0.30"/>
<circle cx="236.4" cy="233.4" r="0.95" fill="#2a1a3c" stroke="#1a0a20" stroke-width="0.30"/>
<circle cx="237.0" cy="236.2" r="0.95" fill="#2a1a3c" stroke="#1a0a20" stroke-width="0.30"/>
<circle cx="237.6" cy="239.1" r="0.95" fill="#2a1a3c" stroke="#1a0a20" stroke-width="0.30"/>
<circle cx="238.4" cy="241.7" r="0.95" fill="#2a1a3c" stroke="#1a0a20" stroke-width="0.30"/>
<circle cx="239.7" cy="244.2" r="0.95" fill="#2a1a3c" stroke="#1a0a20" stroke-width="0.30"/>
<circle cx="241.6" cy="246.1" r="0.95" fill="#2a1a3c" stroke="#1a0a20" stroke-width="0.30"/>
<circle cx="244.1" cy="246.8" r="0.95" fill="#2a1a3c" stroke="#1a0a20" stroke-width="0.30"/>
<circle cx="246.8" cy="247.0" r="0.95" fill="#2a1a3c" stroke="#1a0a20" stroke-width="0.30"/>
<circle cx="249.6" cy="247.1" r="0.95" fill="#2a1a3c" stroke="#1a0a20" stroke-width="0.30"/>
<rect x="165.6" y="181.6" width="95.4" height="67.7" fill="none" stroke="#262626" stroke-width="1.10"/>
<line x1="189.4" y1="249.3" x2="189.4" y2="247.7" stroke="#262626" stroke-width="0.90"/>
<line x1="189.4" y1="181.6" x2="189.4" y2="183.2" stroke="#262626" stroke-width="0.90"/>
<line x1="213.3" y1="249.3" x2="213.3" y2="247.7" stroke="#262626" stroke-width="0.90"/>
<line x1="213.3" y1="181.6" x2="213.3" y2="183.2" stroke="#262626" stroke-width="0.90"/>
<line x1="237.1" y1="249.3" x2="237.1" y2="247.7" stroke="#262626" stroke-width="0.90"/>
<line x1="237.1" y1="181.6" x2="237.1" y2="183.2" stroke="#262626" stroke-width="0.90"/>
<line x1="165.6" y1="222.4" x2="167.2" y2="222.4" stroke="#262626" stroke-width="0.90"/>
<line x1="261.0" y1="222.4" x2="259.4" y2="222.4" stroke="#262626" stroke-width="0.90"/>
<line x1="165.6" y1="195.5" x2="167.2" y2="195.5" stroke="#262626" stroke-width="0.90"/>
<line x1="261.0" y1="195.5" x2="259.4" y2="195.5" stroke="#262626" stroke-width="0.90"/>
<text x="189.0" y="261.4" font-family='"Liberation Serif", serif' font-size="11.20" text-anchor="middle" fill="#262626" stroke="#262626" stroke-width="0.22" >495</text>
<text x="213.1" y="261.4" font-family='"Liberation Serif", serif' font-size="11.20" text-anchor="middle" fill="#262626" stroke="#262626" stroke-width="0.22" >490</text>
<text x="237.7" y="261.4" font-family='"Liberation Serif", serif' font-size="11.20" text-anchor="middle" fill="#262626" stroke="#262626" stroke-width="0.22" >485</text>
<text x="159.8" y="199.5" font-family='"Liberation Serif", serif' font-size="11.40" text-anchor="middle" fill="#262626" stroke="#262626" stroke-width="0.22" >3</text>
<text x="159.8" y="227.3" font-family='"Liberation Serif", serif' font-size="11.40" text-anchor="middle" fill="#262626" stroke="#262626" stroke-width="0.22" >2</text>
<text x="159.8" y="253.0" font-family='"Liberation Serif", serif' font-size="11.40" text-anchor="middle" fill="#262626" stroke="#262626" stroke-width="0.22" >1</text>
<text x="170.7" y="196.6" font-family='"Liberation Serif", serif' font-size="11.80" text-anchor="start" fill="#262626" stroke="#262626" stroke-width="0.22" >Sn 3d</text>
<rect x="149.6" y="264.0" width="118.4" height="97.2" fill="#fff"/>
<polyline points="169.3,336.0 171.2,336.1 173.1,336.2 175.0,336.3 176.9,336.4 178.7,336.5 180.6,336.6 182.5,336.7 184.4,336.9 186.3,337.0 188.2,337.1 190.1,337.2 192.0,337.3 193.8,337.4 195.7,337.5 197.6,337.6 199.5,337.8 201.4,337.9 203.3,338.0 205.2,338.1 207.1,338.2 208.9,338.3 210.8,338.4 212.7,338.5 214.6,338.7 216.5,338.8 218.4,338.9 220.3,339.0 222.2,339.1 224.0,339.2 225.9,339.3 227.8,339.4 229.7,339.6 231.6,339.7 233.5,339.8 235.4,339.9 237.3,340.0 239.1,340.1 241.0,340.2 242.9,340.3 244.8,340.5 246.7,340.6 248.6,340.7 250.5,340.8 252.4,340.9 254.2,341.0 256.1,341.1 258.0,341.2 259.9,341.4 261.8,341.5" fill="none" stroke="#111111" stroke-width="2.30" stroke-linejoin="round" stroke-linecap="round" />
<polyline points="210.9,338.3 211.1,338.3 211.2,338.3 211.4,338.3 211.5,338.3 211.7,338.3 211.8,338.3 212.0,338.4 212.1,338.4 212.2,338.4 212.4,338.4 212.5,338.4 212.7,338.4 212.8,338.4 213.0,338.4 213.1,338.4 213.3,338.4 213.4,338.4 213.6,338.4 213.7,338.4 213.9,338.4 214.0,338.4 214.2,338.4 214.3,338.5 214.5,338.5 214.6,338.5 214.7,338.5 214.9,338.5 215.0,338.5 215.2,338.5 215.3,338.5 215.5,338.5 215.6,338.5 215.8,338.5 215.9,338.5 216.1,338.5 216.2,338.5 216.4,338.5 216.5,338.5 216.7,338.5 216.8,338.5 216.9,338.5 217.1,338.5 217.2,338.5 217.4,338.5 217.5,338.5 217.7,338.6 217.8,338.6 218.0,338.6 218.1,338.6 218.3,338.6 218.4,338.6 218.6,338.6 218.7,338.6 218.9,338.6 219.0,338.5 219.2,338.5 219.3,338.5 219.4,338.5 219.6,338.5 219.7,338.5 219.9,338.5 220.0,338.5 220.2,338.5 220.3,338.5 220.5,338.4 220.6,338.4 220.8,338.4 220.9,338.4 221.1,338.3 221.2,338.3 221.4,338.2 221.5,338.2 221.7,338.1 221.8,338.1 221.9,338.0 222.1,337.9 222.2,337.8 222.4,337.7 222.5,337.6 222.7,337.5 222.8,337.4 223.0,337.2 223.1,337.0 223.3,336.9 223.4,336.7 223.6,336.5 223.7,336.2 223.9,336.0 224.0,335.7 224.2,335.4 224.3,335.1 224.4,334.7 224.6,334.4 224.7,334.0 224.9,333.5 225.0,333.1 225.2,332.6 225.3,332.1 225.5,331.5 225.6,331.0 225.8,330.3 225.9,329.7 226.1,329.0 226.2,328.3 226.4,327.6 226.5,326.8 226.6,326.0 226.8,325.2 226.9,324.4 227.1,323.5 227.2,322.6 227.4,321.7 227.5,320.7 227.7,319.8 227.8,318.8 228.0,317.8 228.1,316.8 228.3,315.9 228.4,314.9 228.6,313.9 228.7,312.9 228.9,311.9 229.0,311.0 229.1,310.0 229.3,309.1 229.4,308.3 229.6,307.4 229.7,306.6 229.9,305.9 230.0,305.2 230.2,304.5 230.3,303.9 230.5,303.4 230.6,302.9 230.8,302.5 230.9,302.2 231.1,301.9 231.2,301.7 231.4,301.6 231.5,301.6 231.6,301.6 231.8,301.7 231.9,301.9 232.1,302.2 232.2,302.5 232.4,302.9 232.5,303.4 232.7,304.0 232.8,304.6 233.0,305.3 233.1,306.0 233.3,306.7 233.4,307.6 233.6,308.4 233.7,309.3 233.8,310.2 234.0,311.2 234.1,312.1 234.3,313.1 234.4,314.1 234.6,315.1 234.7,316.1 234.9,317.1 235.0,318.1 235.2,319.1 235.3,320.1 235.5,321.1 235.6,322.1 235.8,323.0 235.9,323.9 236.1,324.8 236.2,325.7 236.3,326.5 236.5,327.3 236.6,328.1 236.8,328.9 236.9,329.6 237.1,330.3 237.2,331.0 237.4,331.6 237.5,332.2 237.7,332.8 237.8,333.3 238.0,333.8 238.1,334.3 238.3,334.7 238.4,335.1 238.6,335.5 238.7,335.9 238.8,336.2 239.0,336.6 239.1,336.8 239.3,337.1 239.4,337.4 239.6,337.6 239.7,337.8 239.9,338.0 240.0,338.2 240.2,338.4 240.3,338.5 240.5,338.7 240.6,338.8 240.8,338.9 240.9,339.0 241.0,339.1 241.2,339.2 241.3,339.3 241.5,339.4 241.6,339.4 241.8,339.5 241.9,339.6 242.1,339.6 242.2,339.7 242.4,339.7 242.5,339.8 242.7,339.8 242.8,339.8 243.0,339.9 243.1,339.9 243.3,339.9 243.4,339.9 243.5,340.0 243.7,340.0 243.8,340.0 244.0,340.0 244.1,340.1 244.3,340.1 244.4,340.1 244.6,340.1 244.7,340.1 244.9,340.2 245.0,340.2 245.2,340.2 245.3,340.2 245.5,340.2 245.6,340.2 245.8,340.2 245.9,340.3 246.0,340.3 246.2,340.3 246.3,340.3 246.5,340.3 246.6,340.3 246.8,340.3 246.9,340.4 247.1,340.4 247.2,340.4 247.4,340.4 247.5,340.4 247.7,340.4 247.8,340.4 248.0,340.4 248.1,340.5 248.2,340.5 248.4,340.5 248.5,340.5 248.7,340.5 248.8,340.5 249.0,340.5 249.1,340.5 249.3,340.6 249.4,340.6 249.6,340.6 249.7,340.6 249.9,340.6 250.0,340.6 250.2,340.6 250.3,340.6 250.5,340.6 250.6,340.7 250.7,340.7 250.9,340.7 251.0,340.7 251.2,340.7 251.3,340.7 251.5,340.7 251.6,340.7 251.8,340.7 251.9,340.7 252.1,340.8 252.2,340.8 252.4,340.8 252.5,340.8 252.7,340.8 252.8,340.8 253.0,340.8 253.1,340.8 253.2,340.8 253.4,340.9 253.5,340.9 253.7,340.9 253.8,340.9 254.0,340.9 254.1,340.9 254.3,340.9 254.4,340.9 254.6,340.9 254.7,340.9 254.9,341.0" fill="none" stroke="#2a2a36" stroke-width="1.50" stroke-linejoin="round" stroke-linecap="round" />
<circle cx="210.9" cy="338.3" r="0.70" fill="#1a1a22" stroke="#1a1a22" stroke-width="0.20"/>
<circle cx="213.6" cy="338.4" r="0.70" fill="#1a1a22" stroke="#1a1a22" stroke-width="0.20"/>
<circle cx="216.2" cy="338.5" r="0.70" fill="#1a1a22" stroke="#1a1a22" stroke-width="0.20"/>
<circle cx="218.9" cy="338.6" r="0.70" fill="#1a1a22" stroke="#1a1a22" stroke-width="0.20"/>
<circle cx="221.5" cy="338.2" r="0.70" fill="#1a1a22" stroke="#1a1a22" stroke-width="0.20"/>
<circle cx="223.6" cy="336.5" r="0.70" fill="#1a1a22" stroke="#1a1a22" stroke-width="0.20"/>
<circle cx="224.7" cy="334.0" r="0.70" fill="#1a1a22" stroke="#1a1a22" stroke-width="0.20"/>
<circle cx="225.6" cy="331.0" r="0.70" fill="#1a1a22" stroke="#1a1a22" stroke-width="0.20"/>
<circle cx="226.2" cy="328.3" r="0.70" fill="#1a1a22" stroke="#1a1a22" stroke-width="0.20"/>
<circle cx="226.8" cy="325.2" r="0.70" fill="#1a1a22" stroke="#1a1a22" stroke-width="0.20"/>
<circle cx="227.2" cy="322.6" r="0.70" fill="#1a1a22" stroke="#1a1a22" stroke-width="0.20"/>
<circle cx="227.7" cy="319.8" r="0.70" fill="#1a1a22" stroke="#1a1a22" stroke-width="0.20"/>
<circle cx="228.1" cy="316.8" r="0.70" fill="#1a1a22" stroke="#1a1a22" stroke-width="0.20"/>
<circle cx="228.6" cy="313.9" r="0.70" fill="#1a1a22" stroke="#1a1a22" stroke-width="0.20"/>
<circle cx="229.0" cy="311.0" r="0.70" fill="#1a1a22" stroke="#1a1a22" stroke-width="0.20"/>
<circle cx="229.4" cy="308.3" r="0.70" fill="#1a1a22" stroke="#1a1a22" stroke-width="0.20"/>
<circle cx="230.0" cy="305.2" r="0.70" fill="#1a1a22" stroke="#1a1a22" stroke-width="0.20"/>
<circle cx="230.8" cy="302.5" r="0.70" fill="#1a1a22" stroke="#1a1a22" stroke-width="0.20"/>
<circle cx="232.4" cy="302.9" r="0.70" fill="#1a1a22" stroke="#1a1a22" stroke-width="0.20"/>
<circle cx="233.1" cy="306.0" r="0.70" fill="#1a1a22" stroke="#1a1a22" stroke-width="0.20"/>
<circle cx="233.7" cy="309.3" r="0.70" fill="#1a1a22" stroke="#1a1a22" stroke-width="0.20"/>
<circle cx="234.1" cy="312.1" r="0.70" fill="#1a1a22" stroke="#1a1a22" stroke-width="0.20"/>
<circle cx="234.6" cy="315.1" r="0.70" fill="#1a1a22" stroke="#1a1a22" stroke-width="0.20"/>
<circle cx="235.0" cy="318.1" r="0.70" fill="#1a1a22" stroke="#1a1a22" stroke-width="0.20"/>
<circle cx="235.5" cy="321.1" r="0.70" fill="#1a1a22" stroke="#1a1a22" stroke-width="0.20"/>
<circle cx="235.9" cy="323.9" r="0.70" fill="#1a1a22" stroke="#1a1a22" stroke-width="0.20"/>
<circle cx="236.3" cy="326.5" r="0.70" fill="#1a1a22" stroke="#1a1a22" stroke-width="0.20"/>
<circle cx="236.9" cy="329.6" r="0.70" fill="#1a1a22" stroke="#1a1a22" stroke-width="0.20"/>
<circle cx="237.5" cy="332.2" r="0.70" fill="#1a1a22" stroke="#1a1a22" stroke-width="0.20"/>
<circle cx="238.3" cy="334.7" r="0.70" fill="#1a1a22" stroke="#1a1a22" stroke-width="0.20"/>
<circle cx="239.3" cy="337.1" r="0.70" fill="#1a1a22" stroke="#1a1a22" stroke-width="0.20"/>
<circle cx="241.0" cy="339.1" r="0.70" fill="#1a1a22" stroke="#1a1a22" stroke-width="0.20"/>
<circle cx="243.5" cy="340.0" r="0.70" fill="#1a1a22" stroke="#1a1a22" stroke-width="0.20"/>
<circle cx="246.2" cy="340.3" r="0.70" fill="#1a1a22" stroke="#1a1a22" stroke-width="0.20"/>
<circle cx="248.8" cy="340.5" r="0.70" fill="#1a1a22" stroke="#1a1a22" stroke-width="0.20"/>
<circle cx="251.5" cy="340.7" r="0.70" fill="#1a1a22" stroke="#1a1a22" stroke-width="0.20"/>
<circle cx="254.1" cy="340.9" r="0.70" fill="#1a1a22" stroke="#1a1a22" stroke-width="0.20"/>
<circle cx="222.5" cy="339.1" r="1.00" fill="#68b08c" stroke="#1f4f36" stroke-width="0.45"/>
<circle cx="222.9" cy="339.1" r="1.00" fill="#68b08c" stroke="#1f4f36" stroke-width="0.45"/>
<circle cx="223.3" cy="339.1" r="1.00" fill="#68b08c" stroke="#1f4f36" stroke-width="0.45"/>
<circle cx="223.7" cy="339.1" r="1.00" fill="#68b08c" stroke="#1f4f36" stroke-width="0.45"/>
<circle cx="224.2" cy="339.1" r="1.00" fill="#68b08c" stroke="#1f4f36" stroke-width="0.45"/>
<circle cx="224.6" cy="339.2" r="1.00" fill="#68b08c" stroke="#1f4f36" stroke-width="0.45"/>
<circle cx="225.0" cy="339.2" r="1.00" fill="#68b08c" stroke="#1f4f36" stroke-width="0.45"/>
<circle cx="225.4" cy="339.2" r="1.00" fill="#68b08c" stroke="#1f4f36" stroke-width="0.45"/>
<circle cx="225.8" cy="339.2" r="1.00" fill="#68b08c" stroke="#1f4f36" stroke-width="0.45"/>
<circle cx="226.2" cy="339.1" r="1.00" fill="#68b08c" stroke="#1f4f36" stroke-width="0.45"/>
<circle cx="226.6" cy="339.1" r="1.00" fill="#68b08c" stroke="#1f4f36" stroke-width="0.45"/>
<circle cx="227.1" cy="339.0" r="1.00" fill="#68b08c" stroke="#1f4f36" stroke-width="0.45"/>
<circle cx="227.5" cy="338.8" r="1.00" fill="#68b08c" stroke="#1f4f36" stroke-width="0.45"/>
<circle cx="227.9" cy="338.5" r="1.00" fill="#68b08c" stroke="#1f4f36" stroke-width="0.45"/>
<circle cx="228.3" cy="338.1" r="1.00" fill="#68b08c" stroke="#1f4f36" stroke-width="0.45"/>
<circle cx="228.7" cy="337.5" r="1.00" fill="#68b08c" stroke="#1f4f36" stroke-width="0.45"/>
<circle cx="229.1" cy="336.7" r="1.00" fill="#68b08c" stroke="#1f4f36" stroke-width="0.45"/>
<circle cx="229.6" cy="335.6" r="1.00" fill="#68b08c" stroke="#1f4f36" stroke-width="0.45"/>
<circle cx="230.0" cy="334.1" r="1.00" fill="#68b08c" stroke="#1f4f36" stroke-width="0.45"/>
<circle cx="230.4" cy="332.3" r="1.00" fill="#68b08c" stroke="#1f4f36" stroke-width="0.45"/>
<circle cx="230.8" cy="330.1" r="1.00" fill="#68b08c" stroke="#1f4f36" stroke-width="0.45"/>
<circle cx="231.2" cy="327.7" r="1.00" fill="#68b08c" stroke="#1f4f36" stroke-width="0.45"/>
<circle cx="231.6" cy="325.0" r="1.00" fill="#68b08c" stroke="#1f4f36" stroke-width="0.45"/>
<circle cx="232.1" cy="322.3" r="1.00" fill="#68b08c" stroke="#1f4f36" stroke-width="0.45"/>
<circle cx="232.5" cy="319.8" r="1.00" fill="#68b08c" stroke="#1f4f36" stroke-width="0.45"/>
<circle cx="232.9" cy="317.5" r="1.00" fill="#68b08c" stroke="#1f4f36" stroke-width="0.45"/>
<circle cx="233.3" cy="315.8" r="1.00" fill="#68b08c" stroke="#1f4f36" stroke-width="0.45"/>
<circle cx="233.7" cy="314.8" r="1.00" fill="#68b08c" stroke="#1f4f36" stroke-width="0.45"/>
<circle cx="234.1" cy="314.6" r="1.00" fill="#68b08c" stroke="#1f4f36" stroke-width="0.45"/>
<circle cx="234.6" cy="315.2" r="1.00" fill="#68b08c" stroke="#1f4f36" stroke-width="0.45"/>
<circle cx="235.0" cy="316.6" r="1.00" fill="#68b08c" stroke="#1f4f36" stroke-width="0.45"/>
<circle cx="235.4" cy="318.6" r="1.00" fill="#68b08c" stroke="#1f4f36" stroke-width="0.45"/>
<circle cx="235.8" cy="321.1" r="1.00" fill="#68b08c" stroke="#1f4f36" stroke-width="0.45"/>
<circle cx="236.2" cy="323.8" r="1.00" fill="#68b08c" stroke="#1f4f36" stroke-width="0.45"/>
<circle cx="236.6" cy="326.5" r="1.00" fill="#68b08c" stroke="#1f4f36" stroke-width="0.45"/>
<circle cx="237.1" cy="329.1" r="1.00" fill="#68b08c" stroke="#1f4f36" stroke-width="0.45"/>
<circle cx="237.5" cy="331.5" r="1.00" fill="#68b08c" stroke="#1f4f36" stroke-width="0.45"/>
<circle cx="237.9" cy="333.6" r="1.00" fill="#68b08c" stroke="#1f4f36" stroke-width="0.45"/>
<circle cx="238.3" cy="335.3" r="1.00" fill="#68b08c" stroke="#1f4f36" stroke-width="0.45"/>
<circle cx="238.7" cy="336.7" r="1.00" fill="#68b08c" stroke="#1f4f36" stroke-width="0.45"/>
<circle cx="239.1" cy="337.7" r="1.00" fill="#68b08c" stroke="#1f4f36" stroke-width="0.45"/>
<circle cx="239.6" cy="338.5" r="1.00" fill="#68b08c" stroke="#1f4f36" stroke-width="0.45"/>
<circle cx="240.0" cy="339.0" r="1.00" fill="#68b08c" stroke="#1f4f36" stroke-width="0.45"/>
<circle cx="240.4" cy="339.4" r="1.00" fill="#68b08c" stroke="#1f4f36" stroke-width="0.45"/>
<circle cx="240.8" cy="339.7" r="1.00" fill="#68b08c" stroke="#1f4f36" stroke-width="0.45"/>
<circle cx="241.2" cy="339.9" r="1.00" fill="#68b08c" stroke="#1f4f36" stroke-width="0.45"/>
<circle cx="241.6" cy="340.0" r="1.00" fill="#68b08c" stroke="#1f4f36" stroke-width="0.45"/>
<circle cx="242.1" cy="340.1" r="1.00" fill="#68b08c" stroke="#1f4f36" stroke-width="0.45"/>
<circle cx="242.5" cy="340.2" r="1.00" fill="#68b08c" stroke="#1f4f36" stroke-width="0.45"/>
<circle cx="242.9" cy="340.2" r="1.00" fill="#68b08c" stroke="#1f4f36" stroke-width="0.45"/>
<circle cx="243.3" cy="340.3" r="1.00" fill="#68b08c" stroke="#1f4f36" stroke-width="0.45"/>
<circle cx="243.7" cy="340.3" r="1.00" fill="#68b08c" stroke="#1f4f36" stroke-width="0.45"/>
<circle cx="244.1" cy="340.3" r="1.00" fill="#68b08c" stroke="#1f4f36" stroke-width="0.45"/>
<circle cx="244.5" cy="340.4" r="1.00" fill="#68b08c" stroke="#1f4f36" stroke-width="0.45"/>
<circle cx="245.0" cy="340.4" r="1.00" fill="#68b08c" stroke="#1f4f36" stroke-width="0.45"/>
<circle cx="245.4" cy="340.4" r="1.00" fill="#68b08c" stroke="#1f4f36" stroke-width="0.45"/>
<polyline points="176.2,336.3 176.4,336.3 176.6,336.3 176.7,336.3 176.9,336.3 177.0,336.3 177.2,336.3 177.4,336.3 177.5,336.3 177.7,336.3 177.9,336.3 178.0,336.3 178.2,336.3 178.3,336.4 178.5,336.4 178.7,336.4 178.8,336.4 179.0,336.4 179.2,336.4 179.3,336.4 179.5,336.4 179.6,336.4 179.8,336.4 180.0,336.4 180.1,336.4 180.3,336.4 180.5,336.4 180.6,336.5 180.8,336.5 180.9,336.5 181.1,336.5 181.3,336.5 181.4,336.5 181.6,336.5 181.8,336.5 181.9,336.5 182.1,336.5 182.2,336.5 182.4,336.5 182.6,336.5 182.7,336.5 182.9,336.5 183.1,336.5 183.2,336.5 183.4,336.5 183.5,336.5 183.7,336.6 183.9,336.6 184.0,336.6 184.2,336.6 184.4,336.6 184.5,336.6 184.7,336.6 184.8,336.6 185.0,336.6 185.2,336.6 185.3,336.6 185.5,336.6 185.7,336.6 185.8,336.6 186.0,336.6 186.1,336.5 186.3,336.5 186.5,336.5 186.6,336.5 186.8,336.5 187.0,336.5 187.1,336.4 187.3,336.4 187.4,336.4 187.6,336.3 187.8,336.3 187.9,336.3 188.1,336.2 188.3,336.1 188.4,336.1 188.6,336.0 188.7,335.9 188.9,335.8 189.1,335.7 189.2,335.5 189.4,335.4 189.6,335.2 189.7,335.1 189.9,334.9 190.0,334.6 190.2,334.4 190.4,334.1 190.5,333.9 190.7,333.5 190.9,333.2 191.0,332.8 191.2,332.4 191.3,332.0 191.5,331.5 191.7,331.0 191.8,330.5 192.0,329.9 192.2,329.3 192.3,328.6 192.5,328.0 192.6,327.2 192.8,326.5 193.0,325.7 193.1,324.8 193.3,324.0 193.5,323.1 193.6,322.1 193.8,321.2 193.9,320.2 194.1,319.2 194.3,318.1 194.4,317.1 194.6,316.0 194.8,315.0 194.9,313.9 195.1,312.8 195.2,311.8 195.4,310.7 195.6,309.7 195.7,308.7 195.9,307.8 196.1,306.8 196.2,305.9 196.4,305.1 196.5,304.3 196.7,303.6 196.9,302.9 197.0,302.4 197.2,301.9 197.4,301.4 197.5,301.1 197.7,300.8 197.8,300.7 198.0,300.6 198.2,300.6 198.3,300.7 198.5,300.9 198.7,301.2 198.8,301.6 199.0,302.1 199.1,302.6 199.3,303.2 199.5,303.9 199.6,304.6 199.8,305.5 200.0,306.3 200.1,307.2 200.3,308.2 200.4,309.2 200.6,310.2 200.8,311.3 200.9,312.3 201.1,313.4 201.2,314.5 201.4,315.6 201.6,316.7 201.7,317.7 201.9,318.8 202.1,319.8 202.2,320.9 202.4,321.9 202.5,322.8 202.7,323.8 202.9,324.7 203.0,325.6 203.2,326.4 203.4,327.2 203.5,328.0 203.7,328.8 203.8,329.5 204.0,330.1 204.2,330.7 204.3,331.3 204.5,331.9 204.7,332.4 204.8,332.9 205.0,333.3 205.1,333.7 205.3,334.1 205.5,334.5 205.6,334.8 205.8,335.1 206.0,335.4 206.1,335.7 206.3,335.9 206.4,336.1 206.6,336.3 206.8,336.5 206.9,336.6 207.1,336.8 207.3,336.9 207.4,337.0 207.6,337.1 207.7,337.2 207.9,337.3 208.1,337.4 208.2,337.5 208.4,337.5 208.6,337.6 208.7,337.7 208.9,337.7 209.0,337.8 209.2,337.8 209.4,337.8 209.5,337.9 209.7,337.9 209.9,337.9 210.0,338.0 210.2,338.0 210.3,338.0 210.5,338.0 210.7,338.1 210.8,338.1 211.0,338.1 211.2,338.1 211.3,338.2 211.5,338.2 211.6,338.2 211.8,338.2 212.0,338.2 212.1,338.2 212.3,338.3 212.5,338.3 212.6,338.3 212.8,338.3 212.9,338.3 213.1,338.3 213.3,338.3 213.4,338.4 213.6,338.4 213.8,338.4 213.9,338.4 214.1,338.4 214.2,338.4 214.4,338.4 214.6,338.5 214.7,338.5 214.9,338.5 215.1,338.5 215.2,338.5 215.4,338.5 215.5,338.5 215.7,338.5 215.9,338.6 216.0,338.6 216.2,338.6 216.4,338.6 216.5,338.6 216.7,338.6 216.8,338.6 217.0,338.6 217.2,338.7 217.3,338.7 217.5,338.7 217.7,338.7 217.8,338.7 218.0,338.7 218.1,338.7 218.3,338.7 218.5,338.8 218.6,338.8 218.8,338.8 219.0,338.8 219.1,338.8 219.3,338.8 219.4,338.8 219.6,338.8 219.8,338.8 219.9,338.9 220.1,338.9 220.3,338.9 220.4,338.9 220.6,338.9 220.7,338.9 220.9,338.9 221.1,338.9 221.2,338.9 221.4,339.0 221.6,339.0 221.7,339.0 221.9,339.0 222.0,339.0 222.2,339.0 222.4,339.0 222.5,339.0 222.7,339.0 222.9,339.1 223.0,339.1 223.2,339.1 223.3,339.1 223.5,339.1 223.7,339.1 223.8,339.1 224.0,339.1 224.2,339.1 224.3,339.2 224.5,339.2 224.6,339.2 224.8,339.2" fill="none" stroke="#3a0404" stroke-width="1.80" stroke-linejoin="round" stroke-linecap="round" />
<circle cx="176.2" cy="336.3" r="0.70" fill="#d02020" stroke="#a01010" stroke-width="0.20"/>
<circle cx="178.8" cy="336.4" r="0.70" fill="#d02020" stroke="#a01010" stroke-width="0.20"/>
<circle cx="181.4" cy="336.5" r="0.70" fill="#d02020" stroke="#a01010" stroke-width="0.20"/>
<circle cx="184.2" cy="336.6" r="0.70" fill="#d02020" stroke="#a01010" stroke-width="0.20"/>
<circle cx="186.8" cy="336.5" r="0.70" fill="#d02020" stroke="#a01010" stroke-width="0.20"/>
<circle cx="189.2" cy="335.5" r="0.70" fill="#d02020" stroke="#a01010" stroke-width="0.20"/>
<circle cx="190.9" cy="333.2" r="0.70" fill="#d02020" stroke="#a01010" stroke-width="0.20"/>
<circle cx="191.8" cy="330.5" r="0.70" fill="#d02020" stroke="#a01010" stroke-width="0.20"/>
<circle cx="192.5" cy="328.0" r="0.70" fill="#d02020" stroke="#a01010" stroke-width="0.20"/>
<circle cx="193.1" cy="324.8" r="0.70" fill="#d02020" stroke="#a01010" stroke-width="0.20"/>
<circle cx="193.6" cy="322.1" r="0.70" fill="#d02020" stroke="#a01010" stroke-width="0.20"/>
<circle cx="194.1" cy="319.2" r="0.70" fill="#d02020" stroke="#a01010" stroke-width="0.20"/>
<circle cx="194.6" cy="316.0" r="0.70" fill="#d02020" stroke="#a01010" stroke-width="0.20"/>
<circle cx="195.1" cy="312.8" r="0.70" fill="#d02020" stroke="#a01010" stroke-width="0.20"/>
<circle cx="195.6" cy="309.7" r="0.70" fill="#d02020" stroke="#a01010" stroke-width="0.20"/>
<circle cx="196.1" cy="306.8" r="0.70" fill="#d02020" stroke="#a01010" stroke-width="0.20"/>
<circle cx="196.7" cy="303.6" r="0.70" fill="#d02020" stroke="#a01010" stroke-width="0.20"/>
<circle cx="197.5" cy="301.1" r="0.70" fill="#d02020" stroke="#a01010" stroke-width="0.20"/>
<circle cx="199.1" cy="302.6" r="0.70" fill="#d02020" stroke="#a01010" stroke-width="0.20"/>
<circle cx="199.8" cy="305.5" r="0.70" fill="#d02020" stroke="#a01010" stroke-width="0.20"/>
<circle cx="200.3" cy="308.2" r="0.70" fill="#d02020" stroke="#a01010" stroke-width="0.20"/>
<circle cx="200.8" cy="311.3" r="0.70" fill="#d02020" stroke="#a01010" stroke-width="0.20"/>
<circle cx="201.2" cy="314.5" r="0.70" fill="#d02020" stroke="#a01010" stroke-width="0.20"/>
<circle cx="201.7" cy="317.7" r="0.70" fill="#d02020" stroke="#a01010" stroke-width="0.20"/>
<circle cx="202.2" cy="320.9" r="0.70" fill="#d02020" stroke="#a01010" stroke-width="0.20"/>
<circle cx="202.7" cy="323.8" r="0.70" fill="#d02020" stroke="#a01010" stroke-width="0.20"/>
<circle cx="203.2" cy="326.4" r="0.70" fill="#d02020" stroke="#a01010" stroke-width="0.20"/>
<circle cx="203.8" cy="329.5" r="0.70" fill="#d02020" stroke="#a01010" stroke-width="0.20"/>
<circle cx="204.7" cy="332.4" r="0.70" fill="#d02020" stroke="#a01010" stroke-width="0.20"/>
<circle cx="205.6" cy="334.8" r="0.70" fill="#d02020" stroke="#a01010" stroke-width="0.20"/>
<circle cx="207.3" cy="336.9" r="0.70" fill="#d02020" stroke="#a01010" stroke-width="0.20"/>
<circle cx="209.7" cy="337.9" r="0.70" fill="#d02020" stroke="#a01010" stroke-width="0.20"/>
<circle cx="212.3" cy="338.3" r="0.70" fill="#d02020" stroke="#a01010" stroke-width="0.20"/>
<circle cx="214.9" cy="338.5" r="0.70" fill="#d02020" stroke="#a01010" stroke-width="0.20"/>
<circle cx="217.5" cy="338.7" r="0.70" fill="#d02020" stroke="#a01010" stroke-width="0.20"/>
<circle cx="220.1" cy="338.9" r="0.70" fill="#d02020" stroke="#a01010" stroke-width="0.20"/>
<circle cx="222.7" cy="339.0" r="0.70" fill="#d02020" stroke="#a01010" stroke-width="0.20"/>
<polyline points="168.7,335.6 168.9,335.6 169.1,335.6 169.3,335.6 169.4,335.6 169.6,335.6 169.8,335.6 170.0,335.6 170.2,335.6 170.4,335.7 170.6,335.7 170.7,335.7 170.9,335.7 171.1,335.7 171.3,335.7 171.5,335.7 171.7,335.7 171.9,335.7 172.0,335.7 172.2,335.8 172.4,335.8 172.6,335.8 172.8,335.8 173.0,335.8 173.1,335.8 173.3,335.8 173.5,335.8 173.7,335.8 173.9,335.9 174.1,335.9 174.3,335.9 174.4,335.9 174.6,335.9 174.8,335.9 175.0,335.9 175.2,335.9 175.4,335.9 175.6,335.9 175.7,336.0 175.9,336.0 176.1,336.0 176.3,336.0 176.5,336.0 176.7,336.0 176.9,336.0 177.0,336.0 177.2,336.0 177.4,336.0 177.6,336.0 177.8,336.1 178.0,336.1 178.2,336.1 178.3,336.1 178.5,336.1 178.7,336.1 178.9,336.1 179.1,336.1 179.3,336.1 179.5,336.1 179.6,336.1 179.8,336.1 180.0,336.2 180.2,336.2 180.4,336.2 180.6,336.2 180.7,336.2 180.9,336.2 181.1,336.2 181.3,336.2 181.5,336.2 181.7,336.2 181.9,336.2 182.0,336.2 182.2,336.2 182.4,336.2 182.6,336.2 182.8,336.3 183.0,336.3 183.2,336.3 183.3,336.3 183.5,336.3 183.7,336.3 183.9,336.3 184.1,336.3 184.3,336.3 184.5,336.3 184.6,336.3 184.8,336.3 185.0,336.3 185.2,336.3 185.4,336.3 185.6,336.3 185.8,336.2 185.9,336.2 186.1,336.2 186.3,336.2 186.5,336.2 186.7,336.1 186.9,336.1 187.1,336.1 187.2,336.0 187.4,335.9 187.6,335.9 187.8,335.8 188.0,335.7 188.2,335.6 188.3,335.5 188.5,335.3 188.7,335.2 188.9,335.0 189.1,334.8 189.3,334.6 189.5,334.3 189.6,334.1 189.8,333.8 190.0,333.4 190.2,333.0 190.4,332.6 190.6,332.2 190.8,331.7 190.9,331.1 191.1,330.5 191.3,329.9 191.5,329.2 191.7,328.5 191.9,327.7 192.1,326.9 192.2,326.0 192.4,325.1 192.6,324.1 192.8,323.1 193.0,322.0 193.2,321.0 193.4,319.8 193.5,318.7 193.7,317.5 193.9,316.3 194.1,315.1 194.3,313.9 194.5,312.6 194.7,311.4 194.8,310.3 195.0,309.1 195.2,308.0 195.4,306.9 195.6,305.9 195.8,304.9 195.9,304.0 196.1,303.2 196.3,302.5 196.5,301.8 196.7,301.3 196.9,300.9 197.1,300.6 197.2,300.4 197.4,300.3 197.6,300.4 197.8,300.5 198.0,300.8 198.2,301.2 198.4,301.7 198.5,302.3 198.7,303.1 198.9,303.9 199.1,304.7 199.3,305.7 199.5,306.7 199.7,307.8 199.8,308.9 200.0,310.1 200.2,311.3 200.4,312.5 200.6,313.8 200.8,315.0 201.0,316.2 201.1,317.5 201.3,318.7 201.5,319.9 201.7,321.0 201.9,322.2 202.1,323.3 202.3,324.3 202.4,325.3 202.6,326.3 202.8,327.2 203.0,328.1 203.2,328.9 203.4,329.6 203.5,330.4 203.7,331.0 203.9,331.7 204.1,332.3 204.3,332.8 204.5,333.3 204.7,333.7 204.8,334.1 205.0,334.5 205.2,334.9 205.4,335.2 205.6,335.5 205.8,335.7 206.0,335.9 206.1,336.2 206.3,336.3 206.5,336.5 206.7,336.6 206.9,336.8 207.1,336.9 207.3,337.0 207.4,337.1 207.6,337.2 207.8,337.3 208.0,337.3 208.2,337.4 208.4,337.4 208.6,337.5 208.7,337.5 208.9,337.6 209.1,337.6 209.3,337.6 209.5,337.7 209.7,337.7 209.9,337.7 210.0,337.7 210.2,337.8 210.4,337.8 210.6,337.8 210.8,337.8 211.0,337.9 211.1,337.9 211.3,337.9 211.5,337.9 211.7,337.9 211.9,337.9 212.1,337.9 212.3,338.0 212.4,338.0 212.6,338.0 212.8,338.0 213.0,338.0 213.2,338.0 213.4,338.0 213.6,338.1 213.7,338.1 213.9,338.1 214.1,338.1 214.3,338.1 214.5,338.1 214.7,338.1 214.9,338.1 215.0,338.1 215.2,338.2 215.4,338.2 215.6,338.2 215.8,338.2 216.0,338.2 216.2,338.2 216.3,338.2 216.5,338.2 216.7,338.2 216.9,338.2 217.1,338.2 217.3,338.2 217.5,338.2 217.6,338.2 217.8,338.2 218.0,338.2 218.2,338.2 218.4,338.2 218.6,338.2 218.8,338.2 218.9,338.2 219.1,338.2 219.3,338.2 219.5,338.2 219.7,338.2 219.9,338.1 220.0,338.1 220.2,338.1 220.4,338.0 220.6,338.0 220.8,337.9 221.0,337.9 221.2,337.8 221.3,337.7 221.5,337.6 221.7,337.5 221.9,337.3 222.1,337.2 222.3,337.0 222.5,336.8 222.6,336.6 222.8,336.4 223.0,336.1 223.2,335.8 223.4,335.4 223.6,335.1 223.8,334.6 223.9,334.2 224.1,333.7 224.3,333.1 224.5,332.5 224.7,331.9 224.9,331.2 225.1,330.5 225.2,329.7 225.4,328.8 225.6,327.9 225.8,327.0 226.0,325.9 226.2,324.9 226.4,323.8 226.5,322.6 226.7,321.4 226.9,320.1 227.1,318.8 227.3,317.4 227.5,316.0 227.6,314.5 227.8,313.0 228.0,311.5 228.2,310.0 228.4,308.4 228.6,306.8 228.8,305.2 228.9,303.6 229.1,301.9 229.3,300.3 229.5,298.7 229.7,297.1 229.9,295.5 230.1,293.9 230.2,292.4 230.4,291.0 230.6,289.6 230.8,288.3 231.0,287.1 231.2,286.1 231.4,285.1 231.5,284.3 231.7,283.6 231.9,283.1 232.1,282.7 232.3,282.6 232.5,282.6 232.7,282.8 232.8,283.2 233.0,283.9 233.2,284.7 233.4,285.8 233.6,287.0 233.8,288.5 234.0,290.1 234.1,291.9 234.3,293.8 234.5,295.9 234.7,298.0 234.9,300.2 235.1,302.5 235.2,304.8 235.4,307.1 235.6,309.4 235.8,311.7 236.0,313.9 236.2,316.1 236.4,318.2 236.5,320.1 236.7,322.0 236.9,323.8 237.1,325.4 237.3,326.9 237.5,328.4 237.7,329.7 237.8,330.8 238.0,331.9 238.2,332.9 238.4,333.7 238.6,334.5 238.8,335.2 239.0,335.8 239.1,336.3 239.3,336.8 239.5,337.2 239.7,337.6 239.9,337.9 240.1,338.2 240.3,338.4 240.4,338.6 240.6,338.8 240.8,338.9 241.0,339.1 241.2,339.2 241.4,339.3 241.6,339.4 241.7,339.4 241.9,339.5 242.1,339.6 242.3,339.6 242.5,339.7 242.7,339.7 242.8,339.8 243.0,339.8 243.2,339.8 243.4,339.9 243.6,339.9 243.8,339.9 244.0,340.0 244.1,340.0 244.3,340.0 244.5,340.0 244.7,340.0 244.9,340.1 245.1,340.1 245.3,340.1 245.4,340.1 245.6,340.2 245.8,340.2 246.0,340.2 246.2,340.2 246.4,340.2 246.6,340.3 246.7,340.3 246.9,340.3 247.1,340.3 247.3,340.3 247.5,340.3 247.7,340.4 247.9,340.4 248.0,340.4 248.2,340.4 248.4,340.4 248.6,340.4 248.8,340.5 249.0,340.5 249.2,340.5 249.3,340.5 249.5,340.5 249.7,340.5 249.9,340.6 250.1,340.6 250.3,340.6 250.4,340.6 250.6,340.6 250.8,340.6 251.0,340.6 251.2,340.7 251.4,340.7 251.6,340.7 251.7,340.7 251.9,340.7 252.1,340.7 252.3,340.7 252.5,340.8 252.7,340.8 252.9,340.8 253.0,340.8 253.2,340.8 253.4,340.8 253.6,340.8 253.8,340.9 254.0,340.9 254.2,340.9 254.3,340.9 254.5,340.9 254.7,340.9 254.9,340.9 255.1,341.0 255.3,341.0 255.5,341.0 255.6,341.0 255.8,341.0 256.0,341.0 256.2,341.0 256.4,341.0 256.6,341.1 256.8,341.1 256.9,341.1 257.1,341.1 257.3,341.1 257.5,341.1 257.7,341.1 257.9,341.2 258.0,341.2 258.2,341.2 258.4,341.2 258.6,341.2 258.8,341.2 259.0,341.2 259.2,341.2 259.3,341.3 259.5,341.3 259.7,341.3 259.9,341.3 260.1,341.3 260.3,341.3 260.5,341.3 260.6,341.3 260.8,341.4 261.0,341.4 261.2,341.4" fill="none" stroke="#e81010" stroke-width="1.30" stroke-linejoin="round" stroke-linecap="round" />
<polyline points="169.3,335.6 169.5,335.6 169.7,335.6 169.9,335.6 170.0,335.6 170.2,335.6 170.4,335.6 170.6,335.6 170.8,335.6 171.0,335.7 171.2,335.7 171.3,335.7 171.5,335.7 171.7,335.7 171.9,335.7 172.1,335.7 172.3,335.7 172.5,335.7 172.6,335.7 172.8,335.8 173.0,335.8 173.2,335.8 173.4,335.8 173.6,335.8 173.7,335.8 173.9,335.8 174.1,335.8 174.3,335.8 174.5,335.9 174.7,335.9 174.9,335.9 175.0,335.9 175.2,335.9 175.4,335.9 175.6,335.9 175.8,335.9 176.0,335.9 176.2,335.9 176.3,336.0 176.5,336.0 176.7,336.0 176.9,336.0 177.1,336.0 177.3,336.0 177.5,336.0 177.6,336.0 177.8,336.0 178.0,336.0 178.2,336.0 178.4,336.1 178.6,336.1 178.8,336.1 178.9,336.1 179.1,336.1 179.3,336.1 179.5,336.1 179.7,336.1 179.9,336.1 180.1,336.1 180.2,336.1 180.4,336.1 180.6,336.2 180.8,336.2 181.0,336.2 181.2,336.2 181.3,336.2 181.5,336.2 181.7,336.2 181.9,336.2 182.1,336.2 182.3,336.2 182.5,336.2 182.6,336.2 182.8,336.2 183.0,336.2 183.2,336.2 183.4,336.3 183.6,336.3 183.8,336.3 183.9,336.3 184.1,336.3 184.3,336.3 184.5,336.3 184.7,336.3 184.9,336.3 185.1,336.3 185.2,336.3 185.4,336.3 185.6,336.3 185.8,336.3 186.0,336.3 186.2,336.3 186.4,336.2 186.5,336.2 186.7,336.2 186.9,336.2 187.1,336.2 187.3,336.1 187.5,336.1 187.7,336.1 187.8,336.0 188.0,335.9 188.2,335.9 188.4,335.8 188.6,335.7 188.8,335.6 188.9,335.5 189.1,335.3 189.3,335.2 189.5,335.0 189.7,334.8 189.9,334.6 190.1,334.3 190.2,334.1 190.4,333.8 190.6,333.4 190.8,333.0 191.0,332.6 191.2,332.2 191.4,331.7 191.5,331.1 191.7,330.5 191.9,329.9 192.1,329.2 192.3,328.5 192.5,327.7 192.7,326.9 192.8,326.0 193.0,325.1 193.2,324.1 193.4,323.1 193.6,322.0 193.8,321.0 194.0,319.8 194.1,318.7 194.3,317.5 194.5,316.3 194.7,315.1 194.9,313.9 195.1,312.6 195.3,311.4 195.4,310.3 195.6,309.1 195.8,308.0 196.0,306.9 196.2,305.9 196.4,304.9 196.5,304.0 196.7,303.2 196.9,302.5 197.1,301.8 197.3,301.3 197.5,300.9 197.7,300.6 197.8,300.4 198.0,300.3 198.2,300.4 198.4,300.5 198.6,300.8 198.8,301.2 199.0,301.7 199.1,302.3 199.3,303.1 199.5,303.9 199.7,304.7 199.9,305.7 200.1,306.7 200.3,307.8 200.4,308.9 200.6,310.1 200.8,311.3 201.0,312.5 201.2,313.8 201.4,315.0 201.6,316.2 201.7,317.5 201.9,318.7 202.1,319.9 202.3,321.0 202.5,322.2 202.7,323.3 202.9,324.3 203.0,325.3 203.2,326.3 203.4,327.2 203.6,328.1 203.8,328.9 204.0,329.6 204.1,330.4 204.3,331.0 204.5,331.7 204.7,332.3 204.9,332.8 205.1,333.3 205.3,333.7 205.4,334.1 205.6,334.5 205.8,334.9 206.0,335.2 206.2,335.5 206.4,335.7 206.6,335.9 206.7,336.2 206.9,336.3 207.1,336.5 207.3,336.6 207.5,336.8 207.7,336.9 207.9,337.0 208.0,337.1 208.2,337.2 208.4,337.3 208.6,337.3 208.8,337.4 209.0,337.4 209.2,337.5 209.3,337.5 209.5,337.6 209.7,337.6 209.9,337.6 210.1,337.7 210.3,337.7 210.5,337.7 210.6,337.7 210.8,337.8 211.0,337.8 211.2,337.8 211.4,337.8 211.6,337.9 211.7,337.9 211.9,337.9 212.1,337.9 212.3,337.9 212.5,337.9 212.7,337.9 212.9,338.0 213.0,338.0 213.2,338.0 213.4,338.0 213.6,338.0 213.8,338.0 214.0,338.0 214.2,338.1 214.3,338.1 214.5,338.1 214.7,338.1 214.9,338.1 215.1,338.1 215.3,338.1 215.5,338.1 215.6,338.1 215.8,338.2 216.0,338.2 216.2,338.2 216.4,338.2 216.6,338.2 216.8,338.2 216.9,338.2 217.1,338.2 217.3,338.2 217.5,338.2 217.7,338.2 217.9,338.2 218.1,338.2 218.2,338.2 218.4,338.2 218.6,338.2 218.8,338.2 219.0,338.2 219.2,338.2 219.4,338.2 219.5,338.2 219.7,338.2 219.9,338.2 220.1,338.2 220.3,338.2 220.5,338.1 220.6,338.1 220.8,338.1 221.0,338.0 221.2,338.0 221.4,337.9 221.6,337.9 221.8,337.8 221.9,337.7 222.1,337.6 222.3,337.5 222.5,337.3 222.7,337.2 222.9,337.0 223.1,336.8 223.2,336.6 223.4,336.4 223.6,336.1 223.8,335.8 224.0,335.4 224.2,335.1 224.4,334.6 224.5,334.2 224.7,333.7 224.9,333.1 225.1,332.5 225.3,331.9 225.5,331.2 225.7,330.5 225.8,329.7 226.0,328.8 226.2,327.9 226.4,327.0 226.6,325.9 226.8,324.9 227.0,323.8 227.1,322.6 227.3,321.4 227.5,320.1 227.7,318.8 227.9,317.4 228.1,316.0 228.2,314.5 228.4,313.0 228.6,311.5 228.8,310.0 229.0,308.4 229.2,306.8 229.4,305.2 229.5,303.6 229.7,301.9 229.9,300.3 230.1,298.7 230.3,297.1 230.5,295.5 230.7,293.9 230.8,292.4 231.0,291.0 231.2,289.6 231.4,288.3 231.6,287.1 231.8,286.1 232.0,285.1 232.1,284.3 232.3,283.6 232.5,283.1 232.7,282.7 232.9,282.6 233.1,282.6 233.3,282.8 233.4,283.2 233.6,283.9 233.8,284.7 234.0,285.8 234.2,287.0 234.4,288.5 234.6,290.1 234.7,291.9 234.9,293.8 235.1,295.9 235.3,298.0 235.5,300.2 235.7,302.5 235.8,304.8 236.0,307.1 236.2,309.4 236.4,311.7 236.6,313.9 236.8,316.1 237.0,318.2 237.1,320.1 237.3,322.0 237.5,323.8 237.7,325.4 237.9,326.9 238.1,328.4 238.3,329.7 238.4,330.8 238.6,331.9 238.8,332.9 239.0,333.7 239.2,334.5 239.4,335.2 239.6,335.8 239.7,336.3 239.9,336.8 240.1,337.2 240.3,337.6 240.5,337.9 240.7,338.2 240.9,338.4 241.0,338.6 241.2,338.8 241.4,338.9 241.6,339.1 241.8,339.2 242.0,339.3 242.2,339.4 242.3,339.4 242.5,339.5 242.7,339.6 242.9,339.6 243.1,339.7 243.3,339.7 243.4,339.8 243.6,339.8 243.8,339.8 244.0,339.9 244.2,339.9 244.4,339.9 244.6,340.0 244.7,340.0 244.9,340.0 245.1,340.0 245.3,340.0 245.5,340.1 245.7,340.1 245.9,340.1 246.0,340.1 246.2,340.2 246.4,340.2 246.6,340.2 246.8,340.2 247.0,340.2 247.2,340.3 247.3,340.3 247.5,340.3 247.7,340.3 247.9,340.3 248.1,340.3 248.3,340.4 248.5,340.4 248.6,340.4 248.8,340.4 249.0,340.4 249.2,340.4 249.4,340.5 249.6,340.5 249.8,340.5 249.9,340.5 250.1,340.5 250.3,340.5 250.5,340.6 250.7,340.6 250.9,340.6 251.0,340.6 251.2,340.6 251.4,340.6 251.6,340.6 251.8,340.7 252.0,340.7 252.2,340.7 252.3,340.7 252.5,340.7 252.7,340.7 252.9,340.7 253.1,340.8 253.3,340.8 253.5,340.8 253.6,340.8 253.8,340.8 254.0,340.8 254.2,340.8 254.4,340.9 254.6,340.9 254.8,340.9 254.9,340.9 255.1,340.9 255.3,340.9 255.5,340.9 255.7,341.0 255.9,341.0 256.1,341.0 256.2,341.0 256.4,341.0 256.6,341.0 256.8,341.0 257.0,341.0 257.2,341.1 257.4,341.1 257.5,341.1 257.7,341.1 257.9,341.1 258.1,341.1 258.3,341.1 258.5,341.2 258.6,341.2 258.8,341.2 259.0,341.2 259.2,341.2 259.4,341.2 259.6,341.2 259.8,341.2 259.9,341.3 260.1,341.3 260.3,341.3 260.5,341.3 260.7,341.3 260.9,341.3 261.1,341.3 261.2,341.3 261.4,341.4 261.6,341.4 261.8,341.4" fill="none" stroke="#1414f0" stroke-width="1.40" stroke-linejoin="round" stroke-linecap="round" />
<circle cx="168.6" cy="335.6" r="0.50" fill="#e01010" stroke="#e01010" stroke-width="0.10"/>
<circle cx="171.8" cy="335.7" r="0.50" fill="#e01010" stroke="#e01010" stroke-width="0.10"/>
<circle cx="174.9" cy="335.9" r="0.50" fill="#e01010" stroke="#e01010" stroke-width="0.10"/>
<circle cx="178.1" cy="336.1" r="0.50" fill="#e01010" stroke="#e01010" stroke-width="0.10"/>
<circle cx="181.2" cy="336.2" r="0.50" fill="#e01010" stroke="#e01010" stroke-width="0.10"/>
<circle cx="184.4" cy="336.3" r="0.50" fill="#e01010" stroke="#e01010" stroke-width="0.10"/>
<circle cx="187.5" cy="335.9" r="0.50" fill="#e01010" stroke="#e01010" stroke-width="0.10"/>
<circle cx="189.7" cy="333.8" r="0.50" fill="#e01010" stroke="#e01010" stroke-width="0.10"/>
<circle cx="191.0" cy="330.5" r="0.50" fill="#e01010" stroke="#e01010" stroke-width="0.10"/>
<circle cx="192.0" cy="326.9" r="0.50" fill="#e01010" stroke="#e01010" stroke-width="0.10"/>
<circle cx="192.7" cy="323.1" r="0.50" fill="#e01010" stroke="#e01010" stroke-width="0.10"/>
<circle cx="193.3" cy="319.8" r="0.50" fill="#e01010" stroke="#e01010" stroke-width="0.10"/>
<circle cx="193.8" cy="316.3" r="0.50" fill="#e01010" stroke="#e01010" stroke-width="0.10"/>
<circle cx="194.4" cy="312.6" r="0.50" fill="#e01010" stroke="#e01010" stroke-width="0.10"/>
<circle cx="194.9" cy="309.1" r="0.50" fill="#e01010" stroke="#e01010" stroke-width="0.10"/>
<circle cx="195.5" cy="305.9" r="0.50" fill="#e01010" stroke="#e01010" stroke-width="0.10"/>
<circle cx="196.2" cy="302.5" r="0.50" fill="#e01010" stroke="#e01010" stroke-width="0.10"/>
<circle cx="197.9" cy="300.8" r="0.50" fill="#e01010" stroke="#e01010" stroke-width="0.10"/>
<circle cx="198.8" cy="303.9" r="0.50" fill="#e01010" stroke="#e01010" stroke-width="0.10"/>
<circle cx="199.6" cy="307.8" r="0.50" fill="#e01010" stroke="#e01010" stroke-width="0.10"/>
<circle cx="200.1" cy="311.3" r="0.50" fill="#e01010" stroke="#e01010" stroke-width="0.10"/>
<circle cx="200.7" cy="315.0" r="0.50" fill="#e01010" stroke="#e01010" stroke-width="0.10"/>
<circle cx="201.2" cy="318.7" r="0.50" fill="#e01010" stroke="#e01010" stroke-width="0.10"/>
<circle cx="201.8" cy="322.2" r="0.50" fill="#e01010" stroke="#e01010" stroke-width="0.10"/>
<circle cx="202.3" cy="325.3" r="0.50" fill="#e01010" stroke="#e01010" stroke-width="0.10"/>
<circle cx="203.1" cy="328.9" r="0.50" fill="#e01010" stroke="#e01010" stroke-width="0.10"/>
<circle cx="204.0" cy="332.3" r="0.50" fill="#e01010" stroke="#e01010" stroke-width="0.10"/>
<circle cx="205.3" cy="335.2" r="0.50" fill="#e01010" stroke="#e01010" stroke-width="0.10"/>
<circle cx="207.5" cy="337.2" r="0.50" fill="#e01010" stroke="#e01010" stroke-width="0.10"/>
<circle cx="210.5" cy="337.8" r="0.50" fill="#e01010" stroke="#e01010" stroke-width="0.10"/>
<circle cx="213.6" cy="338.1" r="0.50" fill="#e01010" stroke="#e01010" stroke-width="0.10"/>
<circle cx="216.8" cy="338.2" r="0.50" fill="#e01010" stroke="#e01010" stroke-width="0.10"/>
<circle cx="219.9" cy="338.1" r="0.50" fill="#e01010" stroke="#e01010" stroke-width="0.10"/>
<circle cx="222.5" cy="336.6" r="0.50" fill="#e01010" stroke="#e01010" stroke-width="0.10"/>
<circle cx="224.0" cy="333.7" r="0.50" fill="#e01010" stroke="#e01010" stroke-width="0.10"/>
<circle cx="225.0" cy="330.5" r="0.50" fill="#e01010" stroke="#e01010" stroke-width="0.10"/>
<circle cx="225.7" cy="327.0" r="0.50" fill="#e01010" stroke="#e01010" stroke-width="0.10"/>
<circle cx="226.3" cy="323.8" r="0.50" fill="#e01010" stroke="#e01010" stroke-width="0.10"/>
<circle cx="226.8" cy="320.1" r="0.50" fill="#e01010" stroke="#e01010" stroke-width="0.10"/>
<circle cx="227.4" cy="316.0" r="0.50" fill="#e01010" stroke="#e01010" stroke-width="0.10"/>
<circle cx="227.9" cy="311.5" r="0.50" fill="#e01010" stroke="#e01010" stroke-width="0.10"/>
<circle cx="228.3" cy="308.4" r="0.50" fill="#e01010" stroke="#e01010" stroke-width="0.10"/>
<circle cx="228.7" cy="305.2" r="0.50" fill="#e01010" stroke="#e01010" stroke-width="0.10"/>
<circle cx="229.0" cy="301.9" r="0.50" fill="#e01010" stroke="#e01010" stroke-width="0.10"/>
<circle cx="229.4" cy="298.7" r="0.50" fill="#e01010" stroke="#e01010" stroke-width="0.10"/>
<circle cx="229.8" cy="295.5" r="0.50" fill="#e01010" stroke="#e01010" stroke-width="0.10"/>
<circle cx="230.1" cy="292.4" r="0.50" fill="#e01010" stroke="#e01010" stroke-width="0.10"/>
<circle cx="230.7" cy="288.3" r="0.50" fill="#e01010" stroke="#e01010" stroke-width="0.10"/>
<circle cx="231.3" cy="285.1" r="0.50" fill="#e01010" stroke="#e01010" stroke-width="0.10"/>
<circle cx="232.6" cy="282.8" r="0.50" fill="#e01010" stroke="#e01010" stroke-width="0.10"/>
<circle cx="233.3" cy="285.8" r="0.50" fill="#e01010" stroke="#e01010" stroke-width="0.10"/>
<circle cx="233.9" cy="290.1" r="0.50" fill="#e01010" stroke="#e01010" stroke-width="0.10"/>
<circle cx="234.2" cy="293.8" r="0.50" fill="#e01010" stroke="#e01010" stroke-width="0.10"/>
<circle cx="234.6" cy="298.0" r="0.50" fill="#e01010" stroke="#e01010" stroke-width="0.10"/>
<circle cx="235.0" cy="302.5" r="0.50" fill="#e01010" stroke="#e01010" stroke-width="0.10"/>
<circle cx="235.3" cy="307.1" r="0.50" fill="#e01010" stroke="#e01010" stroke-width="0.10"/>
<circle cx="235.7" cy="311.7" r="0.50" fill="#e01010" stroke="#e01010" stroke-width="0.10"/>
<circle cx="236.1" cy="316.1" r="0.50" fill="#e01010" stroke="#e01010" stroke-width="0.10"/>
<circle cx="236.4" cy="320.1" r="0.50" fill="#e01010" stroke="#e01010" stroke-width="0.10"/>
<circle cx="236.8" cy="323.8" r="0.50" fill="#e01010" stroke="#e01010" stroke-width="0.10"/>
<circle cx="237.2" cy="326.9" r="0.50" fill="#e01010" stroke="#e01010" stroke-width="0.10"/>
<circle cx="237.7" cy="330.8" r="0.50" fill="#e01010" stroke="#e01010" stroke-width="0.10"/>
<circle cx="238.5" cy="334.5" r="0.50" fill="#e01010" stroke="#e01010" stroke-width="0.10"/>
<circle cx="239.6" cy="337.6" r="0.50" fill="#e01010" stroke="#e01010" stroke-width="0.10"/>
<circle cx="241.8" cy="339.5" r="0.50" fill="#e01010" stroke="#e01010" stroke-width="0.10"/>
<circle cx="244.8" cy="340.1" r="0.50" fill="#e01010" stroke="#e01010" stroke-width="0.10"/>
<circle cx="247.9" cy="340.4" r="0.50" fill="#e01010" stroke="#e01010" stroke-width="0.10"/>
<circle cx="251.1" cy="340.7" r="0.50" fill="#e01010" stroke="#e01010" stroke-width="0.10"/>
<circle cx="254.2" cy="340.9" r="0.50" fill="#e01010" stroke="#e01010" stroke-width="0.10"/>
<circle cx="257.4" cy="341.1" r="0.50" fill="#e01010" stroke="#e01010" stroke-width="0.10"/>
<circle cx="260.5" cy="341.3" r="0.50" fill="#e01010" stroke="#e01010" stroke-width="0.10"/>
<rect x="169.3" y="272.6" width="92.5" height="71.8" fill="none" stroke="#262626" stroke-width="1.10"/>
<line x1="183.2" y1="344.4" x2="183.2" y2="342.8" stroke="#262626" stroke-width="0.90"/>
<line x1="183.2" y1="272.6" x2="183.2" y2="274.2" stroke="#262626" stroke-width="0.90"/>
<line x1="206.3" y1="344.4" x2="206.3" y2="342.8" stroke="#262626" stroke-width="0.90"/>
<line x1="206.3" y1="272.6" x2="206.3" y2="274.2" stroke="#262626" stroke-width="0.90"/>
<line x1="229.4" y1="344.4" x2="229.4" y2="342.8" stroke="#262626" stroke-width="0.90"/>
<line x1="229.4" y1="272.6" x2="229.4" y2="274.2" stroke="#262626" stroke-width="0.90"/>
<line x1="252.6" y1="344.4" x2="252.6" y2="342.8" stroke="#262626" stroke-width="0.90"/>
<line x1="252.6" y1="272.6" x2="252.6" y2="274.2" stroke="#262626" stroke-width="0.90"/>
<line x1="169.3" y1="323.8" x2="170.9" y2="323.8" stroke="#262626" stroke-width="0.90"/>
<line x1="261.8" y1="323.8" x2="260.2" y2="323.8" stroke="#262626" stroke-width="0.90"/>
<line x1="169.3" y1="303.2" x2="170.9" y2="303.2" stroke="#262626" stroke-width="0.90"/>
<line x1="261.8" y1="303.2" x2="260.2" y2="303.2" stroke="#262626" stroke-width="0.90"/>
<line x1="169.3" y1="282.6" x2="170.9" y2="282.6" stroke="#262626" stroke-width="0.90"/>
<line x1="261.8" y1="282.6" x2="260.2" y2="282.6" stroke="#262626" stroke-width="0.90"/>
<text x="181.8" y="357.4" font-family='"Liberation Serif", serif' font-size="11.20" text-anchor="middle" fill="#262626" stroke="#262626" stroke-width="0.22" >455</text>
<text x="205.4" y="357.4" font-family='"Liberation Serif", serif' font-size="11.20" text-anchor="middle" fill="#262626" stroke="#262626" stroke-width="0.22" >450</text>
<text x="229.0" y="357.4" font-family='"Liberation Serif", serif' font-size="11.20" text-anchor="middle" fill="#262626" stroke="#262626" stroke-width="0.22" >445</text>
<text x="252.6" y="357.4" font-family='"Liberation Serif", serif' font-size="11.20" text-anchor="middle" fill="#262626" stroke="#262626" stroke-width="0.22" >440</text>
<text x="162.6" y="286.6" font-family='"Liberation Serif", serif' font-size="11.40" text-anchor="middle" fill="#262626" stroke="#262626" stroke-width="0.22" >6</text>
<text x="162.6" y="307.6" font-family='"Liberation Serif", serif' font-size="11.40" text-anchor="middle" fill="#262626" stroke="#262626" stroke-width="0.22" >4</text>
<text x="162.6" y="328.7" font-family='"Liberation Serif", serif' font-size="11.40" text-anchor="middle" fill="#262626" stroke="#262626" stroke-width="0.22" >2</text>
<text x="162.6" y="348.5" font-family='"Liberation Serif", serif' font-size="11.40" text-anchor="middle" fill="#262626" stroke="#262626" stroke-width="0.22" >0</text>
<text x="173.3" y="285.4" font-family='"Liberation Serif", serif' font-size="11.80" text-anchor="start" fill="#262626" stroke="#262626" stroke-width="0.22" >In 3d</text>
<rect x="404.8" y="174.0" width="125.2" height="90.0" fill="#fff"/>
<polyline points="427.4,242.2 427.9,242.1 428.4,242.0 428.8,241.9 429.3,241.8 429.8,241.7 430.3,241.5 430.8,241.4 431.3,241.3 431.7,241.1 432.2,241.0 432.7,240.8 433.2,240.7 433.7,240.6 434.2,240.4 434.6,240.3 435.1,240.1 435.6,240.0 436.1,239.9 436.6,239.8 437.1,239.6 437.5,239.5 438.0,239.4 438.5,239.3 439.0,239.2 439.5,239.2 440.0,239.1 440.4,239.1 440.9,239.0 441.4,239.0 441.9,239.0 442.4,239.0 442.9,239.0 443.3,239.0 443.8,239.1 444.3,239.1 444.8,239.2 445.3,239.3 445.8,239.4 446.2,239.5 446.7,239.6 447.2,239.7 447.7,239.8 448.2,240.0 448.6,240.1 449.1,240.3 449.6,240.4 450.1,240.6 450.6,240.8 451.1,241.0 451.5,241.1 452.0,241.3 452.5,241.5 453.0,241.7 453.5,241.9 454.0,242.0 454.4,242.2 454.9,242.4 455.4,242.6 455.9,242.7 456.4,242.9 456.9,243.0 457.3,243.2 457.8,243.3 458.3,243.5 458.8,243.6 459.3,243.7 459.8,243.8 460.2,243.9 460.7,244.0 461.2,244.1 461.7,244.2 462.2,244.3 462.7,244.4 463.1,244.5 463.6,244.5 464.1,244.6 464.6,244.6 465.1,244.7 465.6,244.7 466.0,244.7 466.5,244.7 467.0,244.8 467.5,244.8 468.0,244.8 468.4,244.8 468.9,244.7 469.4,244.7 469.9,244.7 470.4,244.6 470.9,244.6 471.3,244.5 471.8,244.4 472.3,244.3 472.8,244.3 473.3,244.2 473.8,244.0 474.2,243.9 474.7,243.8 475.2,243.7 475.7,243.5 476.2,243.4 476.7,243.2 477.1,243.1 477.6,242.9 478.1,242.7 478.6,242.6 479.1,242.4 479.6,242.2 480.0,242.0 480.5,241.9 481.0,241.7 481.5,241.6 482.0,241.4 482.5,241.3 482.9,241.2 483.4,241.0 483.9,241.0 484.4,240.9 484.9,240.8 485.3,240.7 485.8,240.7 486.3,240.7 486.8,240.7 487.3,240.7 487.8,240.8 488.2,240.8 488.7,240.9 489.2,241.0 489.7,241.1 490.2,241.2 490.7,241.4 491.1,241.5 491.6,241.7 492.1,241.9 492.6,242.0 493.1,242.2 493.6,242.4 494.0,242.6 494.5,242.8 495.0,243.1 495.5,243.3 496.0,243.5 496.5,243.7 496.9,243.9 497.4,244.1 497.9,244.3 498.4,244.5 498.9,244.6 499.4,244.8 499.8,245.0 500.3,245.1 500.8,245.3 501.3,245.4 501.8,245.6 502.3,245.7 502.7,245.8 503.2,245.9 503.7,246.0 504.2,246.1 504.7,246.2 505.1,246.3 505.6,246.4 506.1,246.4 506.6,246.5 507.1,246.5 507.6,246.6 508.0,246.6 508.5,246.7 509.0,246.7 509.5,246.8 510.0,246.8 510.5,246.8 510.9,246.9 511.4,246.9 511.9,246.9 512.4,247.0 512.9,247.0 513.4,247.0 513.8,247.0 514.3,247.1 514.8,247.1 515.3,247.1 515.8,247.1 516.3,247.2 516.7,247.2 517.2,247.2 517.7,247.2 518.2,247.2 518.7,247.2 519.2,247.3 519.6,247.3 520.1,247.3 520.6,247.3 521.1,247.3 521.6,247.4 522.1,247.4 522.5,247.4 523.0,247.4 523.5,247.4" fill="none" stroke="#111111" stroke-width="2.60" stroke-linejoin="round" stroke-linecap="round" />
<polyline points="426.8,241.3 427.0,241.3 427.2,241.3 427.4,241.3 427.6,241.2 427.8,241.2 428.0,241.2 428.1,241.2 428.3,241.2 428.5,241.2 428.7,241.2 428.9,241.1 429.1,241.1 429.3,241.1 429.5,241.1 429.7,241.1 429.9,241.1 430.1,241.1 430.3,241.1 430.5,241.0 430.7,241.0 430.8,241.0 431.0,241.0 431.2,241.0 431.4,241.0 431.6,241.0 431.8,241.0 432.0,241.0 432.2,241.0 432.4,241.0 432.6,241.0 432.8,241.0 433.0,241.0 433.2,241.0 433.3,241.0 433.5,240.9 433.7,240.9 433.9,240.9 434.1,240.9 434.3,240.9 434.5,240.9 434.7,240.9 434.9,240.9 435.1,240.9 435.3,240.9 435.5,240.9 435.7,240.9 435.9,240.9 436.0,240.9 436.2,240.9 436.4,240.9 436.6,240.9 436.8,240.9 437.0,240.9 437.2,240.9 437.4,240.9 437.6,240.8 437.8,240.8 438.0,240.8 438.2,240.8 438.4,240.7 438.5,240.7 438.7,240.6 438.9,240.6 439.1,240.5 439.3,240.4 439.5,240.3 439.7,240.2 439.9,240.1 440.1,240.0 440.3,239.8 440.5,239.6 440.7,239.4 440.9,239.2 441.1,239.0 441.2,238.7 441.4,238.4 441.6,238.1 441.8,237.8 442.0,237.4 442.2,236.9 442.4,236.5 442.6,236.0 442.8,235.4 443.0,234.8 443.2,234.2 443.4,233.5 443.6,232.8 443.7,232.0 443.9,231.2 444.1,230.4 444.3,229.5 444.5,228.5 444.7,227.5 444.9,226.5 445.1,225.4 445.3,224.3 445.5,223.1 445.7,222.0 445.9,220.8 446.1,219.6 446.3,218.3 446.4,217.1 446.6,215.8 446.8,214.6 447.0,213.4 447.2,212.2 447.4,211.0 447.6,209.8 447.8,208.7 448.0,207.6 448.2,206.6 448.4,205.7 448.6,204.8 448.8,204.1 448.9,203.4 449.1,202.8 449.3,202.3 449.5,201.9 449.7,201.7 449.9,201.5 450.1,201.5 450.3,201.5 450.5,201.7 450.7,202.1 450.9,202.5 451.1,203.0 451.3,203.7 451.5,204.4 451.6,205.2 451.8,206.1 452.0,207.1 452.2,208.1 452.4,209.2 452.6,210.4 452.8,211.6 453.0,212.8 453.2,214.1 453.4,215.4 453.6,216.7 453.8,217.9 454.0,219.2 454.1,220.5 454.3,221.8 454.5,223.0 454.7,224.2 454.9,225.4 455.1,226.6 455.3,227.7 455.5,228.8 455.7,229.8 455.9,230.8 456.1,231.8 456.3,232.7 456.5,233.5 456.7,234.3 456.8,235.1 457.0,235.8 457.2,236.5 457.4,237.1 457.6,237.7 457.8,238.3 458.0,238.8 458.2,239.3 458.4,239.7 458.6,240.1 458.8,240.4 459.0,240.8 459.2,241.1 459.3,241.4 459.5,241.6 459.7,241.9 459.9,242.1 460.1,242.3 460.3,242.4 460.5,242.6 460.7,242.7 460.9,242.8 461.1,243.0 461.3,243.1 461.5,243.2 461.7,243.2 461.9,243.3 462.0,243.4 462.2,243.4 462.4,243.5 462.6,243.6 462.8,243.6 463.0,243.6 463.2,243.7 463.4,243.7 463.6,243.8 463.8,243.8 464.0,243.8 464.2,243.8 464.4,243.9 464.5,243.9 464.7,243.9 464.9,243.9 465.1,244.0 465.3,244.0 465.5,244.0 465.7,244.0 465.9,244.0 466.1,244.0 466.3,244.1 466.5,244.1 466.7,244.1 466.9,244.1 467.1,244.1 467.2,244.1 467.4,244.1 467.6,244.2 467.8,244.2 468.0,244.2 468.2,244.2 468.4,244.2 468.6,244.2 468.8,244.2 469.0,244.2 469.2,244.2 469.4,244.3 469.6,244.3 469.7,244.3 469.9,244.3 470.1,244.3 470.3,244.3 470.5,244.3 470.7,244.3 470.9,244.3 471.1,244.3 471.3,244.3 471.5,244.3 471.7,244.3 471.9,244.3 472.1,244.3 472.3,244.3 472.4,244.3 472.6,244.3 472.8,244.3 473.0,244.3 473.2,244.3 473.4,244.3 473.6,244.3 473.8,244.3 474.0,244.3 474.2,244.3 474.4,244.3 474.6,244.3 474.8,244.3 474.9,244.3 475.1,244.3 475.3,244.3 475.5,244.3 475.7,244.3 475.9,244.3 476.1,244.3 476.3,244.3 476.5,244.3 476.7,244.2 476.9,244.2 477.1,244.2 477.3,244.2 477.4,244.1 477.6,244.1 477.8,244.1 478.0,244.0 478.2,244.0 478.4,243.9 478.6,243.8 478.8,243.8 479.0,243.7 479.2,243.6 479.4,243.5 479.6,243.4 479.8,243.2 480.0,243.1 480.1,242.9 480.3,242.7 480.5,242.5 480.7,242.3 480.9,242.0 481.1,241.7 481.3,241.4 481.5,241.1 481.7,240.7 481.9,240.2 482.1,239.8 482.3,239.2 482.5,238.7 482.6,238.1 482.8,237.4 483.0,236.6 483.2,235.8 483.4,235.0 483.6,234.1 483.8,233.1 484.0,232.0 484.2,230.9 484.4,229.7 484.6,228.5 484.8,227.2 485.0,225.8 485.2,224.3 485.3,222.8 485.5,221.2 485.7,219.6 485.9,217.9 486.1,216.2 486.3,214.4 486.5,212.6 486.7,210.7 486.9,208.9 487.1,207.0 487.3,205.1 487.5,203.2 487.7,201.4 487.8,199.6 488.0,197.8 488.2,196.1 488.4,194.4 488.6,192.8 488.8,191.3 489.0,189.9 489.2,188.6 489.4,187.5 489.6,186.5 489.8,185.6 490.0,184.9 490.2,184.3 490.4,183.9 490.5,183.7 490.7,183.6 490.9,183.8 491.1,184.1 491.3,184.5 491.5,185.2 491.7,186.0 491.9,186.9 492.1,188.0 492.3,189.2 492.5,190.6 492.7,192.0 492.9,193.6 493.0,195.2 493.2,196.9 493.4,198.7 493.6,200.5 493.8,202.3 494.0,204.2 494.2,206.1 494.4,208.0 494.6,209.9 494.8,211.7 495.0,213.6 495.2,215.4 495.4,217.2 495.6,218.9 495.7,220.6 495.9,222.3 496.1,223.9 496.3,225.4 496.5,226.8 496.7,228.2 496.9,229.5 497.1,230.8 497.3,232.0 497.5,233.1 497.7,234.1 497.9,235.1 498.1,236.0 498.2,236.9 498.4,237.7 498.6,238.4 498.8,239.1 499.0,239.7 499.2,240.3 499.4,240.8 499.6,241.3 499.8,241.7 500.0,242.1 500.2,242.5 500.4,242.8 500.6,243.1 500.8,243.4 500.9,243.6 501.1,243.9 501.3,244.1 501.5,244.2 501.7,244.4 501.9,244.6 502.1,244.7 502.3,244.8 502.5,244.9 502.7,245.0 502.9,245.1 503.1,245.2 503.3,245.3 503.4,245.3 503.6,245.4 503.8,245.4 504.0,245.5 504.2,245.6 504.4,245.6 504.6,245.6 504.8,245.7 505.0,245.7 505.2,245.8 505.4,245.8 505.6,245.8 505.8,245.8 506.0,245.9 506.1,245.9 506.3,245.9 506.5,246.0 506.7,246.0 506.9,246.0 507.1,246.0 507.3,246.1 507.5,246.1 507.7,246.1 507.9,246.1 508.1,246.1 508.3,246.2 508.5,246.2 508.6,246.2 508.8,246.2 509.0,246.2 509.2,246.3 509.4,246.3 509.6,246.3 509.8,246.3 510.0,246.3 510.2,246.4 510.4,246.4 510.6,246.4 510.8,246.4 511.0,246.4 511.2,246.4 511.3,246.5 511.5,246.5 511.7,246.5 511.9,246.5 512.1,246.5 512.3,246.5 512.5,246.6 512.7,246.6 512.9,246.6 513.1,246.6 513.3,246.6 513.5,246.6 513.7,246.6 513.8,246.7 514.0,246.7 514.2,246.7 514.4,246.7 514.6,246.7 514.8,246.7 515.0,246.7 515.2,246.8 515.4,246.8 515.6,246.8 515.8,246.8 516.0,246.8 516.2,246.8 516.4,246.8 516.5,246.9 516.7,246.9 516.9,246.9 517.1,246.9 517.3,246.9 517.5,246.9 517.7,246.9 517.9,246.9 518.1,247.0 518.3,247.0 518.5,247.0 518.7,247.0 518.9,247.0 519.0,247.0 519.2,247.0 519.4,247.0 519.6,247.1 519.8,247.1 520.0,247.1 520.2,247.1 520.4,247.1 520.6,247.1 520.8,247.1 521.0,247.1 521.2,247.1 521.4,247.2 521.6,247.2 521.7,247.2 521.9,247.2 522.1,247.2 522.3,247.2 522.5,247.2 522.7,247.2 522.9,247.2" fill="none" stroke="#e81010" stroke-width="1.40" stroke-linejoin="round" stroke-linecap="round" />
<polyline points="427.4,241.3 427.6,241.3 427.8,241.3 428.0,241.3 428.2,241.2 428.4,241.2 428.6,241.2 428.7,241.2 428.9,241.2 429.1,241.2 429.3,241.2 429.5,241.1 429.7,241.1 429.9,241.1 430.1,241.1 430.3,241.1 430.5,241.1 430.7,241.1 430.9,241.1 431.1,241.0 431.3,241.0 431.4,241.0 431.6,241.0 431.8,241.0 432.0,241.0 432.2,241.0 432.4,241.0 432.6,241.0 432.8,241.0 433.0,241.0 433.2,241.0 433.4,241.0 433.6,241.0 433.8,241.0 433.9,241.0 434.1,240.9 434.3,240.9 434.5,240.9 434.7,240.9 434.9,240.9 435.1,240.9 435.3,240.9 435.5,240.9 435.7,240.9 435.9,240.9 436.1,240.9 436.3,240.9 436.5,240.9 436.6,240.9 436.8,240.9 437.0,240.9 437.2,240.9 437.4,240.9 437.6,240.9 437.8,240.9 438.0,240.9 438.2,240.8 438.4,240.8 438.6,240.8 438.8,240.8 439.0,240.7 439.1,240.7 439.3,240.6 439.5,240.6 439.7,240.5 439.9,240.4 440.1,240.3 440.3,240.2 440.5,240.1 440.7,240.0 440.9,239.8 441.1,239.6 441.3,239.4 441.5,239.2 441.7,239.0 441.8,238.7 442.0,238.4 442.2,238.1 442.4,237.8 442.6,237.4 442.8,236.9 443.0,236.5 443.2,236.0 443.4,235.4 443.6,234.8 443.8,234.2 444.0,233.5 444.2,232.8 444.3,232.0 444.5,231.2 444.7,230.4 444.9,229.5 445.1,228.5 445.3,227.5 445.5,226.5 445.7,225.4 445.9,224.3 446.1,223.1 446.3,222.0 446.5,220.8 446.7,219.6 446.9,218.3 447.0,217.1 447.2,215.8 447.4,214.6 447.6,213.4 447.8,212.2 448.0,211.0 448.2,209.8 448.4,208.7 448.6,207.6 448.8,206.6 449.0,205.7 449.2,204.8 449.4,204.1 449.5,203.4 449.7,202.8 449.9,202.3 450.1,201.9 450.3,201.7 450.5,201.5 450.7,201.5 450.9,201.5 451.1,201.7 451.3,202.1 451.5,202.5 451.7,203.0 451.9,203.7 452.1,204.4 452.2,205.2 452.4,206.1 452.6,207.1 452.8,208.1 453.0,209.2 453.2,210.4 453.4,211.6 453.6,212.8 453.8,214.1 454.0,215.4 454.2,216.7 454.4,217.9 454.6,219.2 454.7,220.5 454.9,221.8 455.1,223.0 455.3,224.2 455.5,225.4 455.7,226.6 455.9,227.7 456.1,228.8 456.3,229.8 456.5,230.8 456.7,231.8 456.9,232.7 457.1,233.5 457.3,234.3 457.4,235.1 457.6,235.8 457.8,236.5 458.0,237.1 458.2,237.7 458.4,238.3 458.6,238.8 458.8,239.3 459.0,239.7 459.2,240.1 459.4,240.4 459.6,240.8 459.8,241.1 459.9,241.4 460.1,241.6 460.3,241.9 460.5,242.1 460.7,242.3 460.9,242.4 461.1,242.6 461.3,242.7 461.5,242.8 461.7,243.0 461.9,243.1 462.1,243.2 462.3,243.2 462.5,243.3 462.6,243.4 462.8,243.4 463.0,243.5 463.2,243.6 463.4,243.6 463.6,243.6 463.8,243.7 464.0,243.7 464.2,243.8 464.4,243.8 464.6,243.8 464.8,243.8 465.0,243.9 465.1,243.9 465.3,243.9 465.5,243.9 465.7,244.0 465.9,244.0 466.1,244.0 466.3,244.0 466.5,244.0 466.7,244.0 466.9,244.1 467.1,244.1 467.3,244.1 467.5,244.1 467.7,244.1 467.8,244.1 468.0,244.1 468.2,244.2 468.4,244.2 468.6,244.2 468.8,244.2 469.0,244.2 469.2,244.2 469.4,244.2 469.6,244.2 469.8,244.2 470.0,244.3 470.2,244.3 470.3,244.3 470.5,244.3 470.7,244.3 470.9,244.3 471.1,244.3 471.3,244.3 471.5,244.3 471.7,244.3 471.9,244.3 472.1,244.3 472.3,244.3 472.5,244.3 472.7,244.3 472.9,244.3 473.0,244.3 473.2,244.3 473.4,244.3 473.6,244.3 473.8,244.3 474.0,244.3 474.2,244.3 474.4,244.3 474.6,244.3 474.8,244.3 475.0,244.3 475.2,244.3 475.4,244.3 475.5,244.3 475.7,244.3 475.9,244.3 476.1,244.3 476.3,244.3 476.5,244.3 476.7,244.3 476.9,244.3 477.1,244.3 477.3,244.2 477.5,244.2 477.7,244.2 477.9,244.2 478.0,244.1 478.2,244.1 478.4,244.1 478.6,244.0 478.8,244.0 479.0,243.9 479.2,243.8 479.4,243.8 479.6,243.7 479.8,243.6 480.0,243.5 480.2,243.4 480.4,243.2 480.6,243.1 480.7,242.9 480.9,242.7 481.1,242.5 481.3,242.3 481.5,242.0 481.7,241.7 481.9,241.4 482.1,241.1 482.3,240.7 482.5,240.2 482.7,239.8 482.9,239.2 483.1,238.7 483.2,238.1 483.4,237.4 483.6,236.6 483.8,235.8 484.0,235.0 484.2,234.1 484.4,233.1 484.6,232.0 484.8,230.9 485.0,229.7 485.2,228.5 485.4,227.2 485.6,225.8 485.8,224.3 485.9,222.8 486.1,221.2 486.3,219.6 486.5,217.9 486.7,216.2 486.9,214.4 487.1,212.6 487.3,210.7 487.5,208.9 487.7,207.0 487.9,205.1 488.1,203.2 488.3,201.4 488.4,199.6 488.6,197.8 488.8,196.1 489.0,194.4 489.2,192.8 489.4,191.3 489.6,189.9 489.8,188.6 490.0,187.5 490.2,186.5 490.4,185.6 490.6,184.9 490.8,184.3 491.0,183.9 491.1,183.7 491.3,183.6 491.5,183.8 491.7,184.1 491.9,184.5 492.1,185.2 492.3,186.0 492.5,186.9 492.7,188.0 492.9,189.2 493.1,190.6 493.3,192.0 493.5,193.6 493.6,195.2 493.8,196.9 494.0,198.7 494.2,200.5 494.4,202.3 494.6,204.2 494.8,206.1 495.0,208.0 495.2,209.9 495.4,211.7 495.6,213.6 495.8,215.4 496.0,217.2 496.2,218.9 496.3,220.6 496.5,222.3 496.7,223.9 496.9,225.4 497.1,226.8 497.3,228.2 497.5,229.5 497.7,230.8 497.9,232.0 498.1,233.1 498.3,234.1 498.5,235.1 498.7,236.0 498.8,236.9 499.0,237.7 499.2,238.4 499.4,239.1 499.6,239.7 499.8,240.3 500.0,240.8 500.2,241.3 500.4,241.7 500.6,242.1 500.8,242.5 501.0,242.8 501.2,243.1 501.4,243.4 501.5,243.6 501.7,243.9 501.9,244.1 502.1,244.2 502.3,244.4 502.5,244.6 502.7,244.7 502.9,244.8 503.1,244.9 503.3,245.0 503.5,245.1 503.7,245.2 503.9,245.3 504.0,245.3 504.2,245.4 504.4,245.4 504.6,245.5 504.8,245.6 505.0,245.6 505.2,245.6 505.4,245.7 505.6,245.7 505.8,245.8 506.0,245.8 506.2,245.8 506.4,245.8 506.6,245.9 506.7,245.9 506.9,245.9 507.1,246.0 507.3,246.0 507.5,246.0 507.7,246.0 507.9,246.1 508.1,246.1 508.3,246.1 508.5,246.1 508.7,246.1 508.9,246.2 509.1,246.2 509.2,246.2 509.4,246.2 509.6,246.2 509.8,246.3 510.0,246.3 510.2,246.3 510.4,246.3 510.6,246.3 510.8,246.4 511.0,246.4 511.2,246.4 511.4,246.4 511.6,246.4 511.8,246.4 511.9,246.5 512.1,246.5 512.3,246.5 512.5,246.5 512.7,246.5 512.9,246.5 513.1,246.6 513.3,246.6 513.5,246.6 513.7,246.6 513.9,246.6 514.1,246.6 514.3,246.6 514.4,246.7 514.6,246.7 514.8,246.7 515.0,246.7 515.2,246.7 515.4,246.7 515.6,246.7 515.8,246.8 516.0,246.8 516.2,246.8 516.4,246.8 516.6,246.8 516.8,246.8 517.0,246.8 517.1,246.9 517.3,246.9 517.5,246.9 517.7,246.9 517.9,246.9 518.1,246.9 518.3,246.9 518.5,246.9 518.7,247.0 518.9,247.0 519.1,247.0 519.3,247.0 519.5,247.0 519.6,247.0 519.8,247.0 520.0,247.0 520.2,247.1 520.4,247.1 520.6,247.1 520.8,247.1 521.0,247.1 521.2,247.1 521.4,247.1 521.6,247.1 521.8,247.1 522.0,247.2 522.2,247.2 522.3,247.2 522.5,247.2 522.7,247.2 522.9,247.2 523.1,247.2 523.3,247.2 523.5,247.2" fill="none" stroke="#1414f0" stroke-width="1.50" stroke-linejoin="round" stroke-linecap="round" />
<circle cx="427.4" cy="241.3" r="0.75" fill="#241a50" stroke="#140a30" stroke-width="0.20"/>
<circle cx="429.9" cy="241.1" r="0.75" fill="#241a50" stroke="#140a30" stroke-width="0.20"/>
<circle cx="432.4" cy="241.0" r="0.75" fill="#241a50" stroke="#140a30" stroke-width="0.20"/>
<circle cx="434.9" cy="240.9" r="0.75" fill="#241a50" stroke="#140a30" stroke-width="0.20"/>
<circle cx="437.4" cy="240.9" r="0.75" fill="#241a50" stroke="#140a30" stroke-width="0.20"/>
<circle cx="439.9" cy="240.4" r="0.75" fill="#241a50" stroke="#140a30" stroke-width="0.20"/>
<circle cx="441.8" cy="238.7" r="0.75" fill="#241a50" stroke="#140a30" stroke-width="0.20"/>
<circle cx="443.0" cy="236.5" r="0.75" fill="#241a50" stroke="#140a30" stroke-width="0.20"/>
<circle cx="444.0" cy="233.5" r="0.75" fill="#241a50" stroke="#140a30" stroke-width="0.20"/>
<circle cx="444.7" cy="230.4" r="0.75" fill="#241a50" stroke="#140a30" stroke-width="0.20"/>
<circle cx="445.3" cy="227.5" r="0.75" fill="#241a50" stroke="#140a30" stroke-width="0.20"/>
<circle cx="445.9" cy="224.3" r="0.75" fill="#241a50" stroke="#140a30" stroke-width="0.20"/>
<circle cx="446.5" cy="220.8" r="0.75" fill="#241a50" stroke="#140a30" stroke-width="0.20"/>
<circle cx="447.0" cy="217.1" r="0.75" fill="#241a50" stroke="#140a30" stroke-width="0.20"/>
<circle cx="447.4" cy="214.6" r="0.75" fill="#241a50" stroke="#140a30" stroke-width="0.20"/>
<circle cx="448.0" cy="211.0" r="0.75" fill="#241a50" stroke="#140a30" stroke-width="0.20"/>
<circle cx="448.6" cy="207.6" r="0.75" fill="#241a50" stroke="#140a30" stroke-width="0.20"/>
<circle cx="449.2" cy="204.8" r="0.75" fill="#241a50" stroke="#140a30" stroke-width="0.20"/>
<circle cx="449.9" cy="202.3" r="0.75" fill="#241a50" stroke="#140a30" stroke-width="0.20"/>
<circle cx="451.5" cy="202.5" r="0.75" fill="#241a50" stroke="#140a30" stroke-width="0.20"/>
<circle cx="452.2" cy="205.2" r="0.75" fill="#241a50" stroke="#140a30" stroke-width="0.20"/>
<circle cx="452.8" cy="208.1" r="0.75" fill="#241a50" stroke="#140a30" stroke-width="0.20"/>
<circle cx="453.4" cy="211.6" r="0.75" fill="#241a50" stroke="#140a30" stroke-width="0.20"/>
<circle cx="453.8" cy="214.1" r="0.75" fill="#241a50" stroke="#140a30" stroke-width="0.20"/>
<circle cx="454.2" cy="216.7" r="0.75" fill="#241a50" stroke="#140a30" stroke-width="0.20"/>
<circle cx="454.6" cy="219.2" r="0.75" fill="#241a50" stroke="#140a30" stroke-width="0.20"/>
<circle cx="454.9" cy="221.8" r="0.75" fill="#241a50" stroke="#140a30" stroke-width="0.20"/>
<circle cx="455.5" cy="225.4" r="0.75" fill="#241a50" stroke="#140a30" stroke-width="0.20"/>
<circle cx="456.1" cy="228.8" r="0.75" fill="#241a50" stroke="#140a30" stroke-width="0.20"/>
<circle cx="456.7" cy="231.8" r="0.75" fill="#241a50" stroke="#140a30" stroke-width="0.20"/>
<circle cx="457.3" cy="234.3" r="0.75" fill="#241a50" stroke="#140a30" stroke-width="0.20"/>
<circle cx="458.0" cy="237.1" r="0.75" fill="#241a50" stroke="#140a30" stroke-width="0.20"/>
<circle cx="459.0" cy="239.7" r="0.75" fill="#241a50" stroke="#140a30" stroke-width="0.20"/>
<circle cx="460.3" cy="241.9" r="0.75" fill="#241a50" stroke="#140a30" stroke-width="0.20"/>
<circle cx="462.5" cy="243.3" r="0.75" fill="#241a50" stroke="#140a30" stroke-width="0.20"/>
<circle cx="465.0" cy="243.9" r="0.75" fill="#241a50" stroke="#140a30" stroke-width="0.20"/>
<circle cx="467.5" cy="244.1" r="0.75" fill="#241a50" stroke="#140a30" stroke-width="0.20"/>
<circle cx="470.0" cy="244.3" r="0.75" fill="#241a50" stroke="#140a30" stroke-width="0.20"/>
<circle cx="472.5" cy="244.3" r="0.75" fill="#241a50" stroke="#140a30" stroke-width="0.20"/>
<circle cx="475.0" cy="244.3" r="0.75" fill="#241a50" stroke="#140a30" stroke-width="0.20"/>
<circle cx="477.5" cy="244.2" r="0.75" fill="#241a50" stroke="#140a30" stroke-width="0.20"/>
<circle cx="480.0" cy="243.5" r="0.75" fill="#241a50" stroke="#140a30" stroke-width="0.20"/>
<circle cx="481.9" cy="241.4" r="0.75" fill="#241a50" stroke="#140a30" stroke-width="0.20"/>
<circle cx="483.1" cy="238.7" r="0.75" fill="#241a50" stroke="#140a30" stroke-width="0.20"/>
<circle cx="483.8" cy="235.8" r="0.75" fill="#241a50" stroke="#140a30" stroke-width="0.20"/>
<circle cx="484.4" cy="233.1" r="0.75" fill="#241a50" stroke="#140a30" stroke-width="0.20"/>
<circle cx="485.0" cy="229.7" r="0.75" fill="#241a50" stroke="#140a30" stroke-width="0.20"/>
<circle cx="485.4" cy="227.2" r="0.75" fill="#241a50" stroke="#140a30" stroke-width="0.20"/>
<circle cx="485.8" cy="224.3" r="0.75" fill="#241a50" stroke="#140a30" stroke-width="0.20"/>
<circle cx="486.1" cy="221.2" r="0.75" fill="#241a50" stroke="#140a30" stroke-width="0.20"/>
<circle cx="486.5" cy="217.9" r="0.75" fill="#241a50" stroke="#140a30" stroke-width="0.20"/>
<circle cx="486.9" cy="214.4" r="0.75" fill="#241a50" stroke="#140a30" stroke-width="0.20"/>
<circle cx="487.3" cy="210.7" r="0.75" fill="#241a50" stroke="#140a30" stroke-width="0.20"/>
<circle cx="487.7" cy="207.0" r="0.75" fill="#241a50" stroke="#140a30" stroke-width="0.20"/>
<circle cx="488.1" cy="203.2" r="0.75" fill="#241a50" stroke="#140a30" stroke-width="0.20"/>
<circle cx="488.4" cy="199.6" r="0.75" fill="#241a50" stroke="#140a30" stroke-width="0.20"/>
<circle cx="488.8" cy="196.1" r="0.75" fill="#241a50" stroke="#140a30" stroke-width="0.20"/>
<circle cx="489.2" cy="192.8" r="0.75" fill="#241a50" stroke="#140a30" stroke-width="0.20"/>
<circle cx="489.6" cy="189.9" r="0.75" fill="#241a50" stroke="#140a30" stroke-width="0.20"/>
<circle cx="490.2" cy="186.5" r="0.75" fill="#241a50" stroke="#140a30" stroke-width="0.20"/>
<circle cx="491.0" cy="183.9" r="0.75" fill="#241a50" stroke="#140a30" stroke-width="0.20"/>
<circle cx="492.3" cy="186.0" r="0.75" fill="#241a50" stroke="#140a30" stroke-width="0.20"/>
<circle cx="492.9" cy="189.2" r="0.75" fill="#241a50" stroke="#140a30" stroke-width="0.20"/>
<circle cx="493.3" cy="192.0" r="0.75" fill="#241a50" stroke="#140a30" stroke-width="0.20"/>
<circle cx="493.6" cy="195.2" r="0.75" fill="#241a50" stroke="#140a30" stroke-width="0.20"/>
<circle cx="494.0" cy="198.7" r="0.75" fill="#241a50" stroke="#140a30" stroke-width="0.20"/>
<circle cx="494.4" cy="202.3" r="0.75" fill="#241a50" stroke="#140a30" stroke-width="0.20"/>
<circle cx="494.8" cy="206.1" r="0.75" fill="#241a50" stroke="#140a30" stroke-width="0.20"/>
<circle cx="495.2" cy="209.9" r="0.75" fill="#241a50" stroke="#140a30" stroke-width="0.20"/>
<circle cx="495.6" cy="213.6" r="0.75" fill="#241a50" stroke="#140a30" stroke-width="0.20"/>
<circle cx="496.0" cy="217.2" r="0.75" fill="#241a50" stroke="#140a30" stroke-width="0.20"/>
<circle cx="496.3" cy="220.6" r="0.75" fill="#241a50" stroke="#140a30" stroke-width="0.20"/>
<circle cx="496.7" cy="223.9" r="0.75" fill="#241a50" stroke="#140a30" stroke-width="0.20"/>
<circle cx="497.1" cy="226.8" r="0.75" fill="#241a50" stroke="#140a30" stroke-width="0.20"/>
<circle cx="497.5" cy="229.5" r="0.75" fill="#241a50" stroke="#140a30" stroke-width="0.20"/>
<circle cx="498.1" cy="233.1" r="0.75" fill="#241a50" stroke="#140a30" stroke-width="0.20"/>
<circle cx="498.7" cy="236.0" r="0.75" fill="#241a50" stroke="#140a30" stroke-width="0.20"/>
<circle cx="499.4" cy="239.1" r="0.75" fill="#241a50" stroke="#140a30" stroke-width="0.20"/>
<circle cx="500.4" cy="241.7" r="0.75" fill="#241a50" stroke="#140a30" stroke-width="0.20"/>
<circle cx="501.7" cy="243.9" r="0.75" fill="#241a50" stroke="#140a30" stroke-width="0.20"/>
<circle cx="503.9" cy="245.3" r="0.75" fill="#241a50" stroke="#140a30" stroke-width="0.20"/>
<circle cx="506.4" cy="245.8" r="0.75" fill="#241a50" stroke="#140a30" stroke-width="0.20"/>
<circle cx="508.9" cy="246.2" r="0.75" fill="#241a50" stroke="#140a30" stroke-width="0.20"/>
<circle cx="511.4" cy="246.4" r="0.75" fill="#241a50" stroke="#140a30" stroke-width="0.20"/>
<circle cx="513.9" cy="246.6" r="0.75" fill="#241a50" stroke="#140a30" stroke-width="0.20"/>
<circle cx="516.4" cy="246.8" r="0.75" fill="#241a50" stroke="#140a30" stroke-width="0.20"/>
<circle cx="518.9" cy="247.0" r="0.75" fill="#241a50" stroke="#140a30" stroke-width="0.20"/>
<circle cx="521.4" cy="247.1" r="0.75" fill="#241a50" stroke="#140a30" stroke-width="0.20"/>
<rect x="427.4" y="182.2" width="96.1" height="68.7" fill="none" stroke="#262626" stroke-width="1.10"/>
<line x1="451.4" y1="250.9" x2="451.4" y2="249.3" stroke="#262626" stroke-width="0.90"/>
<line x1="451.4" y1="182.2" x2="451.4" y2="183.8" stroke="#262626" stroke-width="0.90"/>
<line x1="475.4" y1="250.9" x2="475.4" y2="249.3" stroke="#262626" stroke-width="0.90"/>
<line x1="475.4" y1="182.2" x2="475.4" y2="183.8" stroke="#262626" stroke-width="0.90"/>
<line x1="499.5" y1="250.9" x2="499.5" y2="249.3" stroke="#262626" stroke-width="0.90"/>
<line x1="499.5" y1="182.2" x2="499.5" y2="183.8" stroke="#262626" stroke-width="0.90"/>
<line x1="427.4" y1="236.8" x2="429.0" y2="236.8" stroke="#262626" stroke-width="0.90"/>
<line x1="523.5" y1="236.8" x2="521.9" y2="236.8" stroke="#262626" stroke-width="0.90"/>
<line x1="427.4" y1="210.2" x2="429.0" y2="210.2" stroke="#262626" stroke-width="0.90"/>
<line x1="523.5" y1="210.2" x2="521.9" y2="210.2" stroke="#262626" stroke-width="0.90"/>
<text x="450.0" y="262.8" font-family='"Liberation Serif", serif' font-size="11.20" text-anchor="middle" fill="#262626" stroke="#262626" stroke-width="0.22" >495</text>
<text x="474.7" y="262.8" font-family='"Liberation Serif", serif' font-size="11.20" text-anchor="middle" fill="#262626" stroke="#262626" stroke-width="0.22" >490</text>
<text x="498.5" y="262.8" font-family='"Liberation Serif", serif' font-size="11.20" text-anchor="middle" fill="#262626" stroke="#262626" stroke-width="0.22" >485</text>
<text x="423.0" y="187.4" font-family='"Liberation Serif", serif' font-size="11.20" text-anchor="end" fill="#262626" stroke="#262626" stroke-width="0.22" >2.0</text>
<text x="423.0" y="213.8" font-family='"Liberation Serif", serif' font-size="11.20" text-anchor="end" fill="#262626" stroke="#262626" stroke-width="0.22" >1.5</text>
<text x="423.0" y="240.6" font-family='"Liberation Serif", serif' font-size="11.20" text-anchor="end" fill="#262626" stroke="#262626" stroke-width="0.22" >1.0</text>
<text x="430.9" y="196.2" font-family='"Liberation Serif", serif' font-size="11.80" text-anchor="start" fill="#262626" stroke="#262626" stroke-width="0.22" >Sn 3d</text>
<rect x="404.8" y="264.0" width="125.2" height="97.2" fill="#fff"/>
<polyline points="426.4,332.3 428.4,332.4 430.3,332.6 432.3,332.7 434.2,332.9 436.2,333.0 438.2,333.1 440.1,333.3 442.1,333.4 444.0,333.6 446.0,333.7 448.0,333.8 449.9,334.0 451.9,334.1 453.8,334.2 455.8,334.4 457.7,334.5 459.7,334.7 461.7,334.8 463.6,334.9 465.6,335.1 467.5,335.2 469.5,335.3 471.5,335.5 473.4,335.6 475.4,335.8 477.3,335.9 479.3,336.0 481.3,336.2 483.2,336.3 485.2,336.4 487.1,336.6 489.1,336.7 491.1,336.9 493.0,337.0 495.0,337.1 496.9,337.3 498.9,337.4 500.8,337.5 502.8,337.7 504.8,337.8 506.7,338.0 508.7,338.1 510.6,338.2 512.6,338.4 514.6,338.5 516.5,338.6 518.5,338.8 520.4,338.9 522.4,339.1" fill="none" stroke="#111111" stroke-width="2.30" stroke-linejoin="round" stroke-linecap="round" />
<polyline points="469.6,335.1 469.8,335.1 469.9,335.1 470.1,335.2 470.2,335.2 470.4,335.2 470.5,335.2 470.7,335.2 470.8,335.2 471.0,335.2 471.1,335.2 471.3,335.2 471.4,335.2 471.6,335.2 471.7,335.2 471.9,335.2 472.0,335.2 472.2,335.3 472.3,335.3 472.5,335.3 472.7,335.3 472.8,335.3 473.0,335.3 473.1,335.3 473.3,335.3 473.4,335.3 473.6,335.3 473.7,335.3 473.9,335.3 474.0,335.3 474.2,335.3 474.3,335.3 474.5,335.3 474.6,335.3 474.8,335.3 474.9,335.3 475.1,335.3 475.2,335.3 475.4,335.3 475.5,335.3 475.7,335.3 475.9,335.3 476.0,335.3 476.2,335.3 476.3,335.3 476.5,335.3 476.6,335.3 476.8,335.3 476.9,335.3 477.1,335.3 477.2,335.3 477.4,335.3 477.5,335.2 477.7,335.2 477.8,335.2 478.0,335.2 478.1,335.1 478.3,335.1 478.4,335.1 478.6,335.0 478.8,335.0 478.9,334.9 479.1,334.9 479.2,334.8 479.4,334.7 479.5,334.7 479.7,334.6 479.8,334.5 480.0,334.4 480.1,334.2 480.3,334.1 480.4,334.0 480.6,333.8 480.7,333.6 480.9,333.4 481.0,333.2 481.2,333.0 481.3,332.8 481.5,332.5 481.6,332.2 481.8,331.9 482.0,331.6 482.1,331.2 482.3,330.9 482.4,330.5 482.6,330.0 482.7,329.6 482.9,329.1 483.0,328.6 483.2,328.0 483.3,327.4 483.5,326.8 483.6,326.2 483.8,325.5 483.9,324.8 484.1,324.1 484.2,323.4 484.4,322.6 484.5,321.8 484.7,320.9 484.9,320.1 485.0,319.2 485.2,318.2 485.3,317.3 485.5,316.3 485.6,315.4 485.8,314.4 485.9,313.4 486.1,312.4 486.2,311.4 486.4,310.3 486.5,309.3 486.7,308.3 486.8,307.3 487.0,306.3 487.1,305.3 487.3,304.4 487.4,303.5 487.6,302.6 487.7,301.7 487.9,300.9 488.1,300.1 488.2,299.3 488.4,298.6 488.5,298.0 488.7,297.4 488.8,296.9 489.0,296.5 489.1,296.1 489.3,295.8 489.4,295.5 489.6,295.4 489.7,295.3 489.9,295.3 490.0,295.3 490.2,295.5 490.3,295.7 490.5,296.0 490.6,296.3 490.8,296.7 491.0,297.2 491.1,297.8 491.3,298.4 491.4,299.1 491.6,299.8 491.7,300.6 491.9,301.4 492.0,302.3 492.2,303.2 492.3,304.1 492.5,305.1 492.6,306.1 492.8,307.1 492.9,308.1 493.1,309.1 493.2,310.2 493.4,311.2 493.5,312.2 493.7,313.3 493.8,314.3 494.0,315.3 494.2,316.3 494.3,317.3 494.5,318.3 494.6,319.2 494.8,320.2 494.9,321.1 495.1,322.0 495.2,322.8 495.4,323.6 495.5,324.4 495.7,325.2 495.8,325.9 496.0,326.6 496.1,327.3 496.3,328.0 496.4,328.6 496.6,329.2 496.7,329.7 496.9,330.2 497.1,330.7 497.2,331.2 497.4,331.7 497.5,332.1 497.7,332.5 497.8,332.8 498.0,333.2 498.1,333.5 498.3,333.8 498.4,334.1 498.6,334.3 498.7,334.6 498.9,334.8 499.0,335.0 499.2,335.2 499.3,335.3 499.5,335.5 499.6,335.7 499.8,335.8 499.9,335.9 500.1,336.0 500.3,336.1 500.4,336.2 500.6,336.3 500.7,336.4 500.9,336.5 501.0,336.6 501.2,336.6 501.3,336.7 501.5,336.8 501.6,336.8 501.8,336.9 501.9,336.9 502.1,337.0 502.2,337.0 502.4,337.0 502.5,337.1 502.7,337.1 502.8,337.1 503.0,337.2 503.2,337.2 503.3,337.2 503.5,337.2 503.6,337.3 503.8,337.3 503.9,337.3 504.1,337.3 504.2,337.4 504.4,337.4 504.5,337.4 504.7,337.4 504.8,337.4 505.0,337.5 505.1,337.5 505.3,337.5 505.4,337.5 505.6,337.5 505.7,337.5 505.9,337.6 506.0,337.6 506.2,337.6 506.4,337.6 506.5,337.6 506.7,337.6 506.8,337.7 507.0,337.7 507.1,337.7 507.3,337.7 507.4,337.7 507.6,337.7 507.7,337.8 507.9,337.8 508.0,337.8 508.2,337.8 508.3,337.8 508.5,337.8 508.6,337.8 508.8,337.9 508.9,337.9 509.1,337.9 509.3,337.9 509.4,337.9 509.6,337.9 509.7,337.9 509.9,338.0 510.0,338.0 510.2,338.0 510.3,338.0 510.5,338.0 510.6,338.0 510.8,338.0 510.9,338.1 511.1,338.1 511.2,338.1 511.4,338.1 511.5,338.1 511.7,338.1 511.8,338.1 512.0,338.1 512.1,338.2 512.3,338.2 512.5,338.2 512.6,338.2 512.8,338.2 512.9,338.2 513.1,338.2 513.2,338.3 513.4,338.3 513.5,338.3 513.7,338.3 513.8,338.3 514.0,338.3 514.1,338.3 514.3,338.3 514.4,338.4 514.6,338.4 514.7,338.4 514.9,338.4 515.0,338.4 515.2,338.4" fill="none" stroke="#2a2a36" stroke-width="1.50" stroke-linejoin="round" stroke-linecap="round" />
<circle cx="469.6" cy="335.1" r="0.70" fill="#1a1a22" stroke="#1a1a22" stroke-width="0.20"/>
<circle cx="472.3" cy="335.3" r="0.70" fill="#1a1a22" stroke="#1a1a22" stroke-width="0.20"/>
<circle cx="475.1" cy="335.3" r="0.70" fill="#1a1a22" stroke="#1a1a22" stroke-width="0.20"/>
<circle cx="477.8" cy="335.2" r="0.70" fill="#1a1a22" stroke="#1a1a22" stroke-width="0.20"/>
<circle cx="480.3" cy="334.1" r="0.70" fill="#1a1a22" stroke="#1a1a22" stroke-width="0.20"/>
<circle cx="481.8" cy="331.9" r="0.70" fill="#1a1a22" stroke="#1a1a22" stroke-width="0.20"/>
<circle cx="482.9" cy="329.1" r="0.70" fill="#1a1a22" stroke="#1a1a22" stroke-width="0.20"/>
<circle cx="483.6" cy="326.2" r="0.70" fill="#1a1a22" stroke="#1a1a22" stroke-width="0.20"/>
<circle cx="484.2" cy="323.4" r="0.70" fill="#1a1a22" stroke="#1a1a22" stroke-width="0.20"/>
<circle cx="484.9" cy="320.1" r="0.70" fill="#1a1a22" stroke="#1a1a22" stroke-width="0.20"/>
<circle cx="485.3" cy="317.3" r="0.70" fill="#1a1a22" stroke="#1a1a22" stroke-width="0.20"/>
<circle cx="485.8" cy="314.4" r="0.70" fill="#1a1a22" stroke="#1a1a22" stroke-width="0.20"/>
<circle cx="486.2" cy="311.4" r="0.70" fill="#1a1a22" stroke="#1a1a22" stroke-width="0.20"/>
<circle cx="486.7" cy="308.3" r="0.70" fill="#1a1a22" stroke="#1a1a22" stroke-width="0.20"/>
<circle cx="487.1" cy="305.3" r="0.70" fill="#1a1a22" stroke="#1a1a22" stroke-width="0.20"/>
<circle cx="487.6" cy="302.6" r="0.70" fill="#1a1a22" stroke="#1a1a22" stroke-width="0.20"/>
<circle cx="488.2" cy="299.3" r="0.70" fill="#1a1a22" stroke="#1a1a22" stroke-width="0.20"/>
<circle cx="489.0" cy="296.5" r="0.70" fill="#1a1a22" stroke="#1a1a22" stroke-width="0.20"/>
<circle cx="490.6" cy="296.3" r="0.70" fill="#1a1a22" stroke="#1a1a22" stroke-width="0.20"/>
<circle cx="491.4" cy="299.1" r="0.70" fill="#1a1a22" stroke="#1a1a22" stroke-width="0.20"/>
<circle cx="492.0" cy="302.3" r="0.70" fill="#1a1a22" stroke="#1a1a22" stroke-width="0.20"/>
<circle cx="492.5" cy="305.1" r="0.70" fill="#1a1a22" stroke="#1a1a22" stroke-width="0.20"/>
<circle cx="492.9" cy="308.1" r="0.70" fill="#1a1a22" stroke="#1a1a22" stroke-width="0.20"/>
<circle cx="493.4" cy="311.2" r="0.70" fill="#1a1a22" stroke="#1a1a22" stroke-width="0.20"/>
<circle cx="493.8" cy="314.3" r="0.70" fill="#1a1a22" stroke="#1a1a22" stroke-width="0.20"/>
<circle cx="494.3" cy="317.3" r="0.70" fill="#1a1a22" stroke="#1a1a22" stroke-width="0.20"/>
<circle cx="494.8" cy="320.2" r="0.70" fill="#1a1a22" stroke="#1a1a22" stroke-width="0.20"/>
<circle cx="495.2" cy="322.8" r="0.70" fill="#1a1a22" stroke="#1a1a22" stroke-width="0.20"/>
<circle cx="495.8" cy="325.9" r="0.70" fill="#1a1a22" stroke="#1a1a22" stroke-width="0.20"/>
<circle cx="496.4" cy="328.6" r="0.70" fill="#1a1a22" stroke="#1a1a22" stroke-width="0.20"/>
<circle cx="497.2" cy="331.2" r="0.70" fill="#1a1a22" stroke="#1a1a22" stroke-width="0.20"/>
<circle cx="498.3" cy="333.8" r="0.70" fill="#1a1a22" stroke="#1a1a22" stroke-width="0.20"/>
<circle cx="499.9" cy="335.9" r="0.70" fill="#1a1a22" stroke="#1a1a22" stroke-width="0.20"/>
<circle cx="502.4" cy="337.0" r="0.70" fill="#1a1a22" stroke="#1a1a22" stroke-width="0.20"/>
<circle cx="505.0" cy="337.5" r="0.70" fill="#1a1a22" stroke="#1a1a22" stroke-width="0.20"/>
<circle cx="507.6" cy="337.7" r="0.70" fill="#1a1a22" stroke="#1a1a22" stroke-width="0.20"/>
<circle cx="510.2" cy="338.0" r="0.70" fill="#1a1a22" stroke="#1a1a22" stroke-width="0.20"/>
<circle cx="512.8" cy="338.2" r="0.70" fill="#1a1a22" stroke="#1a1a22" stroke-width="0.20"/>
<circle cx="481.6" cy="336.1" r="1.00" fill="#68b08c" stroke="#1f4f36" stroke-width="0.45"/>
<circle cx="482.0" cy="336.2" r="1.00" fill="#68b08c" stroke="#1f4f36" stroke-width="0.45"/>
<circle cx="482.5" cy="336.2" r="1.00" fill="#68b08c" stroke="#1f4f36" stroke-width="0.45"/>
<circle cx="482.9" cy="336.2" r="1.00" fill="#68b08c" stroke="#1f4f36" stroke-width="0.45"/>
<circle cx="483.3" cy="336.2" r="1.00" fill="#68b08c" stroke="#1f4f36" stroke-width="0.45"/>
<circle cx="483.8" cy="336.2" r="1.00" fill="#68b08c" stroke="#1f4f36" stroke-width="0.45"/>
<circle cx="484.2" cy="336.3" r="1.00" fill="#68b08c" stroke="#1f4f36" stroke-width="0.45"/>
<circle cx="484.6" cy="336.3" r="1.00" fill="#68b08c" stroke="#1f4f36" stroke-width="0.45"/>
<circle cx="485.1" cy="336.2" r="1.00" fill="#68b08c" stroke="#1f4f36" stroke-width="0.45"/>
<circle cx="485.5" cy="336.2" r="1.00" fill="#68b08c" stroke="#1f4f36" stroke-width="0.45"/>
<circle cx="485.9" cy="336.1" r="1.00" fill="#68b08c" stroke="#1f4f36" stroke-width="0.45"/>
<circle cx="486.4" cy="336.0" r="1.00" fill="#68b08c" stroke="#1f4f36" stroke-width="0.45"/>
<circle cx="486.8" cy="335.7" r="1.00" fill="#68b08c" stroke="#1f4f36" stroke-width="0.45"/>
<circle cx="487.2" cy="335.3" r="1.00" fill="#68b08c" stroke="#1f4f36" stroke-width="0.45"/>
<circle cx="487.6" cy="334.7" r="1.00" fill="#68b08c" stroke="#1f4f36" stroke-width="0.45"/>
<circle cx="488.1" cy="333.9" r="1.00" fill="#68b08c" stroke="#1f4f36" stroke-width="0.45"/>
<circle cx="488.5" cy="332.7" r="1.00" fill="#68b08c" stroke="#1f4f36" stroke-width="0.45"/>
<circle cx="488.9" cy="331.1" r="1.00" fill="#68b08c" stroke="#1f4f36" stroke-width="0.45"/>
<circle cx="489.4" cy="329.1" r="1.00" fill="#68b08c" stroke="#1f4f36" stroke-width="0.45"/>
<circle cx="489.8" cy="326.8" r="1.00" fill="#68b08c" stroke="#1f4f36" stroke-width="0.45"/>
<circle cx="490.2" cy="324.2" r="1.00" fill="#68b08c" stroke="#1f4f36" stroke-width="0.45"/>
<circle cx="490.7" cy="321.3" r="1.00" fill="#68b08c" stroke="#1f4f36" stroke-width="0.45"/>
<circle cx="491.1" cy="318.5" r="1.00" fill="#68b08c" stroke="#1f4f36" stroke-width="0.45"/>
<circle cx="491.5" cy="315.9" r="1.00" fill="#68b08c" stroke="#1f4f36" stroke-width="0.45"/>
<circle cx="492.0" cy="313.8" r="1.00" fill="#68b08c" stroke="#1f4f36" stroke-width="0.45"/>
<circle cx="492.4" cy="312.4" r="1.00" fill="#68b08c" stroke="#1f4f36" stroke-width="0.45"/>
<circle cx="492.8" cy="311.9" r="1.00" fill="#68b08c" stroke="#1f4f36" stroke-width="0.45"/>
<circle cx="493.3" cy="312.3" r="1.00" fill="#68b08c" stroke="#1f4f36" stroke-width="0.45"/>
<circle cx="493.7" cy="313.6" r="1.00" fill="#68b08c" stroke="#1f4f36" stroke-width="0.45"/>
<circle cx="494.1" cy="315.6" r="1.00" fill="#68b08c" stroke="#1f4f36" stroke-width="0.45"/>
<circle cx="494.6" cy="318.1" r="1.00" fill="#68b08c" stroke="#1f4f36" stroke-width="0.45"/>
<circle cx="495.0" cy="321.0" r="1.00" fill="#68b08c" stroke="#1f4f36" stroke-width="0.45"/>
<circle cx="495.4" cy="323.9" r="1.00" fill="#68b08c" stroke="#1f4f36" stroke-width="0.45"/>
<circle cx="495.9" cy="326.7" r="1.00" fill="#68b08c" stroke="#1f4f36" stroke-width="0.45"/>
<circle cx="496.3" cy="329.1" r="1.00" fill="#68b08c" stroke="#1f4f36" stroke-width="0.45"/>
<circle cx="496.7" cy="331.3" r="1.00" fill="#68b08c" stroke="#1f4f36" stroke-width="0.45"/>
<circle cx="497.2" cy="333.0" r="1.00" fill="#68b08c" stroke="#1f4f36" stroke-width="0.45"/>
<circle cx="497.6" cy="334.3" r="1.00" fill="#68b08c" stroke="#1f4f36" stroke-width="0.45"/>
<circle cx="498.0" cy="335.3" r="1.00" fill="#68b08c" stroke="#1f4f36" stroke-width="0.45"/>
<circle cx="498.4" cy="336.0" r="1.00" fill="#68b08c" stroke="#1f4f36" stroke-width="0.45"/>
<circle cx="498.9" cy="336.5" r="1.00" fill="#68b08c" stroke="#1f4f36" stroke-width="0.45"/>
<circle cx="499.3" cy="336.8" r="1.00" fill="#68b08c" stroke="#1f4f36" stroke-width="0.45"/>
<circle cx="499.7" cy="337.1" r="1.00" fill="#68b08c" stroke="#1f4f36" stroke-width="0.45"/>
<circle cx="500.2" cy="337.2" r="1.00" fill="#68b08c" stroke="#1f4f36" stroke-width="0.45"/>
<circle cx="500.6" cy="337.3" r="1.00" fill="#68b08c" stroke="#1f4f36" stroke-width="0.45"/>
<circle cx="501.0" cy="337.4" r="1.00" fill="#68b08c" stroke="#1f4f36" stroke-width="0.45"/>
<circle cx="501.5" cy="337.5" r="1.00" fill="#68b08c" stroke="#1f4f36" stroke-width="0.45"/>
<circle cx="501.9" cy="337.5" r="1.00" fill="#68b08c" stroke="#1f4f36" stroke-width="0.45"/>
<circle cx="502.3" cy="337.6" r="1.00" fill="#68b08c" stroke="#1f4f36" stroke-width="0.45"/>
<circle cx="502.8" cy="337.6" r="1.00" fill="#68b08c" stroke="#1f4f36" stroke-width="0.45"/>
<circle cx="503.2" cy="337.6" r="1.00" fill="#68b08c" stroke="#1f4f36" stroke-width="0.45"/>
<circle cx="503.6" cy="337.7" r="1.00" fill="#68b08c" stroke="#1f4f36" stroke-width="0.45"/>
<circle cx="504.1" cy="337.7" r="1.00" fill="#68b08c" stroke="#1f4f36" stroke-width="0.45"/>
<circle cx="504.5" cy="337.7" r="1.00" fill="#68b08c" stroke="#1f4f36" stroke-width="0.45"/>
<circle cx="504.9" cy="337.8" r="1.00" fill="#68b08c" stroke="#1f4f36" stroke-width="0.45"/>
<circle cx="505.4" cy="337.8" r="1.00" fill="#68b08c" stroke="#1f4f36" stroke-width="0.45"/>
<polyline points="433.6,332.6 433.8,332.6 433.9,332.7 434.1,332.7 434.3,332.7 434.4,332.7 434.6,332.7 434.8,332.7 434.9,332.7 435.1,332.7 435.3,332.7 435.5,332.7 435.6,332.7 435.8,332.7 436.0,332.8 436.1,332.8 436.3,332.8 436.5,332.8 436.6,332.8 436.8,332.8 437.0,332.8 437.1,332.8 437.3,332.8 437.5,332.8 437.6,332.8 437.8,332.8 438.0,332.8 438.2,332.9 438.3,332.9 438.5,332.9 438.7,332.9 438.8,332.9 439.0,332.9 439.2,332.9 439.3,332.9 439.5,332.9 439.7,332.9 439.8,332.9 440.0,332.9 440.2,332.9 440.3,332.9 440.5,332.9 440.7,332.9 440.8,332.9 441.0,332.9 441.2,332.9 441.4,332.9 441.5,332.9 441.7,332.9 441.9,332.9 442.0,332.9 442.2,332.9 442.4,332.9 442.5,332.8 442.7,332.8 442.9,332.8 443.0,332.8 443.2,332.8 443.4,332.7 443.5,332.7 443.7,332.6 443.9,332.6 444.1,332.5 444.2,332.5 444.4,332.4 444.6,332.3 444.7,332.2 444.9,332.1 445.1,332.0 445.2,331.9 445.4,331.8 445.6,331.6 445.7,331.5 445.9,331.3 446.1,331.1 446.2,330.9 446.4,330.7 446.6,330.4 446.7,330.1 446.9,329.8 447.1,329.5 447.3,329.2 447.4,328.8 447.6,328.4 447.8,328.0 447.9,327.5 448.1,327.0 448.3,326.5 448.4,326.0 448.6,325.4 448.8,324.8 448.9,324.1 449.1,323.4 449.3,322.7 449.4,322.0 449.6,321.2 449.8,320.4 450.0,319.5 450.1,318.7 450.3,317.8 450.5,316.9 450.6,315.9 450.8,315.0 451.0,314.0 451.1,313.0 451.3,312.0 451.5,311.0 451.6,310.0 451.8,309.0 452.0,308.0 452.1,307.0 452.3,306.1 452.5,305.1 452.6,304.2 452.8,303.3 453.0,302.4 453.2,301.6 453.3,300.8 453.5,300.1 453.7,299.4 453.8,298.8 454.0,298.2 454.2,297.7 454.3,297.3 454.5,296.9 454.7,296.6 454.8,296.4 455.0,296.3 455.2,296.3 455.3,296.3 455.5,296.4 455.7,296.6 455.9,296.9 456.0,297.3 456.2,297.7 456.4,298.2 456.5,298.8 456.7,299.4 456.9,300.1 457.0,300.8 457.2,301.6 457.4,302.5 457.5,303.4 457.7,304.3 457.9,305.2 458.0,306.2 458.2,307.2 458.4,308.2 458.5,309.2 458.7,310.2 458.9,311.3 459.1,312.3 459.2,313.3 459.4,314.3 459.6,315.3 459.7,316.3 459.9,317.3 460.1,318.2 460.2,319.1 460.4,320.0 460.6,320.9 460.7,321.7 460.9,322.5 461.1,323.3 461.2,324.1 461.4,324.8 461.6,325.5 461.7,326.1 461.9,326.7 462.1,327.3 462.3,327.9 462.4,328.4 462.6,328.9 462.8,329.4 462.9,329.8 463.1,330.2 463.3,330.6 463.4,330.9 463.6,331.2 463.8,331.5 463.9,331.8 464.1,332.1 464.3,332.3 464.4,332.6 464.6,332.8 464.8,332.9 465.0,333.1 465.1,333.3 465.3,333.4 465.5,333.6 465.6,333.7 465.8,333.8 466.0,333.9 466.1,334.0 466.3,334.1 466.5,334.2 466.6,334.2 466.8,334.3 467.0,334.4 467.1,334.4 467.3,334.5 467.5,334.5 467.6,334.6 467.8,334.6 468.0,334.7 468.2,334.7 468.3,334.7 468.5,334.8 468.7,334.8 468.8,334.8 469.0,334.8 469.2,334.9 469.3,334.9 469.5,334.9 469.7,334.9 469.8,335.0 470.0,335.0 470.2,335.0 470.3,335.0 470.5,335.1 470.7,335.1 470.9,335.1 471.0,335.1 471.2,335.1 471.4,335.2 471.5,335.2 471.7,335.2 471.9,335.2 472.0,335.2 472.2,335.2 472.4,335.3 472.5,335.3 472.7,335.3 472.9,335.3 473.0,335.3 473.2,335.3 473.4,335.4 473.5,335.4 473.7,335.4 473.9,335.4 474.1,335.4 474.2,335.4 474.4,335.5 474.6,335.5 474.7,335.5 474.9,335.5 475.1,335.5 475.2,335.5 475.4,335.5 475.6,335.6 475.7,335.6 475.9,335.6 476.1,335.6 476.2,335.6 476.4,335.6 476.6,335.7 476.8,335.7 476.9,335.7 477.1,335.7 477.3,335.7 477.4,335.7 477.6,335.7 477.8,335.8 477.9,335.8 478.1,335.8 478.3,335.8 478.4,335.8 478.6,335.8 478.8,335.8 478.9,335.9 479.1,335.9 479.3,335.9 479.4,335.9 479.6,335.9 479.8,335.9 480.0,335.9 480.1,335.9 480.3,336.0 480.5,336.0 480.6,336.0 480.8,336.0 481.0,336.0 481.1,336.0 481.3,336.0 481.5,336.1 481.6,336.1 481.8,336.1 482.0,336.1 482.1,336.1 482.3,336.1 482.5,336.1 482.7,336.2 482.8,336.2 483.0,336.2 483.2,336.2 483.3,336.2 483.5,336.2 483.7,336.2 483.8,336.2 484.0,336.3" fill="none" stroke="#3a0404" stroke-width="1.80" stroke-linejoin="round" stroke-linecap="round" />
<circle cx="433.6" cy="332.6" r="0.70" fill="#d02020" stroke="#a01010" stroke-width="0.20"/>
<circle cx="436.3" cy="332.8" r="0.70" fill="#d02020" stroke="#a01010" stroke-width="0.20"/>
<circle cx="439.0" cy="332.9" r="0.70" fill="#d02020" stroke="#a01010" stroke-width="0.20"/>
<circle cx="441.7" cy="332.9" r="0.70" fill="#d02020" stroke="#a01010" stroke-width="0.20"/>
<circle cx="444.4" cy="332.4" r="0.70" fill="#d02020" stroke="#a01010" stroke-width="0.20"/>
<circle cx="446.4" cy="330.7" r="0.70" fill="#d02020" stroke="#a01010" stroke-width="0.20"/>
<circle cx="447.8" cy="328.0" r="0.70" fill="#d02020" stroke="#a01010" stroke-width="0.20"/>
<circle cx="448.6" cy="325.4" r="0.70" fill="#d02020" stroke="#a01010" stroke-width="0.20"/>
<circle cx="449.3" cy="322.7" r="0.70" fill="#d02020" stroke="#a01010" stroke-width="0.20"/>
<circle cx="450.0" cy="319.5" r="0.70" fill="#d02020" stroke="#a01010" stroke-width="0.20"/>
<circle cx="450.5" cy="316.9" r="0.70" fill="#d02020" stroke="#a01010" stroke-width="0.20"/>
<circle cx="451.0" cy="314.0" r="0.70" fill="#d02020" stroke="#a01010" stroke-width="0.20"/>
<circle cx="451.5" cy="311.0" r="0.70" fill="#d02020" stroke="#a01010" stroke-width="0.20"/>
<circle cx="452.0" cy="308.0" r="0.70" fill="#d02020" stroke="#a01010" stroke-width="0.20"/>
<circle cx="452.5" cy="305.1" r="0.70" fill="#d02020" stroke="#a01010" stroke-width="0.20"/>
<circle cx="453.0" cy="302.4" r="0.70" fill="#d02020" stroke="#a01010" stroke-width="0.20"/>
<circle cx="453.7" cy="299.4" r="0.70" fill="#d02020" stroke="#a01010" stroke-width="0.20"/>
<circle cx="454.5" cy="296.9" r="0.70" fill="#d02020" stroke="#a01010" stroke-width="0.20"/>
<circle cx="456.2" cy="297.7" r="0.70" fill="#d02020" stroke="#a01010" stroke-width="0.20"/>
<circle cx="457.0" cy="300.8" r="0.70" fill="#d02020" stroke="#a01010" stroke-width="0.20"/>
<circle cx="457.7" cy="304.3" r="0.70" fill="#d02020" stroke="#a01010" stroke-width="0.20"/>
<circle cx="458.2" cy="307.2" r="0.70" fill="#d02020" stroke="#a01010" stroke-width="0.20"/>
<circle cx="458.7" cy="310.2" r="0.70" fill="#d02020" stroke="#a01010" stroke-width="0.20"/>
<circle cx="459.2" cy="313.3" r="0.70" fill="#d02020" stroke="#a01010" stroke-width="0.20"/>
<circle cx="459.7" cy="316.3" r="0.70" fill="#d02020" stroke="#a01010" stroke-width="0.20"/>
<circle cx="460.2" cy="319.1" r="0.70" fill="#d02020" stroke="#a01010" stroke-width="0.20"/>
<circle cx="460.7" cy="321.7" r="0.70" fill="#d02020" stroke="#a01010" stroke-width="0.20"/>
<circle cx="461.4" cy="324.8" r="0.70" fill="#d02020" stroke="#a01010" stroke-width="0.20"/>
<circle cx="462.1" cy="327.3" r="0.70" fill="#d02020" stroke="#a01010" stroke-width="0.20"/>
<circle cx="462.9" cy="329.8" r="0.70" fill="#d02020" stroke="#a01010" stroke-width="0.20"/>
<circle cx="464.3" cy="332.3" r="0.70" fill="#d02020" stroke="#a01010" stroke-width="0.20"/>
<circle cx="466.3" cy="334.1" r="0.70" fill="#d02020" stroke="#a01010" stroke-width="0.20"/>
<circle cx="468.8" cy="334.8" r="0.70" fill="#d02020" stroke="#a01010" stroke-width="0.20"/>
<circle cx="471.5" cy="335.2" r="0.70" fill="#d02020" stroke="#a01010" stroke-width="0.20"/>
<circle cx="474.2" cy="335.4" r="0.70" fill="#d02020" stroke="#a01010" stroke-width="0.20"/>
<circle cx="476.9" cy="335.7" r="0.70" fill="#d02020" stroke="#a01010" stroke-width="0.20"/>
<circle cx="479.6" cy="335.9" r="0.70" fill="#d02020" stroke="#a01010" stroke-width="0.20"/>
<circle cx="482.3" cy="336.1" r="0.70" fill="#d02020" stroke="#a01010" stroke-width="0.20"/>
<polyline points="425.8,331.7 426.0,331.7 426.2,331.7 426.4,331.7 426.6,331.7 426.8,331.7 427.0,331.7 427.1,331.8 427.3,331.8 427.5,331.8 427.7,331.8 427.9,331.8 428.1,331.8 428.3,331.8 428.5,331.8 428.7,331.9 428.9,331.9 429.1,331.9 429.3,331.9 429.5,331.9 429.6,331.9 429.8,331.9 430.0,331.9 430.2,332.0 430.4,332.0 430.6,332.0 430.8,332.0 431.0,332.0 431.2,332.0 431.4,332.0 431.6,332.0 431.8,332.1 432.0,332.1 432.1,332.1 432.3,332.1 432.5,332.1 432.7,332.1 432.9,332.1 433.1,332.1 433.3,332.1 433.5,332.2 433.7,332.2 433.9,332.2 434.1,332.2 434.3,332.2 434.5,332.2 434.6,332.2 434.8,332.2 435.0,332.2 435.2,332.2 435.4,332.3 435.6,332.3 435.8,332.3 436.0,332.3 436.2,332.3 436.4,332.3 436.6,332.3 436.8,332.3 437.0,332.3 437.2,332.3 437.3,332.3 437.5,332.4 437.7,332.4 437.9,332.4 438.1,332.4 438.3,332.4 438.5,332.4 438.7,332.4 438.9,332.4 439.1,332.4 439.3,332.4 439.5,332.4 439.7,332.4 439.8,332.4 440.0,332.4 440.2,332.4 440.4,332.4 440.6,332.4 440.8,332.4 441.0,332.4 441.2,332.4 441.4,332.4 441.6,332.4 441.8,332.4 442.0,332.4 442.2,332.3 442.3,332.3 442.5,332.3 442.7,332.3 442.9,332.2 443.1,332.2 443.3,332.1 443.5,332.1 443.7,332.0 443.9,331.9 444.1,331.8 444.3,331.7 444.5,331.6 444.7,331.4 444.8,331.3 445.0,331.1 445.2,330.9 445.4,330.7 445.6,330.5 445.8,330.2 446.0,329.9 446.2,329.6 446.4,329.3 446.6,328.9 446.8,328.5 447.0,328.0 447.2,327.5 447.3,327.0 447.5,326.4 447.7,325.8 447.9,325.2 448.1,324.5 448.3,323.8 448.5,323.0 448.7,322.2 448.9,321.3 449.1,320.4 449.3,319.5 449.5,318.5 449.7,317.5 449.8,316.5 450.0,315.4 450.2,314.3 450.4,313.2 450.6,312.1 450.8,310.9 451.0,309.8 451.2,308.6 451.4,307.5 451.6,306.4 451.8,305.3 452.0,304.2 452.2,303.2 452.3,302.2 452.5,301.2 452.7,300.3 452.9,299.5 453.1,298.7 453.3,298.0 453.5,297.4 453.7,296.9 453.9,296.5 454.1,296.2 454.3,296.0 454.5,295.8 454.7,295.8 454.9,295.9 455.0,296.1 455.2,296.4 455.4,296.9 455.6,297.4 455.8,297.9 456.0,298.6 456.2,299.4 456.4,300.2 456.6,301.1 456.8,302.1 457.0,303.1 457.2,304.1 457.4,305.2 457.5,306.4 457.7,307.5 457.9,308.7 458.1,309.8 458.3,311.0 458.5,312.2 458.7,313.3 458.9,314.5 459.1,315.6 459.3,316.7 459.5,317.8 459.7,318.8 459.9,319.8 460.0,320.8 460.2,321.8 460.4,322.7 460.6,323.5 460.8,324.3 461.0,325.1 461.2,325.9 461.4,326.5 461.6,327.2 461.8,327.8 462.0,328.4 462.2,328.9 462.4,329.4 462.5,329.8 462.7,330.3 462.9,330.6 463.1,331.0 463.3,331.3 463.5,331.6 463.7,331.9 463.9,332.1 464.1,332.4 464.3,332.6 464.5,332.8 464.7,332.9 464.9,333.1 465.0,333.2 465.2,333.4 465.4,333.5 465.6,333.6 465.8,333.7 466.0,333.7 466.2,333.8 466.4,333.9 466.6,334.0 466.8,334.0 467.0,334.1 467.2,334.1 467.4,334.2 467.5,334.2 467.7,334.2 467.9,334.3 468.1,334.3 468.3,334.3 468.5,334.4 468.7,334.4 468.9,334.4 469.1,334.4 469.3,334.5 469.5,334.5 469.7,334.5 469.9,334.5 470.0,334.5 470.2,334.6 470.4,334.6 470.6,334.6 470.8,334.6 471.0,334.6 471.2,334.6 471.4,334.7 471.6,334.7 471.8,334.7 472.0,334.7 472.2,334.7 472.4,334.7 472.5,334.7 472.7,334.8 472.9,334.8 473.1,334.8 473.3,334.8 473.5,334.8 473.7,334.8 473.9,334.8 474.1,334.8 474.3,334.8 474.5,334.8 474.7,334.8 474.9,334.8 475.1,334.9 475.2,334.9 475.4,334.9 475.6,334.9 475.8,334.9 476.0,334.9 476.2,334.8 476.4,334.8 476.6,334.8 476.8,334.8 477.0,334.8 477.2,334.8 477.4,334.7 477.6,334.7 477.7,334.7 477.9,334.6 478.1,334.6 478.3,334.5 478.5,334.4 478.7,334.3 478.9,334.2 479.1,334.1 479.3,334.0 479.5,333.9 479.7,333.7 479.9,333.5 480.1,333.3 480.2,333.1 480.4,332.8 480.6,332.5 480.8,332.2 481.0,331.9 481.2,331.5 481.4,331.1 481.6,330.6 481.8,330.1 482.0,329.6 482.2,329.0 482.4,328.4 482.6,327.7 482.7,327.0 482.9,326.2 483.1,325.4 483.3,324.5 483.5,323.6 483.7,322.6 483.9,321.6 484.1,320.5 484.3,319.4 484.5,318.2 484.7,317.0 484.9,315.8 485.1,314.5 485.2,313.2 485.4,311.9 485.6,310.5 485.8,309.2 486.0,307.8 486.2,306.3 486.4,304.9 486.6,303.5 486.8,302.1 487.0,300.6 487.2,299.2 487.4,297.8 487.6,296.3 487.7,294.9 487.9,293.5 488.1,292.2 488.3,290.8 488.5,289.5 488.7,288.2 488.9,286.9 489.1,285.7 489.3,284.6 489.5,283.5 489.7,282.5 489.9,281.5 490.1,280.7 490.2,280.0 490.4,279.4 490.6,278.9 490.8,278.6 491.0,278.5 491.2,278.5 491.4,278.8 491.6,279.2 491.8,279.8 492.0,280.7 492.2,281.7 492.4,283.0 492.6,284.5 492.7,286.2 492.9,288.0 493.1,290.0 493.3,292.1 493.5,294.4 493.7,296.7 493.9,299.1 494.1,301.5 494.3,303.9 494.5,306.3 494.7,308.6 494.9,310.9 495.1,313.1 495.3,315.3 495.4,317.3 495.6,319.2 495.8,321.0 496.0,322.6 496.2,324.2 496.4,325.6 496.6,326.8 496.8,328.0 497.0,329.1 497.2,330.0 497.4,330.8 497.6,331.6 497.8,332.3 497.9,332.8 498.1,333.4 498.3,333.8 498.5,334.2 498.7,334.6 498.9,334.9 499.1,335.1 499.3,335.4 499.5,335.6 499.7,335.7 499.9,335.9 500.1,336.0 500.3,336.2 500.4,336.3 500.6,336.4 500.8,336.5 501.0,336.5 501.2,336.6 501.4,336.7 501.6,336.7 501.8,336.8 502.0,336.8 502.2,336.9 502.4,336.9 502.6,337.0 502.8,337.0 502.9,337.0 503.1,337.1 503.3,337.1 503.5,337.1 503.7,337.2 503.9,337.2 504.1,337.2 504.3,337.3 504.5,337.3 504.7,337.3 504.9,337.3 505.1,337.4 505.3,337.4 505.4,337.4 505.6,337.4 505.8,337.5 506.0,337.5 506.2,337.5 506.4,337.5 506.6,337.5 506.8,337.6 507.0,337.6 507.2,337.6 507.4,337.6 507.6,337.7 507.8,337.7 507.9,337.7 508.1,337.7 508.3,337.7 508.5,337.8 508.7,337.8 508.9,337.8 509.1,337.8 509.3,337.8 509.5,337.9 509.7,337.9 509.9,337.9 510.1,337.9 510.3,337.9 510.4,337.9 510.6,338.0 510.8,338.0 511.0,338.0 511.2,338.0 511.4,338.0 511.6,338.1 511.8,338.1 512.0,338.1 512.2,338.1 512.4,338.1 512.6,338.1 512.8,338.2 513.0,338.2 513.1,338.2 513.3,338.2 513.5,338.2 513.7,338.3 513.9,338.3 514.1,338.3 514.3,338.3 514.5,338.3 514.7,338.3 514.9,338.4 515.1,338.4 515.3,338.4 515.5,338.4 515.6,338.4 515.8,338.4 516.0,338.5 516.2,338.5 516.4,338.5 516.6,338.5 516.8,338.5 517.0,338.5 517.2,338.6 517.4,338.6 517.6,338.6 517.8,338.6 518.0,338.6 518.1,338.6 518.3,338.7 518.5,338.7 518.7,338.7 518.9,338.7 519.1,338.7 519.3,338.7 519.5,338.8 519.7,338.8 519.9,338.8 520.1,338.8 520.3,338.8 520.5,338.8 520.6,338.8 520.8,338.9 521.0,338.9 521.2,338.9 521.4,338.9 521.6,338.9 521.8,338.9" fill="none" stroke="#e81010" stroke-width="1.30" stroke-linejoin="round" stroke-linecap="round" />
<polyline points="426.4,331.7 426.6,331.7 426.8,331.7 427.0,331.7 427.2,331.7 427.4,331.7 427.6,331.7 427.7,331.8 427.9,331.8 428.1,331.8 428.3,331.8 428.5,331.8 428.7,331.8 428.9,331.8 429.1,331.8 429.3,331.9 429.5,331.9 429.7,331.9 429.9,331.9 430.1,331.9 430.2,331.9 430.4,331.9 430.6,331.9 430.8,332.0 431.0,332.0 431.2,332.0 431.4,332.0 431.6,332.0 431.8,332.0 432.0,332.0 432.2,332.0 432.4,332.1 432.6,332.1 432.7,332.1 432.9,332.1 433.1,332.1 433.3,332.1 433.5,332.1 433.7,332.1 433.9,332.1 434.1,332.2 434.3,332.2 434.5,332.2 434.7,332.2 434.9,332.2 435.1,332.2 435.2,332.2 435.4,332.2 435.6,332.2 435.8,332.2 436.0,332.3 436.2,332.3 436.4,332.3 436.6,332.3 436.8,332.3 437.0,332.3 437.2,332.3 437.4,332.3 437.6,332.3 437.8,332.3 437.9,332.3 438.1,332.4 438.3,332.4 438.5,332.4 438.7,332.4 438.9,332.4 439.1,332.4 439.3,332.4 439.5,332.4 439.7,332.4 439.9,332.4 440.1,332.4 440.3,332.4 440.4,332.4 440.6,332.4 440.8,332.4 441.0,332.4 441.2,332.4 441.4,332.4 441.6,332.4 441.8,332.4 442.0,332.4 442.2,332.4 442.4,332.4 442.6,332.4 442.8,332.3 442.9,332.3 443.1,332.3 443.3,332.3 443.5,332.2 443.7,332.2 443.9,332.1 444.1,332.1 444.3,332.0 444.5,331.9 444.7,331.8 444.9,331.7 445.1,331.6 445.3,331.4 445.4,331.3 445.6,331.1 445.8,330.9 446.0,330.7 446.2,330.5 446.4,330.2 446.6,329.9 446.8,329.6 447.0,329.3 447.2,328.9 447.4,328.5 447.6,328.0 447.8,327.5 447.9,327.0 448.1,326.4 448.3,325.8 448.5,325.2 448.7,324.5 448.9,323.8 449.1,323.0 449.3,322.2 449.5,321.3 449.7,320.4 449.9,319.5 450.1,318.5 450.3,317.5 450.4,316.5 450.6,315.4 450.8,314.3 451.0,313.2 451.2,312.1 451.4,310.9 451.6,309.8 451.8,308.6 452.0,307.5 452.2,306.4 452.4,305.3 452.6,304.2 452.8,303.2 452.9,302.2 453.1,301.2 453.3,300.3 453.5,299.5 453.7,298.7 453.9,298.0 454.1,297.4 454.3,296.9 454.5,296.5 454.7,296.2 454.9,296.0 455.1,295.8 455.3,295.8 455.5,295.9 455.6,296.1 455.8,296.4 456.0,296.9 456.2,297.4 456.4,297.9 456.6,298.6 456.8,299.4 457.0,300.2 457.2,301.1 457.4,302.1 457.6,303.1 457.8,304.1 458.0,305.2 458.1,306.4 458.3,307.5 458.5,308.7 458.7,309.8 458.9,311.0 459.1,312.2 459.3,313.3 459.5,314.5 459.7,315.6 459.9,316.7 460.1,317.8 460.3,318.8 460.5,319.8 460.6,320.8 460.8,321.8 461.0,322.7 461.2,323.5 461.4,324.3 461.6,325.1 461.8,325.9 462.0,326.5 462.2,327.2 462.4,327.8 462.6,328.4 462.8,328.9 463.0,329.4 463.1,329.8 463.3,330.3 463.5,330.6 463.7,331.0 463.9,331.3 464.1,331.6 464.3,331.9 464.5,332.1 464.7,332.4 464.9,332.6 465.1,332.8 465.3,332.9 465.5,333.1 465.6,333.2 465.8,333.4 466.0,333.5 466.2,333.6 466.4,333.7 466.6,333.7 466.8,333.8 467.0,333.9 467.2,334.0 467.4,334.0 467.6,334.1 467.8,334.1 468.0,334.2 468.1,334.2 468.3,334.2 468.5,334.3 468.7,334.3 468.9,334.3 469.1,334.4 469.3,334.4 469.5,334.4 469.7,334.4 469.9,334.5 470.1,334.5 470.3,334.5 470.5,334.5 470.6,334.5 470.8,334.6 471.0,334.6 471.2,334.6 471.4,334.6 471.6,334.6 471.8,334.6 472.0,334.7 472.2,334.7 472.4,334.7 472.6,334.7 472.8,334.7 473.0,334.7 473.1,334.7 473.3,334.8 473.5,334.8 473.7,334.8 473.9,334.8 474.1,334.8 474.3,334.8 474.5,334.8 474.7,334.8 474.9,334.8 475.1,334.8 475.3,334.8 475.5,334.8 475.7,334.9 475.8,334.9 476.0,334.9 476.2,334.9 476.4,334.9 476.6,334.9 476.8,334.8 477.0,334.8 477.2,334.8 477.4,334.8 477.6,334.8 477.8,334.8 478.0,334.7 478.2,334.7 478.3,334.7 478.5,334.6 478.7,334.6 478.9,334.5 479.1,334.4 479.3,334.3 479.5,334.2 479.7,334.1 479.9,334.0 480.1,333.9 480.3,333.7 480.5,333.5 480.7,333.3 480.8,333.1 481.0,332.8 481.2,332.5 481.4,332.2 481.6,331.9 481.8,331.5 482.0,331.1 482.2,330.6 482.4,330.1 482.6,329.6 482.8,329.0 483.0,328.4 483.2,327.7 483.3,327.0 483.5,326.2 483.7,325.4 483.9,324.5 484.1,323.6 484.3,322.6 484.5,321.6 484.7,320.5 484.9,319.4 485.1,318.2 485.3,317.0 485.5,315.8 485.7,314.5 485.8,313.2 486.0,311.9 486.2,310.5 486.4,309.2 486.6,307.8 486.8,306.3 487.0,304.9 487.2,303.5 487.4,302.1 487.6,300.6 487.8,299.2 488.0,297.8 488.2,296.3 488.3,294.9 488.5,293.5 488.7,292.2 488.9,290.8 489.1,289.5 489.3,288.2 489.5,286.9 489.7,285.7 489.9,284.6 490.1,283.5 490.3,282.5 490.5,281.5 490.7,280.7 490.8,280.0 491.0,279.4 491.2,278.9 491.4,278.6 491.6,278.5 491.8,278.5 492.0,278.8 492.2,279.2 492.4,279.8 492.6,280.7 492.8,281.7 493.0,283.0 493.2,284.5 493.3,286.2 493.5,288.0 493.7,290.0 493.9,292.1 494.1,294.4 494.3,296.7 494.5,299.1 494.7,301.5 494.9,303.9 495.1,306.3 495.3,308.6 495.5,310.9 495.7,313.1 495.9,315.3 496.0,317.3 496.2,319.2 496.4,321.0 496.6,322.6 496.8,324.2 497.0,325.6 497.2,326.8 497.4,328.0 497.6,329.1 497.8,330.0 498.0,330.8 498.2,331.6 498.4,332.3 498.5,332.8 498.7,333.4 498.9,333.8 499.1,334.2 499.3,334.6 499.5,334.9 499.7,335.1 499.9,335.4 500.1,335.6 500.3,335.7 500.5,335.9 500.7,336.0 500.9,336.2 501.0,336.3 501.2,336.4 501.4,336.5 501.6,336.5 501.8,336.6 502.0,336.7 502.2,336.7 502.4,336.8 502.6,336.8 502.8,336.9 503.0,336.9 503.2,337.0 503.4,337.0 503.5,337.0 503.7,337.1 503.9,337.1 504.1,337.1 504.3,337.2 504.5,337.2 504.7,337.2 504.9,337.3 505.1,337.3 505.3,337.3 505.5,337.3 505.7,337.4 505.9,337.4 506.0,337.4 506.2,337.4 506.4,337.5 506.6,337.5 506.8,337.5 507.0,337.5 507.2,337.5 507.4,337.6 507.6,337.6 507.8,337.6 508.0,337.6 508.2,337.7 508.4,337.7 508.5,337.7 508.7,337.7 508.9,337.7 509.1,337.8 509.3,337.8 509.5,337.8 509.7,337.8 509.9,337.8 510.1,337.9 510.3,337.9 510.5,337.9 510.7,337.9 510.9,337.9 511.0,337.9 511.2,338.0 511.4,338.0 511.6,338.0 511.8,338.0 512.0,338.0 512.2,338.1 512.4,338.1 512.6,338.1 512.8,338.1 513.0,338.1 513.2,338.1 513.4,338.2 513.6,338.2 513.7,338.2 513.9,338.2 514.1,338.2 514.3,338.3 514.5,338.3 514.7,338.3 514.9,338.3 515.1,338.3 515.3,338.3 515.5,338.4 515.7,338.4 515.9,338.4 516.1,338.4 516.2,338.4 516.4,338.4 516.6,338.5 516.8,338.5 517.0,338.5 517.2,338.5 517.4,338.5 517.6,338.5 517.8,338.6 518.0,338.6 518.2,338.6 518.4,338.6 518.6,338.6 518.7,338.6 518.9,338.7 519.1,338.7 519.3,338.7 519.5,338.7 519.7,338.7 519.9,338.7 520.1,338.8 520.3,338.8 520.5,338.8 520.7,338.8 520.9,338.8 521.1,338.8 521.2,338.8 521.4,338.9 521.6,338.9 521.8,338.9 522.0,338.9 522.2,338.9 522.4,338.9" fill="none" stroke="#1414f0" stroke-width="1.40" stroke-linejoin="round" stroke-linecap="round" />
<circle cx="425.7" cy="331.7" r="0.50" fill="#e01010" stroke="#e01010" stroke-width="0.10"/>
<circle cx="428.8" cy="331.9" r="0.50" fill="#e01010" stroke="#e01010" stroke-width="0.10"/>
<circle cx="431.9" cy="332.1" r="0.50" fill="#e01010" stroke="#e01010" stroke-width="0.10"/>
<circle cx="434.9" cy="332.2" r="0.50" fill="#e01010" stroke="#e01010" stroke-width="0.10"/>
<circle cx="438.0" cy="332.4" r="0.50" fill="#e01010" stroke="#e01010" stroke-width="0.10"/>
<circle cx="441.1" cy="332.4" r="0.50" fill="#e01010" stroke="#e01010" stroke-width="0.10"/>
<circle cx="444.2" cy="331.7" r="0.50" fill="#e01010" stroke="#e01010" stroke-width="0.10"/>
<circle cx="446.3" cy="329.3" r="0.50" fill="#e01010" stroke="#e01010" stroke-width="0.10"/>
<circle cx="447.4" cy="326.4" r="0.50" fill="#e01010" stroke="#e01010" stroke-width="0.10"/>
<circle cx="448.4" cy="323.0" r="0.50" fill="#e01010" stroke="#e01010" stroke-width="0.10"/>
<circle cx="449.2" cy="319.5" r="0.50" fill="#e01010" stroke="#e01010" stroke-width="0.10"/>
<circle cx="449.7" cy="316.5" r="0.50" fill="#e01010" stroke="#e01010" stroke-width="0.10"/>
<circle cx="450.3" cy="313.2" r="0.50" fill="#e01010" stroke="#e01010" stroke-width="0.10"/>
<circle cx="450.9" cy="309.8" r="0.50" fill="#e01010" stroke="#e01010" stroke-width="0.10"/>
<circle cx="451.5" cy="306.4" r="0.50" fill="#e01010" stroke="#e01010" stroke-width="0.10"/>
<circle cx="452.1" cy="303.2" r="0.50" fill="#e01010" stroke="#e01010" stroke-width="0.10"/>
<circle cx="452.8" cy="299.5" r="0.50" fill="#e01010" stroke="#e01010" stroke-width="0.10"/>
<circle cx="453.8" cy="296.5" r="0.50" fill="#e01010" stroke="#e01010" stroke-width="0.10"/>
<circle cx="455.7" cy="297.9" r="0.50" fill="#e01010" stroke="#e01010" stroke-width="0.10"/>
<circle cx="456.5" cy="301.1" r="0.50" fill="#e01010" stroke="#e01010" stroke-width="0.10"/>
<circle cx="457.1" cy="304.1" r="0.50" fill="#e01010" stroke="#e01010" stroke-width="0.10"/>
<circle cx="457.6" cy="307.5" r="0.50" fill="#e01010" stroke="#e01010" stroke-width="0.10"/>
<circle cx="458.2" cy="311.0" r="0.50" fill="#e01010" stroke="#e01010" stroke-width="0.10"/>
<circle cx="458.8" cy="314.5" r="0.50" fill="#e01010" stroke="#e01010" stroke-width="0.10"/>
<circle cx="459.4" cy="317.8" r="0.50" fill="#e01010" stroke="#e01010" stroke-width="0.10"/>
<circle cx="459.9" cy="320.8" r="0.50" fill="#e01010" stroke="#e01010" stroke-width="0.10"/>
<circle cx="460.7" cy="324.3" r="0.50" fill="#e01010" stroke="#e01010" stroke-width="0.10"/>
<circle cx="461.7" cy="327.8" r="0.50" fill="#e01010" stroke="#e01010" stroke-width="0.10"/>
<circle cx="462.8" cy="330.6" r="0.50" fill="#e01010" stroke="#e01010" stroke-width="0.10"/>
<circle cx="464.8" cy="333.1" r="0.50" fill="#e01010" stroke="#e01010" stroke-width="0.10"/>
<circle cx="467.6" cy="334.2" r="0.50" fill="#e01010" stroke="#e01010" stroke-width="0.10"/>
<circle cx="470.7" cy="334.6" r="0.50" fill="#e01010" stroke="#e01010" stroke-width="0.10"/>
<circle cx="473.8" cy="334.8" r="0.50" fill="#e01010" stroke="#e01010" stroke-width="0.10"/>
<circle cx="476.9" cy="334.8" r="0.50" fill="#e01010" stroke="#e01010" stroke-width="0.10"/>
<circle cx="479.8" cy="333.5" r="0.50" fill="#e01010" stroke="#e01010" stroke-width="0.10"/>
<circle cx="481.5" cy="330.6" r="0.50" fill="#e01010" stroke="#e01010" stroke-width="0.10"/>
<circle cx="482.5" cy="327.7" r="0.50" fill="#e01010" stroke="#e01010" stroke-width="0.10"/>
<circle cx="483.2" cy="324.5" r="0.50" fill="#e01010" stroke="#e01010" stroke-width="0.10"/>
<circle cx="484.0" cy="320.5" r="0.50" fill="#e01010" stroke="#e01010" stroke-width="0.10"/>
<circle cx="484.6" cy="317.0" r="0.50" fill="#e01010" stroke="#e01010" stroke-width="0.10"/>
<circle cx="485.1" cy="313.2" r="0.50" fill="#e01010" stroke="#e01010" stroke-width="0.10"/>
<circle cx="485.7" cy="309.2" r="0.50" fill="#e01010" stroke="#e01010" stroke-width="0.10"/>
<circle cx="486.3" cy="304.9" r="0.50" fill="#e01010" stroke="#e01010" stroke-width="0.10"/>
<circle cx="486.9" cy="300.6" r="0.50" fill="#e01010" stroke="#e01010" stroke-width="0.10"/>
<circle cx="487.5" cy="296.3" r="0.50" fill="#e01010" stroke="#e01010" stroke-width="0.10"/>
<circle cx="488.0" cy="292.2" r="0.50" fill="#e01010" stroke="#e01010" stroke-width="0.10"/>
<circle cx="488.6" cy="288.2" r="0.50" fill="#e01010" stroke="#e01010" stroke-width="0.10"/>
<circle cx="489.2" cy="284.6" r="0.50" fill="#e01010" stroke="#e01010" stroke-width="0.10"/>
<circle cx="489.8" cy="281.5" r="0.50" fill="#e01010" stroke="#e01010" stroke-width="0.10"/>
<circle cx="490.7" cy="278.6" r="0.50" fill="#e01010" stroke="#e01010" stroke-width="0.10"/>
<circle cx="492.1" cy="281.7" r="0.50" fill="#e01010" stroke="#e01010" stroke-width="0.10"/>
<circle cx="492.6" cy="286.2" r="0.50" fill="#e01010" stroke="#e01010" stroke-width="0.10"/>
<circle cx="493.0" cy="290.0" r="0.50" fill="#e01010" stroke="#e01010" stroke-width="0.10"/>
<circle cx="493.4" cy="294.4" r="0.50" fill="#e01010" stroke="#e01010" stroke-width="0.10"/>
<circle cx="493.8" cy="299.1" r="0.50" fill="#e01010" stroke="#e01010" stroke-width="0.10"/>
<circle cx="494.2" cy="303.9" r="0.50" fill="#e01010" stroke="#e01010" stroke-width="0.10"/>
<circle cx="494.6" cy="308.6" r="0.50" fill="#e01010" stroke="#e01010" stroke-width="0.10"/>
<circle cx="495.0" cy="313.1" r="0.50" fill="#e01010" stroke="#e01010" stroke-width="0.10"/>
<circle cx="495.3" cy="317.3" r="0.50" fill="#e01010" stroke="#e01010" stroke-width="0.10"/>
<circle cx="495.7" cy="321.0" r="0.50" fill="#e01010" stroke="#e01010" stroke-width="0.10"/>
<circle cx="496.1" cy="324.2" r="0.50" fill="#e01010" stroke="#e01010" stroke-width="0.10"/>
<circle cx="496.7" cy="328.0" r="0.50" fill="#e01010" stroke="#e01010" stroke-width="0.10"/>
<circle cx="497.5" cy="331.6" r="0.50" fill="#e01010" stroke="#e01010" stroke-width="0.10"/>
<circle cx="498.6" cy="334.6" r="0.50" fill="#e01010" stroke="#e01010" stroke-width="0.10"/>
<circle cx="500.9" cy="336.5" r="0.50" fill="#e01010" stroke="#e01010" stroke-width="0.10"/>
<circle cx="504.0" cy="337.2" r="0.50" fill="#e01010" stroke="#e01010" stroke-width="0.10"/>
<circle cx="507.1" cy="337.6" r="0.50" fill="#e01010" stroke="#e01010" stroke-width="0.10"/>
<circle cx="510.2" cy="337.9" r="0.50" fill="#e01010" stroke="#e01010" stroke-width="0.10"/>
<circle cx="513.2" cy="338.2" r="0.50" fill="#e01010" stroke="#e01010" stroke-width="0.10"/>
<circle cx="516.3" cy="338.5" r="0.50" fill="#e01010" stroke="#e01010" stroke-width="0.10"/>
<circle cx="519.4" cy="338.8" r="0.50" fill="#e01010" stroke="#e01010" stroke-width="0.10"/>
<rect x="426.4" y="272.8" width="96.0" height="69.0" fill="none" stroke="#262626" stroke-width="1.10"/>
<line x1="440.8" y1="341.8" x2="440.8" y2="340.2" stroke="#262626" stroke-width="0.90"/>
<line x1="440.8" y1="272.8" x2="440.8" y2="274.4" stroke="#262626" stroke-width="0.90"/>
<line x1="464.8" y1="341.8" x2="464.8" y2="340.2" stroke="#262626" stroke-width="0.90"/>
<line x1="464.8" y1="272.8" x2="464.8" y2="274.4" stroke="#262626" stroke-width="0.90"/>
<line x1="488.8" y1="341.8" x2="488.8" y2="340.2" stroke="#262626" stroke-width="0.90"/>
<line x1="488.8" y1="272.8" x2="488.8" y2="274.4" stroke="#262626" stroke-width="0.90"/>
<line x1="512.8" y1="341.8" x2="512.8" y2="340.2" stroke="#262626" stroke-width="0.90"/>
<line x1="512.8" y1="272.8" x2="512.8" y2="274.4" stroke="#262626" stroke-width="0.90"/>
<line x1="426.4" y1="307.4" x2="428.0" y2="307.4" stroke="#262626" stroke-width="0.90"/>
<line x1="522.4" y1="307.4" x2="520.8" y2="307.4" stroke="#262626" stroke-width="0.90"/>
<text x="438.8" y="357.4" font-family='"Liberation Serif", serif' font-size="11.20" text-anchor="middle" fill="#262626" stroke="#262626" stroke-width="0.22" >455</text>
<text x="463.4" y="357.4" font-family='"Liberation Serif", serif' font-size="11.20" text-anchor="middle" fill="#262626" stroke="#262626" stroke-width="0.22" >450</text>
<text x="488.0" y="357.4" font-family='"Liberation Serif", serif' font-size="11.20" text-anchor="middle" fill="#262626" stroke="#262626" stroke-width="0.22" >445</text>
<text x="511.5" y="357.4" font-family='"Liberation Serif", serif' font-size="11.20" text-anchor="middle" fill="#262626" stroke="#262626" stroke-width="0.22" >440</text>
<text x="419.6" y="277.6" font-family='"Liberation Serif", serif' font-size="11.40" text-anchor="middle" fill="#262626" stroke="#262626" stroke-width="0.22" >4</text>
<text x="419.6" y="312.0" font-family='"Liberation Serif", serif' font-size="11.40" text-anchor="middle" fill="#262626" stroke="#262626" stroke-width="0.22" >2</text>
<text x="419.6" y="346.3" font-family='"Liberation Serif", serif' font-size="11.40" text-anchor="middle" fill="#262626" stroke="#262626" stroke-width="0.22" >0</text>
<text x="434.4" y="285.1" font-family='"Liberation Serif", serif' font-size="11.80" text-anchor="start" fill="#262626" stroke="#262626" stroke-width="0.22" >In 3d</text>
</svg>
</body></html>
